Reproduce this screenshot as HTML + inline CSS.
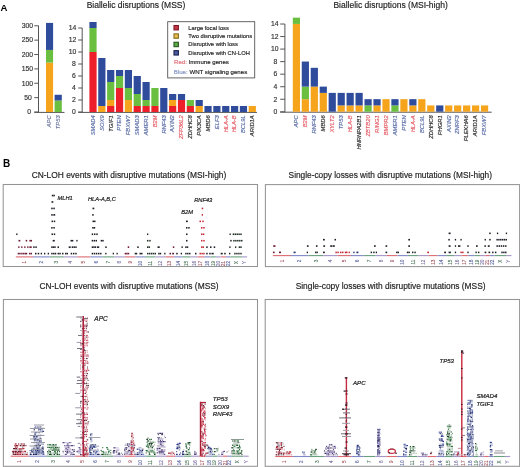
<!DOCTYPE html>
<html><head><meta charset="utf-8"><style>
html,body{margin:0;padding:0;background:#fff;}
svg{display:block;font-family:"Liberation Sans", Arial, Helvetica, sans-serif;filter:blur(0.35px);}
</style></head><body>
<svg width="520" height="467" viewBox="0 0 520 467">
<rect width="520" height="467" fill="#fff"/>
<text x="0.50" y="11.35" font-size="9.6" text-anchor="start" fill="#000" stroke="#000" stroke-width="0" font-weight="bold" font-style="normal" >A</text>
<text x="136.00" y="7.90" font-size="8.5" text-anchor="middle" fill="#222" stroke="#222" stroke-width="0.16" font-weight="normal" font-style="normal" >Biallelic disruptions (MSS)</text>
<text x="390.60" y="8.00" font-size="8.5" text-anchor="middle" fill="#222" stroke="#222" stroke-width="0.16" font-weight="normal" font-style="normal" >Biallelic disruptions (MSI-high)</text>
<line x1="38.50" y1="25.70" x2="38.50" y2="112.50" stroke="#555" stroke-width="1"/>
<line x1="34.30" y1="112.00" x2="38.50" y2="112.00" stroke="#555" stroke-width="1"/>
<text x="31.00" y="114.24" font-size="6.8" text-anchor="end" fill="#333" stroke="#333" stroke-width="0.16" font-weight="normal" font-style="normal" >0</text>
<line x1="34.30" y1="97.63" x2="38.50" y2="97.63" stroke="#555" stroke-width="1"/>
<text x="31.80" y="99.87" font-size="6.8" text-anchor="end" fill="#333" stroke="#333" stroke-width="0.16" font-weight="normal" font-style="normal" >50</text>
<line x1="34.30" y1="83.26" x2="38.50" y2="83.26" stroke="#555" stroke-width="1"/>
<text x="33.10" y="85.50" font-size="6.8" text-anchor="end" fill="#333" stroke="#333" stroke-width="0.16" font-weight="normal" font-style="normal" >100</text>
<line x1="34.30" y1="68.89" x2="38.50" y2="68.89" stroke="#555" stroke-width="1"/>
<text x="33.10" y="71.13" font-size="6.8" text-anchor="end" fill="#333" stroke="#333" stroke-width="0.16" font-weight="normal" font-style="normal" >150</text>
<line x1="34.30" y1="54.52" x2="38.50" y2="54.52" stroke="#555" stroke-width="1"/>
<text x="33.10" y="56.76" font-size="6.8" text-anchor="end" fill="#333" stroke="#333" stroke-width="0.16" font-weight="normal" font-style="normal" >200</text>
<line x1="34.30" y1="40.15" x2="38.50" y2="40.15" stroke="#555" stroke-width="1"/>
<text x="33.10" y="42.39" font-size="6.8" text-anchor="end" fill="#333" stroke="#333" stroke-width="0.16" font-weight="normal" font-style="normal" >250</text>
<line x1="34.30" y1="25.78" x2="38.50" y2="25.78" stroke="#555" stroke-width="1"/>
<text x="33.10" y="28.02" font-size="6.8" text-anchor="end" fill="#333" stroke="#333" stroke-width="0.16" font-weight="normal" font-style="normal" >300</text>
<line x1="34.30" y1="112.40" x2="64.50" y2="112.40" stroke="#555" stroke-width="1"/>
<rect x="46.00" y="62.57" width="7.10" height="49.43" fill="#f5a41c" />
<rect x="46.00" y="49.92" width="7.10" height="12.65" fill="#6abf40" />
<rect x="46.00" y="22.91" width="7.10" height="27.02" fill="#2f4c9c" />
<rect x="54.60" y="100.50" width="7.20" height="11.50" fill="#6abf40" />
<rect x="54.60" y="94.76" width="7.20" height="5.75" fill="#2f4c9c" />
<text transform="translate(51.40,115.4) rotate(-90)" font-size="5.75" font-style="italic" text-anchor="end" fill="#6a72a0" stroke="#6a72a0" stroke-width="0.14">APC</text>
<text transform="translate(60.00,115.4) rotate(-90)" font-size="5.75" font-style="italic" text-anchor="end" fill="#6a72a0" stroke="#6a72a0" stroke-width="0.14">TP53</text>
<line x1="82.20" y1="28.00" x2="82.20" y2="112.50" stroke="#555" stroke-width="1"/>
<line x1="78.20" y1="112.00" x2="82.20" y2="112.00" stroke="#555" stroke-width="1"/>
<text x="75.70" y="114.24" font-size="6.8" text-anchor="end" fill="#333" stroke="#333" stroke-width="0.16" font-weight="normal" font-style="normal" >0</text>
<line x1="78.20" y1="100.00" x2="82.20" y2="100.00" stroke="#555" stroke-width="1"/>
<text x="75.70" y="102.24" font-size="6.8" text-anchor="end" fill="#333" stroke="#333" stroke-width="0.16" font-weight="normal" font-style="normal" >2</text>
<line x1="78.20" y1="88.00" x2="82.20" y2="88.00" stroke="#555" stroke-width="1"/>
<text x="75.70" y="90.24" font-size="6.8" text-anchor="end" fill="#333" stroke="#333" stroke-width="0.16" font-weight="normal" font-style="normal" >4</text>
<line x1="78.20" y1="76.00" x2="82.20" y2="76.00" stroke="#555" stroke-width="1"/>
<text x="75.70" y="78.24" font-size="6.8" text-anchor="end" fill="#333" stroke="#333" stroke-width="0.16" font-weight="normal" font-style="normal" >6</text>
<line x1="78.20" y1="64.00" x2="82.20" y2="64.00" stroke="#555" stroke-width="1"/>
<text x="75.70" y="66.24" font-size="6.8" text-anchor="end" fill="#333" stroke="#333" stroke-width="0.16" font-weight="normal" font-style="normal" >8</text>
<line x1="78.20" y1="52.00" x2="82.20" y2="52.00" stroke="#555" stroke-width="1"/>
<text x="76.40" y="54.24" font-size="6.8" text-anchor="end" fill="#333" stroke="#333" stroke-width="0.16" font-weight="normal" font-style="normal" >10</text>
<line x1="78.20" y1="40.00" x2="82.20" y2="40.00" stroke="#555" stroke-width="1"/>
<text x="76.40" y="42.24" font-size="6.8" text-anchor="end" fill="#333" stroke="#333" stroke-width="0.16" font-weight="normal" font-style="normal" >12</text>
<line x1="78.20" y1="28.00" x2="82.20" y2="28.00" stroke="#555" stroke-width="1"/>
<text x="76.40" y="30.24" font-size="6.8" text-anchor="end" fill="#333" stroke="#333" stroke-width="0.16" font-weight="normal" font-style="normal" >14</text>
<line x1="78.20" y1="112.40" x2="257.00" y2="112.40" stroke="#555" stroke-width="1"/>
<rect x="89.40" y="52.00" width="7.20" height="60.00" fill="#ec1f2a" />
<rect x="89.40" y="28.00" width="7.20" height="24.00" fill="#6abf40" />
<rect x="89.40" y="22.00" width="7.20" height="6.00" fill="#2f4c9c" />
<rect x="98.25" y="106.00" width="7.20" height="6.00" fill="#f5a41c" />
<rect x="98.25" y="58.00" width="7.20" height="48.00" fill="#2f4c9c" />
<rect x="107.10" y="106.00" width="7.20" height="6.00" fill="#ec1f2a" />
<rect x="107.10" y="100.00" width="7.20" height="6.00" fill="#f5a41c" />
<rect x="107.10" y="82.00" width="7.20" height="18.00" fill="#6abf40" />
<rect x="107.10" y="70.00" width="7.20" height="12.00" fill="#2f4c9c" />
<rect x="115.95" y="88.00" width="7.20" height="24.00" fill="#ec1f2a" />
<rect x="115.95" y="76.00" width="7.20" height="12.00" fill="#6abf40" />
<rect x="115.95" y="70.00" width="7.20" height="6.00" fill="#2f4c9c" />
<rect x="124.80" y="100.00" width="7.20" height="12.00" fill="#f5a41c" />
<rect x="124.80" y="88.00" width="7.20" height="12.00" fill="#6abf40" />
<rect x="124.80" y="70.00" width="7.20" height="18.00" fill="#2f4c9c" />
<rect x="133.65" y="106.00" width="7.20" height="6.00" fill="#ec1f2a" />
<rect x="133.65" y="94.00" width="7.20" height="12.00" fill="#6abf40" />
<rect x="133.65" y="76.00" width="7.20" height="18.00" fill="#2f4c9c" />
<rect x="142.50" y="106.00" width="7.20" height="6.00" fill="#ec1f2a" />
<rect x="142.50" y="100.00" width="7.20" height="6.00" fill="#6abf40" />
<rect x="142.50" y="82.00" width="7.20" height="18.00" fill="#2f4c9c" />
<rect x="151.35" y="106.00" width="7.20" height="6.00" fill="#ec1f2a" />
<rect x="151.35" y="88.00" width="7.20" height="18.00" fill="#6abf40" />
<rect x="160.20" y="88.00" width="7.20" height="24.00" fill="#2f4c9c" />
<rect x="169.05" y="106.00" width="7.20" height="6.00" fill="#ec1f2a" />
<rect x="169.05" y="100.00" width="7.20" height="6.00" fill="#f5a41c" />
<rect x="169.05" y="94.00" width="7.20" height="6.00" fill="#2f4c9c" />
<rect x="177.90" y="100.00" width="7.20" height="12.00" fill="#ec1f2a" />
<rect x="177.90" y="94.00" width="7.20" height="6.00" fill="#2f4c9c" />
<rect x="186.75" y="106.00" width="7.20" height="6.00" fill="#ec1f2a" />
<rect x="186.75" y="100.00" width="7.20" height="6.00" fill="#6abf40" />
<rect x="195.60" y="106.00" width="7.20" height="6.00" fill="#f5a41c" />
<rect x="195.60" y="100.00" width="7.20" height="6.00" fill="#2f4c9c" />
<rect x="204.45" y="106.00" width="7.20" height="6.00" fill="#2f4c9c" />
<rect x="213.30" y="106.00" width="7.20" height="6.00" fill="#2f4c9c" />
<rect x="222.15" y="106.00" width="7.20" height="6.00" fill="#2f4c9c" />
<rect x="231.00" y="106.00" width="7.20" height="6.00" fill="#2f4c9c" />
<rect x="239.85" y="106.00" width="7.20" height="6.00" fill="#2f4c9c" />
<rect x="248.70" y="106.00" width="7.20" height="6.00" fill="#f5a41c" />
<text transform="translate(94.80,115.4) rotate(-90)" font-size="5.75" font-style="italic" text-anchor="end" fill="#5b6ea8" stroke="#5b6ea8" stroke-width="0.16">SMAD4</text>
<text transform="translate(103.65,115.4) rotate(-90)" font-size="5.75" font-style="italic" text-anchor="end" fill="#5b6ea8" stroke="#5b6ea8" stroke-width="0.16">SOX9</text>
<text transform="translate(112.50,115.4) rotate(-90)" font-size="5.75" font-style="italic" text-anchor="end" fill="#2e2e2e" stroke="#2e2e2e" stroke-width="0.16">TGIF1</text>
<text transform="translate(121.35,115.4) rotate(-90)" font-size="5.75" font-style="italic" text-anchor="end" fill="#5b6ea8" stroke="#5b6ea8" stroke-width="0.16">PTEN</text>
<text transform="translate(130.20,115.4) rotate(-90)" font-size="5.75" font-style="italic" text-anchor="end" fill="#5b6ea8" stroke="#5b6ea8" stroke-width="0.16">FBXW7</text>
<text transform="translate(139.05,115.4) rotate(-90)" font-size="5.75" font-style="italic" text-anchor="end" fill="#5b6ea8" stroke="#5b6ea8" stroke-width="0.16">SMAD3</text>
<text transform="translate(147.90,115.4) rotate(-90)" font-size="5.75" font-style="italic" text-anchor="end" fill="#5b6ea8" stroke="#5b6ea8" stroke-width="0.16">AMER1</text>
<text transform="translate(156.75,115.4) rotate(-90)" font-size="5.75" font-style="italic" text-anchor="end" fill="#e45b66" stroke="#e45b66" stroke-width="0.16">B2M</text>
<text transform="translate(165.60,115.4) rotate(-90)" font-size="5.75" font-style="italic" text-anchor="end" fill="#5b6ea8" stroke="#5b6ea8" stroke-width="0.16">RNF43</text>
<text transform="translate(174.45,115.4) rotate(-90)" font-size="5.75" font-style="italic" text-anchor="end" fill="#5b6ea8" stroke="#5b6ea8" stroke-width="0.16">AXIN2</text>
<text transform="translate(183.30,115.4) rotate(-90)" font-size="5.75" font-style="italic" text-anchor="end" fill="#e45b66" stroke="#e45b66" stroke-width="0.16">ZFP36L2</text>
<text transform="translate(192.15,115.4) rotate(-90)" font-size="5.75" font-style="italic" text-anchor="end" fill="#2e2e2e" stroke="#2e2e2e" stroke-width="0.16">ZDHHC8</text>
<text transform="translate(201.00,115.4) rotate(-90)" font-size="5.75" font-style="italic" text-anchor="end" fill="#2e2e2e" stroke="#2e2e2e" stroke-width="0.16">PIK3CA</text>
<text transform="translate(209.85,115.4) rotate(-90)" font-size="5.75" font-style="italic" text-anchor="end" fill="#2e2e2e" stroke="#2e2e2e" stroke-width="0.16">MBD6</text>
<text transform="translate(218.70,115.4) rotate(-90)" font-size="5.75" font-style="italic" text-anchor="end" fill="#5b6ea8" stroke="#5b6ea8" stroke-width="0.16">ELF3</text>
<text transform="translate(227.55,115.4) rotate(-90)" font-size="5.75" font-style="italic" text-anchor="end" fill="#e45b66" stroke="#e45b66" stroke-width="0.16">HLA-A</text>
<text transform="translate(236.40,115.4) rotate(-90)" font-size="5.75" font-style="italic" text-anchor="end" fill="#e45b66" stroke="#e45b66" stroke-width="0.16">HLA-B</text>
<text transform="translate(245.25,115.4) rotate(-90)" font-size="5.75" font-style="italic" text-anchor="end" fill="#5b6ea8" stroke="#5b6ea8" stroke-width="0.16">BCL9L</text>
<text transform="translate(254.10,115.4) rotate(-90)" font-size="5.75" font-style="italic" text-anchor="end" fill="#2e2e2e" stroke="#2e2e2e" stroke-width="0.16">ARID1A</text>
<rect x="167.7" y="21.7" width="87" height="56.2" fill="none" stroke="#555" stroke-width="0.9"/>
<rect x="174.0" y="25.50" width="4.4" height="4.4" fill="#c83444" stroke="#7a1828" stroke-width="1.1"/>
<text x="188.30" y="29.70" font-size="5.8" text-anchor="start" fill="#222" stroke="#222" stroke-width="0.16" font-weight="normal" font-style="normal" >Large focal loss</text>
<rect x="174.0" y="33.88" width="4.4" height="4.4" fill="#e6c048" stroke="#8a6a28" stroke-width="1.1"/>
<text x="188.30" y="38.08" font-size="5.8" text-anchor="start" fill="#222" stroke="#222" stroke-width="0.16" font-weight="normal" font-style="normal" >Two disruptive mutations</text>
<rect x="174.0" y="42.26" width="4.4" height="4.4" fill="#5ea848" stroke="#245a1c" stroke-width="1.1"/>
<text x="188.30" y="46.46" font-size="5.8" text-anchor="start" fill="#222" stroke="#222" stroke-width="0.16" font-weight="normal" font-style="normal" >Disruptive with loss</text>
<rect x="174.0" y="50.64" width="4.4" height="4.4" fill="#4a5aa0" stroke="#1a2250" stroke-width="1.1"/>
<text x="188.30" y="54.84" font-size="5.8" text-anchor="start" fill="#222" stroke="#222" stroke-width="0.16" font-weight="normal" font-style="normal" >Disruptive with CN-LOH</text>
<text x="174.0" y="64.4" font-size="6.1" fill="#222" stroke="#222" stroke-width="0.16"><tspan fill="#e07078" stroke="#e07078">Red:</tspan> Immune genes</text>
<text x="173.8" y="74.2" font-size="6.1" fill="#222" stroke="#222" stroke-width="0.16"><tspan fill="#8494c4" stroke="#8494c4">Blue:</tspan> WNT signaling genes</text>
<line x1="284.90" y1="24.00" x2="284.90" y2="112.30" stroke="#555" stroke-width="1"/>
<line x1="280.20" y1="111.80" x2="284.90" y2="111.80" stroke="#555" stroke-width="1"/>
<text x="277.30" y="114.04" font-size="6.8" text-anchor="end" fill="#333" stroke="#333" stroke-width="0.16" font-weight="normal" font-style="normal" >0</text>
<line x1="280.20" y1="99.26" x2="284.90" y2="99.26" stroke="#555" stroke-width="1"/>
<text x="277.30" y="101.50" font-size="6.8" text-anchor="end" fill="#333" stroke="#333" stroke-width="0.16" font-weight="normal" font-style="normal" >2</text>
<line x1="280.20" y1="86.72" x2="284.90" y2="86.72" stroke="#555" stroke-width="1"/>
<text x="277.30" y="88.96" font-size="6.8" text-anchor="end" fill="#333" stroke="#333" stroke-width="0.16" font-weight="normal" font-style="normal" >4</text>
<line x1="280.20" y1="74.18" x2="284.90" y2="74.18" stroke="#555" stroke-width="1"/>
<text x="277.30" y="76.42" font-size="6.8" text-anchor="end" fill="#333" stroke="#333" stroke-width="0.16" font-weight="normal" font-style="normal" >6</text>
<line x1="280.20" y1="61.64" x2="284.90" y2="61.64" stroke="#555" stroke-width="1"/>
<text x="277.30" y="63.88" font-size="6.8" text-anchor="end" fill="#333" stroke="#333" stroke-width="0.16" font-weight="normal" font-style="normal" >8</text>
<line x1="280.20" y1="49.10" x2="284.90" y2="49.10" stroke="#555" stroke-width="1"/>
<text x="278.50" y="51.34" font-size="6.8" text-anchor="end" fill="#333" stroke="#333" stroke-width="0.16" font-weight="normal" font-style="normal" >10</text>
<line x1="280.20" y1="36.56" x2="284.90" y2="36.56" stroke="#555" stroke-width="1"/>
<text x="278.50" y="38.80" font-size="6.8" text-anchor="end" fill="#333" stroke="#333" stroke-width="0.16" font-weight="normal" font-style="normal" >12</text>
<line x1="280.20" y1="24.02" x2="284.90" y2="24.02" stroke="#555" stroke-width="1"/>
<text x="278.50" y="26.26" font-size="6.8" text-anchor="end" fill="#333" stroke="#333" stroke-width="0.16" font-weight="normal" font-style="normal" >14</text>
<line x1="280.20" y1="112.20" x2="491.70" y2="112.20" stroke="#555" stroke-width="1"/>
<rect x="292.80" y="23.92" width="7.20" height="87.78" fill="#f5a41c" />
<rect x="292.80" y="17.65" width="7.20" height="6.27" fill="#6abf40" />
<rect x="301.76" y="99.16" width="7.20" height="12.54" fill="#f5a41c" />
<rect x="301.76" y="86.62" width="7.20" height="12.54" fill="#6abf40" />
<rect x="301.76" y="61.54" width="7.20" height="25.08" fill="#2f4c9c" />
<rect x="310.72" y="86.62" width="7.20" height="25.08" fill="#f5a41c" />
<rect x="310.72" y="67.81" width="7.20" height="18.81" fill="#2f4c9c" />
<rect x="319.68" y="92.89" width="7.20" height="18.81" fill="#f5a41c" />
<rect x="319.68" y="86.62" width="7.20" height="6.27" fill="#2f4c9c" />
<rect x="328.64" y="92.89" width="7.20" height="18.81" fill="#2f4c9c" />
<rect x="337.60" y="105.43" width="7.20" height="6.27" fill="#f5a41c" />
<rect x="337.60" y="92.89" width="7.20" height="12.54" fill="#2f4c9c" />
<rect x="346.56" y="105.43" width="7.20" height="6.27" fill="#f5a41c" />
<rect x="346.56" y="92.89" width="7.20" height="12.54" fill="#2f4c9c" />
<rect x="355.52" y="105.43" width="7.20" height="6.27" fill="#f5a41c" />
<rect x="355.52" y="92.89" width="7.20" height="12.54" fill="#2f4c9c" />
<rect x="364.48" y="105.43" width="7.20" height="6.27" fill="#6abf40" />
<rect x="364.48" y="99.16" width="7.20" height="6.27" fill="#2f4c9c" />
<rect x="373.44" y="105.43" width="7.20" height="6.27" fill="#f5a41c" />
<rect x="373.44" y="99.16" width="7.20" height="6.27" fill="#2f4c9c" />
<rect x="382.40" y="99.16" width="7.20" height="12.54" fill="#f5a41c" />
<rect x="391.36" y="105.43" width="7.20" height="6.27" fill="#6abf40" />
<rect x="391.36" y="99.16" width="7.20" height="6.27" fill="#2f4c9c" />
<rect x="400.32" y="99.16" width="7.20" height="12.54" fill="#f5a41c" />
<rect x="409.28" y="105.43" width="7.20" height="6.27" fill="#f5a41c" />
<rect x="409.28" y="99.16" width="7.20" height="6.27" fill="#2f4c9c" />
<rect x="418.24" y="99.16" width="7.20" height="12.54" fill="#f5a41c" />
<rect x="427.20" y="105.43" width="7.20" height="6.27" fill="#f5a41c" />
<rect x="436.16" y="105.43" width="7.20" height="6.27" fill="#2f4c9c" />
<rect x="445.12" y="105.43" width="7.20" height="6.27" fill="#f5a41c" />
<rect x="454.08" y="105.43" width="7.20" height="6.27" fill="#f5a41c" />
<rect x="463.04" y="105.43" width="7.20" height="6.27" fill="#f5a41c" />
<rect x="472.00" y="105.43" width="7.20" height="6.27" fill="#f5a41c" />
<rect x="480.96" y="105.43" width="7.20" height="6.27" fill="#f5a41c" />
<text transform="translate(298.20,115.4) rotate(-90)" font-size="5.75" font-style="italic" text-anchor="end" fill="#5b6ea8" stroke="#5b6ea8" stroke-width="0.16">APC</text>
<text transform="translate(307.16,115.4) rotate(-90)" font-size="5.75" font-style="italic" text-anchor="end" fill="#e45b66" stroke="#e45b66" stroke-width="0.16">B2M</text>
<text transform="translate(316.12,115.4) rotate(-90)" font-size="5.75" font-style="italic" text-anchor="end" fill="#5b6ea8" stroke="#5b6ea8" stroke-width="0.16">RNF43</text>
<text transform="translate(325.08,115.4) rotate(-90)" font-size="5.75" font-style="italic" text-anchor="end" fill="#2e2e2e" stroke="#2e2e2e" stroke-width="0.16">MBD6</text>
<text transform="translate(334.04,115.4) rotate(-90)" font-size="5.75" font-style="italic" text-anchor="end" fill="#e45b66" stroke="#e45b66" stroke-width="0.16">XYLT2</text>
<text transform="translate(343.00,115.4) rotate(-90)" font-size="5.75" font-style="italic" text-anchor="end" fill="#5b6ea8" stroke="#5b6ea8" stroke-width="0.16">TP53</text>
<text transform="translate(351.96,115.4) rotate(-90)" font-size="5.75" font-style="italic" text-anchor="end" fill="#e45b66" stroke="#e45b66" stroke-width="0.16">HLA-B</text>
<text transform="translate(360.92,115.4) rotate(-90)" font-size="5.75" font-style="italic" text-anchor="end" fill="#2e2e2e" stroke="#2e2e2e" stroke-width="0.16">HNRNPA2B1</text>
<text transform="translate(369.88,115.4) rotate(-90)" font-size="5.75" font-style="italic" text-anchor="end" fill="#e45b66" stroke="#e45b66" stroke-width="0.16">ZBTB20</text>
<text transform="translate(378.84,115.4) rotate(-90)" font-size="5.75" font-style="italic" text-anchor="end" fill="#e45b66" stroke="#e45b66" stroke-width="0.16">RING1</text>
<text transform="translate(387.80,115.4) rotate(-90)" font-size="5.75" font-style="italic" text-anchor="end" fill="#e45b66" stroke="#e45b66" stroke-width="0.16">BMPR2</text>
<text transform="translate(396.76,115.4) rotate(-90)" font-size="5.75" font-style="italic" text-anchor="end" fill="#5b6ea8" stroke="#5b6ea8" stroke-width="0.16">AMER1</text>
<text transform="translate(405.72,115.4) rotate(-90)" font-size="5.75" font-style="italic" text-anchor="end" fill="#5b6ea8" stroke="#5b6ea8" stroke-width="0.16">PTEN</text>
<text transform="translate(414.68,115.4) rotate(-90)" font-size="5.75" font-style="italic" text-anchor="end" fill="#e45b66" stroke="#e45b66" stroke-width="0.16">HLA-A</text>
<text transform="translate(423.64,115.4) rotate(-90)" font-size="5.75" font-style="italic" text-anchor="end" fill="#5b6ea8" stroke="#5b6ea8" stroke-width="0.16">BCL9L</text>
<text transform="translate(432.60,115.4) rotate(-90)" font-size="5.75" font-style="italic" text-anchor="end" fill="#2e2e2e" stroke="#2e2e2e" stroke-width="0.16">ZDHHC8</text>
<text transform="translate(441.56,115.4) rotate(-90)" font-size="5.75" font-style="italic" text-anchor="end" fill="#2e2e2e" stroke="#2e2e2e" stroke-width="0.16">PHGR1</text>
<text transform="translate(450.52,115.4) rotate(-90)" font-size="5.75" font-style="italic" text-anchor="end" fill="#5b6ea8" stroke="#5b6ea8" stroke-width="0.16">AXIN2</text>
<text transform="translate(459.48,115.4) rotate(-90)" font-size="5.75" font-style="italic" text-anchor="end" fill="#5b6ea8" stroke="#5b6ea8" stroke-width="0.16">ZNRF3</text>
<text transform="translate(468.44,115.4) rotate(-90)" font-size="5.75" font-style="italic" text-anchor="end" fill="#2e2e2e" stroke="#2e2e2e" stroke-width="0.16">PLEKHA6</text>
<text transform="translate(477.40,115.4) rotate(-90)" font-size="5.75" font-style="italic" text-anchor="end" fill="#2e2e2e" stroke="#2e2e2e" stroke-width="0.16">ARID1A</text>
<text transform="translate(486.36,115.4) rotate(-90)" font-size="5.75" font-style="italic" text-anchor="end" fill="#5b6ea8" stroke="#5b6ea8" stroke-width="0.16">FBXW7</text>
<text x="2.90" y="167.20" font-size="10" text-anchor="start" fill="#000" stroke="#000" stroke-width="0" font-weight="bold" font-style="normal" >B</text>
<rect x="3.2" y="184.5" width="254.30" height="82.00" fill="none" stroke="#949494" stroke-width="1.05"/>
<rect x="265.4" y="184.6" width="254.20" height="82.00" fill="none" stroke="#949494" stroke-width="1.05"/>
<rect x="3.4" y="299.5" width="254.10" height="166.80" fill="none" stroke="#949494" stroke-width="1.05"/>
<rect x="265.2" y="299.5" width="254.40" height="166.80" fill="none" stroke="#949494" stroke-width="1.05"/>
<text x="129.00" y="178.20" font-size="8.4" text-anchor="middle" fill="#222" stroke="#222" stroke-width="0.16" font-weight="normal" font-style="normal" >CN-LOH events with disruptive mutations (MSI-high)</text>
<text x="390.30" y="178.20" font-size="8.3" text-anchor="middle" fill="#222" stroke="#222" stroke-width="0.16" font-weight="normal" font-style="normal" >Single-copy losses with disruptive mutations (MSI-high)</text>
<text x="129.00" y="289.00" font-size="8.4" text-anchor="middle" fill="#222" stroke="#222" stroke-width="0.16" font-weight="normal" font-style="normal" >CN-LOH events with disruptive mutations (MSS)</text>
<text x="390.60" y="289.00" font-size="8.4" text-anchor="middle" fill="#222" stroke="#222" stroke-width="0.16" font-weight="normal" font-style="normal" >Single-copy losses with disruptive mutations (MSS)</text>
<rect x="15.80" y="256.35" width="17.21" height="1.10" fill="#dc6a72" />
<text transform="translate(26.01,260.90) rotate(-90)" font-size="4.6" text-anchor="end" fill="#a0505a" stroke="#a0505a" stroke-width="0.12">1</text>
<rect x="33.02" y="256.35" width="16.83" height="1.10" fill="#8088c8" />
<text transform="translate(43.04,260.90) rotate(-90)" font-size="4.6" text-anchor="end" fill="#5a64a0" stroke="#5a64a0" stroke-width="0.12">2</text>
<rect x="49.85" y="256.35" width="13.99" height="1.10" fill="#68a07c" />
<text transform="translate(58.45,260.90) rotate(-90)" font-size="4.6" text-anchor="end" fill="#4a7458" stroke="#4a7458" stroke-width="0.12">3</text>
<rect x="63.84" y="256.35" width="13.55" height="1.10" fill="#a494c8" />
<text transform="translate(72.22,260.90) rotate(-90)" font-size="4.6" text-anchor="end" fill="#7a70a0" stroke="#7a70a0" stroke-width="0.12">4</text>
<rect x="77.39" y="256.35" width="12.91" height="1.10" fill="#dc6a72" />
<text transform="translate(85.45,260.90) rotate(-90)" font-size="4.6" text-anchor="end" fill="#a0505a" stroke="#a0505a" stroke-width="0.12">5</text>
<rect x="90.30" y="256.35" width="12.29" height="1.10" fill="#8088c8" />
<text transform="translate(98.05,260.90) rotate(-90)" font-size="4.6" text-anchor="end" fill="#5a64a0" stroke="#5a64a0" stroke-width="0.12">6</text>
<rect x="102.60" y="256.35" width="11.54" height="1.10" fill="#68a07c" />
<text transform="translate(109.97,260.90) rotate(-90)" font-size="4.6" text-anchor="end" fill="#4a7458" stroke="#4a7458" stroke-width="0.12">7</text>
<rect x="114.13" y="256.35" width="10.73" height="1.10" fill="#a494c8" />
<text transform="translate(121.10,260.90) rotate(-90)" font-size="4.6" text-anchor="end" fill="#7a70a0" stroke="#7a70a0" stroke-width="0.12">8</text>
<rect x="124.87" y="256.35" width="10.41" height="1.10" fill="#dc6a72" />
<text transform="translate(131.67,260.90) rotate(-90)" font-size="4.6" text-anchor="end" fill="#a0505a" stroke="#a0505a" stroke-width="0.12">9</text>
<rect x="135.28" y="256.35" width="10.05" height="1.10" fill="#8088c8" />
<text transform="translate(141.90,260.90) rotate(-90)" font-size="4.6" text-anchor="end" fill="#5a64a0" stroke="#5a64a0" stroke-width="0.12">10</text>
<rect x="145.33" y="256.35" width="10.02" height="1.10" fill="#68a07c" />
<text transform="translate(151.93,260.90) rotate(-90)" font-size="4.6" text-anchor="end" fill="#4a7458" stroke="#4a7458" stroke-width="0.12">11</text>
<rect x="155.34" y="256.35" width="9.94" height="1.10" fill="#a494c8" />
<text transform="translate(161.92,260.90) rotate(-90)" font-size="4.6" text-anchor="end" fill="#7a70a0" stroke="#7a70a0" stroke-width="0.12">12</text>
<rect x="165.29" y="256.35" width="8.77" height="1.10" fill="#dc6a72" />
<text transform="translate(171.27,260.90) rotate(-90)" font-size="4.6" text-anchor="end" fill="#a0505a" stroke="#a0505a" stroke-width="0.12">13</text>
<rect x="174.06" y="256.35" width="8.28" height="1.10" fill="#8088c8" />
<text transform="translate(179.79,260.90) rotate(-90)" font-size="4.6" text-anchor="end" fill="#5a64a0" stroke="#5a64a0" stroke-width="0.12">14</text>
<rect x="182.33" y="256.35" width="7.97" height="1.10" fill="#68a07c" />
<text transform="translate(187.92,260.90) rotate(-90)" font-size="4.6" text-anchor="end" fill="#4a7458" stroke="#4a7458" stroke-width="0.12">15</text>
<rect x="190.30" y="256.35" width="7.20" height="1.10" fill="#a494c8" />
<text transform="translate(195.50,260.90) rotate(-90)" font-size="4.6" text-anchor="end" fill="#7a70a0" stroke="#7a70a0" stroke-width="0.12">16</text>
<rect x="197.51" y="256.35" width="6.63" height="1.10" fill="#dc6a72" />
<text transform="translate(202.42,260.90) rotate(-90)" font-size="4.6" text-anchor="end" fill="#a0505a" stroke="#a0505a" stroke-width="0.12">17</text>
<rect x="204.13" y="256.35" width="6.43" height="1.10" fill="#8088c8" />
<text transform="translate(208.95,260.90) rotate(-90)" font-size="4.6" text-anchor="end" fill="#5a64a0" stroke="#5a64a0" stroke-width="0.12">18</text>
<rect x="210.56" y="256.35" width="5.24" height="1.10" fill="#68a07c" />
<text transform="translate(214.78,260.90) rotate(-90)" font-size="4.6" text-anchor="end" fill="#4a7458" stroke="#4a7458" stroke-width="0.12">19</text>
<rect x="215.80" y="256.35" width="5.48" height="1.10" fill="#a494c8" />
<text transform="translate(220.14,260.90) rotate(-90)" font-size="4.6" text-anchor="end" fill="#7a70a0" stroke="#7a70a0" stroke-width="0.12">20</text>
<rect x="221.28" y="256.35" width="4.54" height="1.10" fill="#dc6a72" />
<text transform="translate(225.16,260.90) rotate(-90)" font-size="4.6" text-anchor="end" fill="#a0505a" stroke="#a0505a" stroke-width="0.12">21</text>
<rect x="225.83" y="256.35" width="4.74" height="1.10" fill="#8088c8" />
<text transform="translate(229.80,260.90) rotate(-90)" font-size="4.6" text-anchor="end" fill="#5a64a0" stroke="#5a64a0" stroke-width="0.12">22</text>
<rect x="230.57" y="256.35" width="11.29" height="1.10" fill="#68a07c" />
<text transform="translate(237.82,260.90) rotate(-90)" font-size="4.6" text-anchor="end" fill="#4a7458" stroke="#4a7458" stroke-width="0.12">X</text>
<rect x="241.87" y="256.35" width="5.25" height="1.10" fill="#a494c8" />
<text transform="translate(246.09,260.90) rotate(-90)" font-size="4.6" text-anchor="end" fill="#7a70a0" stroke="#7a70a0" stroke-width="0.12">Y</text>
<rect x="272.86" y="255.05" width="18.10" height="1.10" fill="#dc6a72" />
<text transform="translate(283.51,259.60) rotate(-90)" font-size="4.6" text-anchor="end" fill="#a0505a" stroke="#a0505a" stroke-width="0.12">1</text>
<rect x="290.96" y="255.05" width="17.69" height="1.10" fill="#8088c8" />
<text transform="translate(301.40,259.60) rotate(-90)" font-size="4.6" text-anchor="end" fill="#5a64a0" stroke="#5a64a0" stroke-width="0.12">2</text>
<rect x="308.64" y="255.05" width="14.62" height="1.10" fill="#68a07c" />
<text transform="translate(317.55,259.60) rotate(-90)" font-size="4.6" text-anchor="end" fill="#4a7458" stroke="#4a7458" stroke-width="0.12">3</text>
<rect x="323.27" y="255.05" width="14.16" height="1.10" fill="#a494c8" />
<text transform="translate(331.94,259.60) rotate(-90)" font-size="4.6" text-anchor="end" fill="#7a70a0" stroke="#7a70a0" stroke-width="0.12">4</text>
<rect x="337.42" y="255.05" width="13.46" height="1.10" fill="#dc6a72" />
<text transform="translate(345.76,259.60) rotate(-90)" font-size="4.6" text-anchor="end" fill="#a0505a" stroke="#a0505a" stroke-width="0.12">5</text>
<rect x="350.89" y="255.05" width="12.80" height="1.10" fill="#8088c8" />
<text transform="translate(358.89,259.60) rotate(-90)" font-size="4.6" text-anchor="end" fill="#5a64a0" stroke="#5a64a0" stroke-width="0.12">6</text>
<rect x="363.69" y="255.05" width="11.99" height="1.10" fill="#68a07c" />
<text transform="translate(371.28,259.60) rotate(-90)" font-size="4.6" text-anchor="end" fill="#4a7458" stroke="#4a7458" stroke-width="0.12">7</text>
<rect x="375.67" y="255.05" width="11.12" height="1.10" fill="#a494c8" />
<text transform="translate(382.83,259.60) rotate(-90)" font-size="4.6" text-anchor="end" fill="#7a70a0" stroke="#7a70a0" stroke-width="0.12">8</text>
<rect x="386.79" y="255.05" width="10.77" height="1.10" fill="#dc6a72" />
<text transform="translate(393.78,259.60) rotate(-90)" font-size="4.6" text-anchor="end" fill="#a0505a" stroke="#a0505a" stroke-width="0.12">9</text>
<rect x="397.56" y="255.05" width="10.39" height="1.10" fill="#8088c8" />
<text transform="translate(404.36,259.60) rotate(-90)" font-size="4.6" text-anchor="end" fill="#5a64a0" stroke="#5a64a0" stroke-width="0.12">10</text>
<rect x="407.95" y="255.05" width="10.35" height="1.10" fill="#68a07c" />
<text transform="translate(414.72,259.60) rotate(-90)" font-size="4.6" text-anchor="end" fill="#4a7458" stroke="#4a7458" stroke-width="0.12">11</text>
<rect x="418.30" y="255.05" width="10.27" height="1.10" fill="#a494c8" />
<text transform="translate(425.04,259.60) rotate(-90)" font-size="4.6" text-anchor="end" fill="#7a70a0" stroke="#7a70a0" stroke-width="0.12">12</text>
<rect x="428.57" y="255.05" width="9.01" height="1.10" fill="#dc6a72" />
<text transform="translate(434.67,259.60) rotate(-90)" font-size="4.6" text-anchor="end" fill="#a0505a" stroke="#a0505a" stroke-width="0.12">13</text>
<rect x="437.58" y="255.05" width="8.48" height="1.10" fill="#8088c8" />
<text transform="translate(443.42,259.60) rotate(-90)" font-size="4.6" text-anchor="end" fill="#5a64a0" stroke="#5a64a0" stroke-width="0.12">14</text>
<rect x="446.05" y="255.05" width="8.15" height="1.10" fill="#68a07c" />
<text transform="translate(451.73,259.60) rotate(-90)" font-size="4.6" text-anchor="end" fill="#4a7458" stroke="#4a7458" stroke-width="0.12">15</text>
<rect x="454.20" y="255.05" width="7.32" height="1.10" fill="#a494c8" />
<text transform="translate(459.46,259.60) rotate(-90)" font-size="4.6" text-anchor="end" fill="#7a70a0" stroke="#7a70a0" stroke-width="0.12">16</text>
<rect x="461.52" y="255.05" width="6.70" height="1.10" fill="#dc6a72" />
<text transform="translate(466.48,259.60) rotate(-90)" font-size="4.6" text-anchor="end" fill="#a0505a" stroke="#a0505a" stroke-width="0.12">17</text>
<rect x="468.23" y="255.05" width="6.49" height="1.10" fill="#8088c8" />
<text transform="translate(473.07,259.60) rotate(-90)" font-size="4.6" text-anchor="end" fill="#5a64a0" stroke="#5a64a0" stroke-width="0.12">18</text>
<rect x="474.72" y="255.05" width="5.21" height="1.10" fill="#68a07c" />
<text transform="translate(478.92,259.60) rotate(-90)" font-size="4.6" text-anchor="end" fill="#4a7458" stroke="#4a7458" stroke-width="0.12">19</text>
<rect x="479.92" y="255.05" width="5.47" height="1.10" fill="#a494c8" />
<text transform="translate(484.26,259.60) rotate(-90)" font-size="4.6" text-anchor="end" fill="#7a70a0" stroke="#7a70a0" stroke-width="0.12">20</text>
<rect x="485.39" y="255.05" width="4.46" height="1.10" fill="#dc6a72" />
<text transform="translate(489.22,259.60) rotate(-90)" font-size="4.6" text-anchor="end" fill="#a0505a" stroke="#a0505a" stroke-width="0.12">21</text>
<rect x="489.85" y="255.05" width="4.68" height="1.10" fill="#8088c8" />
<text transform="translate(493.79,259.60) rotate(-90)" font-size="4.6" text-anchor="end" fill="#5a64a0" stroke="#5a64a0" stroke-width="0.12">22</text>
<rect x="494.53" y="255.05" width="11.72" height="1.10" fill="#68a07c" />
<text transform="translate(501.99,259.60) rotate(-90)" font-size="4.6" text-anchor="end" fill="#4a7458" stroke="#4a7458" stroke-width="0.12">X</text>
<rect x="506.25" y="255.05" width="5.22" height="1.10" fill="#a494c8" />
<text transform="translate(510.46,259.60) rotate(-90)" font-size="4.6" text-anchor="end" fill="#7a70a0" stroke="#7a70a0" stroke-width="0.12">Y</text>
<rect x="10.65" y="455.65" width="18.11" height="1.10" fill="#dc6a72" />
<text transform="translate(21.31,460.20) rotate(-90)" font-size="4.6" text-anchor="end" fill="#a0505a" stroke="#a0505a" stroke-width="0.12">1</text>
<rect x="28.76" y="455.65" width="17.70" height="1.10" fill="#8088c8" />
<text transform="translate(39.21,460.20) rotate(-90)" font-size="4.6" text-anchor="end" fill="#5a64a0" stroke="#5a64a0" stroke-width="0.12">2</text>
<rect x="46.46" y="455.65" width="14.62" height="1.10" fill="#68a07c" />
<text transform="translate(55.37,460.20) rotate(-90)" font-size="4.6" text-anchor="end" fill="#4a7458" stroke="#4a7458" stroke-width="0.12">3</text>
<rect x="61.08" y="455.65" width="14.15" height="1.10" fill="#a494c8" />
<text transform="translate(69.75,460.20) rotate(-90)" font-size="4.6" text-anchor="end" fill="#7a70a0" stroke="#7a70a0" stroke-width="0.12">4</text>
<rect x="75.23" y="455.65" width="13.46" height="1.10" fill="#dc6a72" />
<text transform="translate(83.56,460.20) rotate(-90)" font-size="4.6" text-anchor="end" fill="#a0505a" stroke="#a0505a" stroke-width="0.12">5</text>
<rect x="88.69" y="455.65" width="12.79" height="1.10" fill="#8088c8" />
<text transform="translate(96.68,460.20) rotate(-90)" font-size="4.6" text-anchor="end" fill="#5a64a0" stroke="#5a64a0" stroke-width="0.12">6</text>
<rect x="101.47" y="455.65" width="11.97" height="1.10" fill="#68a07c" />
<text transform="translate(109.06,460.20) rotate(-90)" font-size="4.6" text-anchor="end" fill="#4a7458" stroke="#4a7458" stroke-width="0.12">7</text>
<rect x="113.45" y="455.65" width="11.10" height="1.10" fill="#a494c8" />
<text transform="translate(120.60,460.20) rotate(-90)" font-size="4.6" text-anchor="end" fill="#7a70a0" stroke="#7a70a0" stroke-width="0.12">8</text>
<rect x="124.55" y="455.65" width="10.75" height="1.10" fill="#dc6a72" />
<text transform="translate(131.52,460.20) rotate(-90)" font-size="4.6" text-anchor="end" fill="#a0505a" stroke="#a0505a" stroke-width="0.12">9</text>
<rect x="135.30" y="455.65" width="10.36" height="1.10" fill="#8088c8" />
<text transform="translate(142.08,460.20) rotate(-90)" font-size="4.6" text-anchor="end" fill="#5a64a0" stroke="#5a64a0" stroke-width="0.12">10</text>
<rect x="145.67" y="455.65" width="10.33" height="1.10" fill="#68a07c" />
<text transform="translate(152.43,460.20) rotate(-90)" font-size="4.6" text-anchor="end" fill="#4a7458" stroke="#4a7458" stroke-width="0.12">11</text>
<rect x="155.99" y="455.65" width="10.25" height="1.10" fill="#a494c8" />
<text transform="translate(162.72,460.20) rotate(-90)" font-size="4.6" text-anchor="end" fill="#7a70a0" stroke="#7a70a0" stroke-width="0.12">12</text>
<rect x="166.24" y="455.65" width="8.98" height="1.10" fill="#dc6a72" />
<text transform="translate(172.33,460.20) rotate(-90)" font-size="4.6" text-anchor="end" fill="#a0505a" stroke="#a0505a" stroke-width="0.12">13</text>
<rect x="175.22" y="455.65" width="8.45" height="1.10" fill="#8088c8" />
<text transform="translate(181.05,460.20) rotate(-90)" font-size="4.6" text-anchor="end" fill="#5a64a0" stroke="#5a64a0" stroke-width="0.12">14</text>
<rect x="183.67" y="455.65" width="8.12" height="1.10" fill="#68a07c" />
<text transform="translate(189.33,460.20) rotate(-90)" font-size="4.6" text-anchor="end" fill="#4a7458" stroke="#4a7458" stroke-width="0.12">15</text>
<rect x="191.79" y="455.65" width="7.29" height="1.10" fill="#a494c8" />
<text transform="translate(197.03,460.20) rotate(-90)" font-size="4.6" text-anchor="end" fill="#7a70a0" stroke="#7a70a0" stroke-width="0.12">16</text>
<rect x="199.07" y="455.65" width="6.66" height="1.10" fill="#dc6a72" />
<text transform="translate(204.01,460.20) rotate(-90)" font-size="4.6" text-anchor="end" fill="#a0505a" stroke="#a0505a" stroke-width="0.12">17</text>
<rect x="205.74" y="455.65" width="6.45" height="1.10" fill="#8088c8" />
<text transform="translate(210.56,460.20) rotate(-90)" font-size="4.6" text-anchor="end" fill="#5a64a0" stroke="#5a64a0" stroke-width="0.12">18</text>
<rect x="212.19" y="455.65" width="5.16" height="1.10" fill="#68a07c" />
<text transform="translate(216.37,460.20) rotate(-90)" font-size="4.6" text-anchor="end" fill="#4a7458" stroke="#4a7458" stroke-width="0.12">19</text>
<rect x="217.35" y="455.65" width="5.43" height="1.10" fill="#a494c8" />
<text transform="translate(221.67,460.20) rotate(-90)" font-size="4.6" text-anchor="end" fill="#7a70a0" stroke="#7a70a0" stroke-width="0.12">20</text>
<rect x="222.78" y="455.65" width="4.41" height="1.10" fill="#dc6a72" />
<text transform="translate(226.59,460.20) rotate(-90)" font-size="4.6" text-anchor="end" fill="#a0505a" stroke="#a0505a" stroke-width="0.12">21</text>
<rect x="227.19" y="455.65" width="4.63" height="1.10" fill="#8088c8" />
<text transform="translate(231.11,460.20) rotate(-90)" font-size="4.6" text-anchor="end" fill="#5a64a0" stroke="#5a64a0" stroke-width="0.12">22</text>
<rect x="231.82" y="455.65" width="11.71" height="1.10" fill="#68a07c" />
<text transform="translate(239.28,460.20) rotate(-90)" font-size="4.6" text-anchor="end" fill="#4a7458" stroke="#4a7458" stroke-width="0.12">X</text>
<rect x="243.53" y="455.65" width="5.18" height="1.10" fill="#a494c8" />
<text transform="translate(247.72,460.20) rotate(-90)" font-size="4.6" text-anchor="end" fill="#7a70a0" stroke="#7a70a0" stroke-width="0.12">Y</text>
<rect x="275.25" y="455.95" width="17.58" height="1.10" fill="#dc6a72" />
<text transform="translate(285.65,460.50) rotate(-90)" font-size="4.6" text-anchor="end" fill="#a0505a" stroke="#a0505a" stroke-width="0.12">1</text>
<rect x="292.84" y="455.95" width="17.19" height="1.10" fill="#8088c8" />
<text transform="translate(303.03,460.50) rotate(-90)" font-size="4.6" text-anchor="end" fill="#5a64a0" stroke="#5a64a0" stroke-width="0.12">2</text>
<rect x="310.03" y="455.95" width="14.26" height="1.10" fill="#68a07c" />
<text transform="translate(318.76,460.50) rotate(-90)" font-size="4.6" text-anchor="end" fill="#4a7458" stroke="#4a7458" stroke-width="0.12">3</text>
<rect x="324.29" y="455.95" width="13.82" height="1.10" fill="#a494c8" />
<text transform="translate(332.80,460.50) rotate(-90)" font-size="4.6" text-anchor="end" fill="#7a70a0" stroke="#7a70a0" stroke-width="0.12">4</text>
<rect x="338.11" y="455.95" width="13.15" height="1.10" fill="#dc6a72" />
<text transform="translate(346.28,460.50) rotate(-90)" font-size="4.6" text-anchor="end" fill="#a0505a" stroke="#a0505a" stroke-width="0.12">5</text>
<rect x="351.26" y="455.95" width="12.52" height="1.10" fill="#8088c8" />
<text transform="translate(359.12,460.50) rotate(-90)" font-size="4.6" text-anchor="end" fill="#5a64a0" stroke="#5a64a0" stroke-width="0.12">6</text>
<rect x="363.78" y="455.95" width="11.74" height="1.10" fill="#68a07c" />
<text transform="translate(371.25,460.50) rotate(-90)" font-size="4.6" text-anchor="end" fill="#4a7458" stroke="#4a7458" stroke-width="0.12">7</text>
<rect x="375.52" y="455.95" width="10.92" height="1.10" fill="#a494c8" />
<text transform="translate(382.58,460.50) rotate(-90)" font-size="4.6" text-anchor="end" fill="#7a70a0" stroke="#7a70a0" stroke-width="0.12">8</text>
<rect x="386.44" y="455.95" width="10.58" height="1.10" fill="#dc6a72" />
<text transform="translate(393.33,460.50) rotate(-90)" font-size="4.6" text-anchor="end" fill="#a0505a" stroke="#a0505a" stroke-width="0.12">9</text>
<rect x="397.02" y="455.95" width="10.21" height="1.10" fill="#8088c8" />
<text transform="translate(403.73,460.50) rotate(-90)" font-size="4.6" text-anchor="end" fill="#5a64a0" stroke="#5a64a0" stroke-width="0.12">10</text>
<rect x="407.23" y="455.95" width="10.18" height="1.10" fill="#68a07c" />
<text transform="translate(413.92,460.50) rotate(-90)" font-size="4.6" text-anchor="end" fill="#4a7458" stroke="#4a7458" stroke-width="0.12">11</text>
<rect x="417.41" y="455.95" width="10.10" height="1.10" fill="#a494c8" />
<text transform="translate(424.07,460.50) rotate(-90)" font-size="4.6" text-anchor="end" fill="#7a70a0" stroke="#7a70a0" stroke-width="0.12">12</text>
<rect x="427.52" y="455.95" width="8.89" height="1.10" fill="#dc6a72" />
<text transform="translate(433.57,460.50) rotate(-90)" font-size="4.6" text-anchor="end" fill="#a0505a" stroke="#a0505a" stroke-width="0.12">13</text>
<rect x="436.41" y="455.95" width="8.39" height="1.10" fill="#8088c8" />
<text transform="translate(442.21,460.50) rotate(-90)" font-size="4.6" text-anchor="end" fill="#5a64a0" stroke="#5a64a0" stroke-width="0.12">14</text>
<rect x="444.80" y="455.95" width="8.07" height="1.10" fill="#68a07c" />
<text transform="translate(450.44,460.50) rotate(-90)" font-size="4.6" text-anchor="end" fill="#4a7458" stroke="#4a7458" stroke-width="0.12">15</text>
<rect x="452.88" y="455.95" width="7.29" height="1.10" fill="#a494c8" />
<text transform="translate(458.12,460.50) rotate(-90)" font-size="4.6" text-anchor="end" fill="#7a70a0" stroke="#7a70a0" stroke-width="0.12">16</text>
<rect x="460.16" y="455.95" width="6.69" height="1.10" fill="#dc6a72" />
<text transform="translate(465.11,460.50) rotate(-90)" font-size="4.6" text-anchor="end" fill="#a0505a" stroke="#a0505a" stroke-width="0.12">17</text>
<rect x="466.85" y="455.95" width="6.49" height="1.10" fill="#8088c8" />
<text transform="translate(471.70,460.50) rotate(-90)" font-size="4.6" text-anchor="end" fill="#5a64a0" stroke="#5a64a0" stroke-width="0.12">18</text>
<rect x="473.34" y="455.95" width="5.26" height="1.10" fill="#68a07c" />
<text transform="translate(477.58,460.50) rotate(-90)" font-size="4.6" text-anchor="end" fill="#4a7458" stroke="#4a7458" stroke-width="0.12">19</text>
<rect x="478.61" y="455.95" width="5.52" height="1.10" fill="#a494c8" />
<text transform="translate(482.96,460.50) rotate(-90)" font-size="4.6" text-anchor="end" fill="#7a70a0" stroke="#7a70a0" stroke-width="0.12">20</text>
<rect x="484.12" y="455.95" width="4.55" height="1.10" fill="#dc6a72" />
<text transform="translate(488.00,460.50) rotate(-90)" font-size="4.6" text-anchor="end" fill="#a0505a" stroke="#a0505a" stroke-width="0.12">21</text>
<rect x="488.67" y="455.95" width="4.76" height="1.10" fill="#8088c8" />
<text transform="translate(492.65,460.50) rotate(-90)" font-size="4.6" text-anchor="end" fill="#5a64a0" stroke="#5a64a0" stroke-width="0.12">22</text>
<rect x="493.43" y="455.95" width="11.49" height="1.10" fill="#68a07c" />
<text transform="translate(500.77,460.50) rotate(-90)" font-size="4.6" text-anchor="end" fill="#4a7458" stroke="#4a7458" stroke-width="0.12">X</text>
<rect x="504.92" y="455.95" width="5.28" height="1.10" fill="#a494c8" />
<text transform="translate(509.16,460.50) rotate(-90)" font-size="4.6" text-anchor="end" fill="#7a70a0" stroke="#7a70a0" stroke-width="0.12">Y</text>
<rect x="17.70" y="252.80" width="1.45" height="1.60" fill="#6a1830" />
<rect x="19.25" y="252.80" width="1.45" height="1.60" fill="#6a1830" />
<rect x="21.20" y="252.80" width="1.45" height="1.60" fill="#6a1830" />
<rect x="23.05" y="252.80" width="1.45" height="1.60" fill="#6a1830" />
<rect x="24.80" y="252.80" width="2.40" height="1.60" fill="#6a1830" />
<rect x="29.00" y="252.80" width="1.45" height="1.60" fill="#6a1830" />
<rect x="30.55" y="252.80" width="1.45" height="1.60" fill="#6a1830" />
<rect x="35.00" y="252.80" width="1.50" height="1.60" fill="#1c1c24" />
<rect x="37.70" y="252.80" width="1.50" height="1.60" fill="#1c1c24" />
<rect x="40.70" y="252.80" width="1.30" height="1.60" fill="#1c1c24" />
<rect x="44.00" y="252.80" width="1.30" height="1.60" fill="#1c1c24" />
<rect x="47.70" y="252.80" width="1.30" height="1.60" fill="#1c1c24" />
<rect x="51.20" y="252.80" width="1.45" height="1.60" fill="#1c1c24" />
<rect x="53.05" y="252.80" width="1.45" height="1.60" fill="#1c1c24" />
<rect x="54.80" y="252.80" width="1.45" height="1.60" fill="#1c1c24" />
<rect x="57.55" y="252.80" width="1.45" height="1.60" fill="#1c1c24" />
<rect x="59.30" y="252.80" width="1.45" height="1.60" fill="#1c1c24" />
<rect x="62.05" y="252.80" width="1.45" height="1.60" fill="#1c1c24" />
<rect x="65.00" y="252.80" width="1.45" height="1.60" fill="#1c1c24" />
<rect x="66.55" y="252.80" width="1.45" height="1.60" fill="#1c1c24" />
<rect x="70.70" y="252.80" width="1.45" height="1.60" fill="#1c1c24" />
<rect x="72.98" y="252.80" width="1.45" height="1.60" fill="#1c1c24" />
<rect x="75.25" y="252.80" width="1.45" height="1.60" fill="#1c1c24" />
<rect x="91.70" y="252.80" width="1.45" height="1.60" fill="#1c1c24" />
<rect x="93.79" y="252.80" width="1.45" height="1.60" fill="#1c1c24" />
<rect x="95.88" y="252.80" width="1.45" height="1.60" fill="#1c1c24" />
<rect x="97.96" y="252.80" width="1.45" height="1.60" fill="#1c1c24" />
<rect x="100.05" y="252.80" width="1.45" height="1.60" fill="#1c1c24" />
<rect x="105.20" y="252.80" width="1.30" height="1.60" fill="#1c1c24" />
<rect x="112.70" y="252.80" width="1.30" height="1.60" fill="#1c1c24" />
<rect x="116.50" y="252.80" width="1.30" height="1.60" fill="#1c1c24" />
<rect x="124.70" y="252.80" width="1.45" height="1.60" fill="#6a1830" />
<rect x="126.22" y="252.80" width="1.45" height="1.60" fill="#6a1830" />
<rect x="127.75" y="252.80" width="1.45" height="1.60" fill="#6a1830" />
<rect x="134.70" y="252.80" width="2.50" height="1.60" fill="#1c1c24" />
<rect x="139.50" y="252.80" width="1.45" height="1.60" fill="#1c1c24" />
<rect x="141.05" y="252.80" width="1.45" height="1.60" fill="#1c1c24" />
<rect x="147.00" y="252.80" width="1.45" height="1.60" fill="#1e2c22" />
<rect x="148.89" y="252.80" width="1.45" height="1.60" fill="#1e2c22" />
<rect x="150.78" y="252.80" width="1.45" height="1.60" fill="#1e2c22" />
<rect x="152.66" y="252.80" width="1.45" height="1.60" fill="#1e2c22" />
<rect x="154.55" y="252.80" width="1.45" height="1.60" fill="#1e2c22" />
<rect x="158.20" y="252.80" width="1.45" height="1.60" fill="#1c1c24" />
<rect x="159.75" y="252.80" width="1.45" height="1.60" fill="#1c1c24" />
<rect x="164.20" y="252.80" width="1.30" height="1.60" fill="#1c1c24" />
<rect x="169.50" y="252.80" width="1.50" height="1.60" fill="#6a1830" />
<rect x="172.20" y="252.80" width="1.80" height="1.60" fill="#6a1830" />
<rect x="176.20" y="252.80" width="1.50" height="1.60" fill="#1c1c24" />
<rect x="180.70" y="252.80" width="1.30" height="1.60" fill="#1c1c24" />
<rect x="185.20" y="252.80" width="1.45" height="1.60" fill="#1c1c24" />
<rect x="187.12" y="252.80" width="1.45" height="1.60" fill="#1c1c24" />
<rect x="189.05" y="252.80" width="1.45" height="1.60" fill="#1c1c24" />
<rect x="195.00" y="252.80" width="1.50" height="1.60" fill="#1c1c24" />
<rect x="199.50" y="252.80" width="1.45" height="1.60" fill="#c42535" />
<rect x="201.38" y="252.80" width="1.45" height="1.60" fill="#c42535" />
<rect x="203.25" y="252.80" width="1.45" height="1.60" fill="#c42535" />
<rect x="206.20" y="252.80" width="1.50" height="1.60" fill="#1c1c24" />
<rect x="209.20" y="252.80" width="1.50" height="1.60" fill="#1c1c24" />
<rect x="211.50" y="252.80" width="2.20" height="1.60" fill="#1c1c24" />
<rect x="220.70" y="252.80" width="2.00" height="1.60" fill="#1c1c24" />
<rect x="224.20" y="252.80" width="1.50" height="1.60" fill="#1c1c24" />
<rect x="229.00" y="252.80" width="1.30" height="1.60" fill="#1c1c24" />
<rect x="234.20" y="252.80" width="1.45" height="1.60" fill="#1e2c22" />
<rect x="236.22" y="252.80" width="1.45" height="1.60" fill="#1e2c22" />
<rect x="238.23" y="252.80" width="1.45" height="1.60" fill="#1e2c22" />
<rect x="240.25" y="252.80" width="1.45" height="1.60" fill="#1e2c22" />
<rect x="18.20" y="246.35" width="1.30" height="1.60" fill="#6a1830" />
<rect x="21.20" y="246.35" width="1.30" height="1.60" fill="#6a1830" />
<rect x="24.20" y="246.35" width="1.30" height="1.60" fill="#6a1830" />
<rect x="27.20" y="246.35" width="1.30" height="1.60" fill="#6a1830" />
<rect x="29.40" y="246.35" width="2.30" height="1.60" fill="#6a1830" />
<rect x="33.20" y="246.35" width="1.45" height="1.60" fill="#1c1c24" />
<rect x="35.35" y="246.35" width="1.45" height="1.60" fill="#1c1c24" />
<rect x="51.20" y="246.35" width="1.45" height="1.60" fill="#1c1c24" />
<rect x="52.73" y="246.35" width="1.45" height="1.60" fill="#1c1c24" />
<rect x="54.25" y="246.35" width="1.45" height="1.60" fill="#1c1c24" />
<rect x="57.50" y="246.35" width="1.50" height="1.60" fill="#1c1c24" />
<rect x="68.70" y="246.35" width="2.00" height="1.60" fill="#1c1c24" />
<rect x="71.70" y="246.35" width="1.45" height="1.60" fill="#1c1c24" />
<rect x="73.48" y="246.35" width="1.45" height="1.60" fill="#1c1c24" />
<rect x="75.25" y="246.35" width="1.45" height="1.60" fill="#1c1c24" />
<rect x="91.70" y="246.35" width="1.45" height="1.60" fill="#1c1c24" />
<rect x="93.23" y="246.35" width="1.45" height="1.60" fill="#1c1c24" />
<rect x="94.75" y="246.35" width="1.45" height="1.60" fill="#1c1c24" />
<rect x="97.00" y="246.35" width="2.20" height="1.60" fill="#1c1c24" />
<rect x="105.20" y="246.35" width="1.50" height="1.60" fill="#1c1c24" />
<rect x="127.70" y="246.35" width="1.50" height="1.60" fill="#6a1830" />
<rect x="137.20" y="246.35" width="1.50" height="1.60" fill="#1c1c24" />
<rect x="147.00" y="246.35" width="1.45" height="1.60" fill="#1e2c22" />
<rect x="148.55" y="246.35" width="1.45" height="1.60" fill="#1e2c22" />
<rect x="157.50" y="246.35" width="2.20" height="1.60" fill="#1c1c24" />
<rect x="172.80" y="246.35" width="1.50" height="1.60" fill="#6a1830" />
<rect x="181.50" y="246.35" width="1.30" height="1.60" fill="#1c1c24" />
<rect x="185.20" y="246.35" width="1.45" height="1.60" fill="#1c1c24" />
<rect x="186.75" y="246.35" width="1.45" height="1.60" fill="#1c1c24" />
<rect x="201.00" y="246.35" width="1.45" height="1.60" fill="#c42535" />
<rect x="202.55" y="246.35" width="1.45" height="1.60" fill="#c42535" />
<rect x="206.20" y="246.35" width="1.50" height="1.60" fill="#1c1c24" />
<rect x="210.00" y="246.35" width="1.50" height="1.60" fill="#1c1c24" />
<rect x="213.70" y="246.35" width="1.50" height="1.60" fill="#1c1c24" />
<rect x="229.30" y="246.35" width="1.30" height="1.60" fill="#1c1c24" />
<rect x="235.00" y="246.35" width="1.30" height="1.60" fill="#1e2c22" />
<rect x="238.70" y="246.35" width="1.45" height="1.60" fill="#1e2c22" />
<rect x="240.25" y="246.35" width="1.45" height="1.60" fill="#1e2c22" />
<rect x="18.50" y="239.90" width="1.80" height="1.60" fill="#6a1830" />
<rect x="25.70" y="239.90" width="1.50" height="1.60" fill="#6a1830" />
<rect x="29.40" y="239.90" width="1.45" height="1.60" fill="#6a1830" />
<rect x="30.55" y="239.90" width="1.45" height="1.60" fill="#6a1830" />
<rect x="52.70" y="239.90" width="2.10" height="1.60" fill="#1c1c24" />
<rect x="70.50" y="239.90" width="1.45" height="1.60" fill="#1c1c24" />
<rect x="71.85" y="239.90" width="1.45" height="1.60" fill="#1c1c24" />
<rect x="76.30" y="239.90" width="1.30" height="1.60" fill="#1c1c24" />
<rect x="91.70" y="239.90" width="1.45" height="1.60" fill="#1c1c24" />
<rect x="93.62" y="239.90" width="1.45" height="1.60" fill="#1c1c24" />
<rect x="95.55" y="239.90" width="1.45" height="1.60" fill="#1c1c24" />
<rect x="100.70" y="239.90" width="1.45" height="1.60" fill="#1c1c24" />
<rect x="102.25" y="239.90" width="1.45" height="1.60" fill="#1c1c24" />
<rect x="147.00" y="239.90" width="1.45" height="1.60" fill="#1e2c22" />
<rect x="149.25" y="239.90" width="1.45" height="1.60" fill="#1e2c22" />
<rect x="186.00" y="239.90" width="1.50" height="1.60" fill="#1c1c24" />
<rect x="201.00" y="239.90" width="1.45" height="1.60" fill="#c42535" />
<rect x="203.25" y="239.90" width="1.45" height="1.60" fill="#c42535" />
<rect x="230.20" y="239.90" width="1.50" height="1.60" fill="#1e2c22" />
<rect x="233.20" y="239.90" width="1.45" height="1.60" fill="#1e2c22" />
<rect x="235.16" y="239.90" width="1.45" height="1.60" fill="#1e2c22" />
<rect x="237.12" y="239.90" width="1.45" height="1.60" fill="#1e2c22" />
<rect x="239.09" y="239.90" width="1.45" height="1.60" fill="#1e2c22" />
<rect x="241.05" y="239.90" width="1.45" height="1.60" fill="#1e2c22" />
<rect x="16.20" y="233.45" width="1.30" height="1.60" fill="#1c1c24" />
<rect x="51.50" y="233.45" width="1.45" height="1.60" fill="#1c1c24" />
<rect x="53.75" y="233.45" width="1.45" height="1.60" fill="#1c1c24" />
<rect x="91.70" y="233.45" width="1.45" height="1.60" fill="#1c1c24" />
<rect x="93.98" y="233.45" width="1.45" height="1.60" fill="#1c1c24" />
<rect x="96.25" y="233.45" width="1.45" height="1.60" fill="#1c1c24" />
<rect x="147.00" y="233.45" width="1.30" height="1.60" fill="#1e2c22" />
<rect x="186.00" y="233.45" width="1.50" height="1.60" fill="#1c1c24" />
<rect x="201.00" y="233.45" width="1.45" height="1.60" fill="#c42535" />
<rect x="202.85" y="233.45" width="1.45" height="1.60" fill="#c42535" />
<rect x="229.50" y="233.45" width="1.30" height="1.60" fill="#1e2c22" />
<rect x="232.70" y="233.45" width="1.45" height="1.60" fill="#1e2c22" />
<rect x="234.59" y="233.45" width="1.45" height="1.60" fill="#1e2c22" />
<rect x="236.47" y="233.45" width="1.45" height="1.60" fill="#1e2c22" />
<rect x="238.36" y="233.45" width="1.45" height="1.60" fill="#1e2c22" />
<rect x="240.25" y="233.45" width="1.45" height="1.60" fill="#1e2c22" />
<rect x="51.20" y="227.00" width="1.45" height="1.60" fill="#1c1c24" />
<rect x="53.35" y="227.00" width="1.45" height="1.60" fill="#1c1c24" />
<rect x="92.20" y="227.00" width="1.45" height="1.60" fill="#1c1c24" />
<rect x="93.75" y="227.00" width="1.45" height="1.60" fill="#1c1c24" />
<rect x="186.00" y="227.00" width="1.45" height="1.60" fill="#1c1c24" />
<rect x="188.25" y="227.00" width="1.45" height="1.60" fill="#1c1c24" />
<rect x="201.00" y="227.00" width="1.45" height="1.60" fill="#c42535" />
<rect x="203.25" y="227.00" width="1.45" height="1.60" fill="#c42535" />
<rect x="51.50" y="220.55" width="1.45" height="1.60" fill="#1c1c24" />
<rect x="53.75" y="220.55" width="1.45" height="1.60" fill="#1c1c24" />
<rect x="92.50" y="220.55" width="1.45" height="1.60" fill="#1c1c24" />
<rect x="94.05" y="220.55" width="1.45" height="1.60" fill="#1c1c24" />
<rect x="186.00" y="220.55" width="1.80" height="1.60" fill="#1c1c24" />
<rect x="199.50" y="220.55" width="1.45" height="1.60" fill="#c42535" />
<rect x="202.25" y="220.55" width="1.45" height="1.60" fill="#c42535" />
<rect x="51.20" y="214.10" width="1.50" height="1.60" fill="#1c1c24" />
<rect x="53.30" y="214.10" width="1.90" height="1.60" fill="#1c1c24" />
<rect x="92.20" y="214.10" width="1.50" height="1.60" fill="#1c1c24" />
<rect x="201.70" y="214.10" width="1.30" height="1.60" fill="#c42535" />
<rect x="51.20" y="207.65" width="1.50" height="1.60" fill="#1c1c24" />
<rect x="53.30" y="207.65" width="1.50" height="1.60" fill="#1c1c24" />
<rect x="92.50" y="207.65" width="1.80" height="1.60" fill="#1c1c24" />
<rect x="201.70" y="207.65" width="1.50" height="1.60" fill="#c42535" />
<rect x="51.50" y="201.20" width="1.80" height="1.60" fill="#1c1c24" />
<rect x="51.80" y="194.75" width="1.45" height="1.60" fill="#1c1c24" />
<rect x="53.35" y="194.75" width="1.45" height="1.60" fill="#1c1c24" />
<text x="57.50" y="199.80" font-size="5.7" font-style="italic" fill="#262626" stroke="#262626" stroke-width="0.22">MLH1</text>
<text x="88.00" y="201.30" font-size="5.7" font-style="italic" fill="#262626" stroke="#262626" stroke-width="0.22">HLA-A,B,C</text>
<text x="181.20" y="214.10" font-size="5.7" font-style="italic" fill="#262626" stroke="#262626" stroke-width="0.22">B2M</text>
<text x="194.20" y="202.10" font-size="5.7" font-style="italic" fill="#262626" stroke="#262626" stroke-width="0.22">RNF43</text>
<rect x="272.90" y="251.60" width="1.70" height="1.60" fill="#6a1830" />
<rect x="279.00" y="251.60" width="2.00" height="1.60" fill="#6a1830" />
<rect x="293.60" y="251.60" width="2.00" height="1.60" fill="#26306a" />
<rect x="306.70" y="251.60" width="1.30" height="1.60" fill="#1c1c24" />
<rect x="315.00" y="251.60" width="1.45" height="1.60" fill="#1e2c22" />
<rect x="316.45" y="251.60" width="1.45" height="1.60" fill="#1e2c22" />
<rect x="323.00" y="251.60" width="1.80" height="1.60" fill="#1c1c24" />
<rect x="335.40" y="251.60" width="1.45" height="1.60" fill="#c42535" />
<rect x="337.35" y="251.60" width="1.45" height="1.60" fill="#c42535" />
<rect x="340.00" y="251.60" width="1.45" height="1.60" fill="#c42535" />
<rect x="342.05" y="251.60" width="1.45" height="1.60" fill="#c42535" />
<rect x="344.80" y="251.60" width="1.45" height="1.60" fill="#c42535" />
<rect x="346.05" y="251.60" width="1.45" height="1.60" fill="#c42535" />
<rect x="348.60" y="251.60" width="1.30" height="1.60" fill="#c42535" />
<rect x="353.30" y="251.60" width="1.30" height="1.60" fill="#26306a" />
<rect x="356.40" y="251.60" width="2.00" height="1.60" fill="#26306a" />
<rect x="370.60" y="251.60" width="1.45" height="1.60" fill="#1e2c22" />
<rect x="373.15" y="251.60" width="1.45" height="1.60" fill="#1e2c22" />
<rect x="375.70" y="251.60" width="1.30" height="1.60" fill="#1c1c24" />
<rect x="385.50" y="251.60" width="1.70" height="1.60" fill="#1c1c24" />
<rect x="396.10" y="251.60" width="1.45" height="1.60" fill="#1c1c24" />
<rect x="397.55" y="251.60" width="1.45" height="1.60" fill="#1c1c24" />
<rect x="406.80" y="251.60" width="1.45" height="1.60" fill="#1c1c24" />
<rect x="408.35" y="251.60" width="1.45" height="1.60" fill="#1c1c24" />
<rect x="412.00" y="251.60" width="1.45" height="1.60" fill="#1e2c22" />
<rect x="414.35" y="251.60" width="1.45" height="1.60" fill="#1e2c22" />
<rect x="427.30" y="251.60" width="1.70" height="1.60" fill="#c42535" />
<rect x="444.20" y="251.60" width="1.80" height="1.60" fill="#1c1c24" />
<rect x="448.60" y="251.60" width="2.30" height="1.60" fill="#1c1c24" />
<rect x="454.80" y="251.60" width="1.30" height="1.60" fill="#1c1c24" />
<rect x="460.40" y="251.60" width="1.45" height="1.60" fill="#c42535" />
<rect x="462.15" y="251.60" width="1.45" height="1.60" fill="#c42535" />
<rect x="467.30" y="251.60" width="1.40" height="1.60" fill="#1c1c24" />
<rect x="475.40" y="251.60" width="1.45" height="1.60" fill="#1e2c22" />
<rect x="477.95" y="251.60" width="1.45" height="1.60" fill="#1e2c22" />
<rect x="484.60" y="251.60" width="1.70" height="1.60" fill="#1c1c24" />
<rect x="488.50" y="251.60" width="1.70" height="1.60" fill="#1c1c24" />
<rect x="492.10" y="251.60" width="1.45" height="1.60" fill="#1c1c24" />
<rect x="494.95" y="251.60" width="1.45" height="1.60" fill="#1c1c24" />
<rect x="501.30" y="251.60" width="1.45" height="1.60" fill="#1c1c24" />
<rect x="503.18" y="251.60" width="1.45" height="1.60" fill="#1c1c24" />
<rect x="505.05" y="251.60" width="1.45" height="1.60" fill="#1c1c24" />
<rect x="273.20" y="245.25" width="2.30" height="1.60" fill="#6a1830" />
<rect x="306.90" y="245.25" width="1.70" height="1.60" fill="#1c1c24" />
<rect x="315.90" y="245.25" width="1.60" height="1.60" fill="#1c1c24" />
<rect x="323.30" y="245.25" width="1.80" height="1.60" fill="#1c1c24" />
<rect x="330.20" y="245.25" width="2.30" height="1.60" fill="#1c1c24" />
<rect x="333.00" y="245.25" width="1.80" height="1.60" fill="#1c1c24" />
<rect x="374.00" y="245.25" width="1.70" height="1.60" fill="#1c1c24" />
<rect x="385.50" y="245.25" width="1.70" height="1.60" fill="#1c1c24" />
<rect x="408.30" y="245.25" width="1.70" height="1.60" fill="#1c1c24" />
<rect x="448.60" y="245.25" width="2.00" height="1.60" fill="#1c1c24" />
<rect x="454.80" y="245.25" width="1.30" height="1.60" fill="#1c1c24" />
<rect x="458.00" y="245.25" width="2.40" height="1.60" fill="#1c1c24" />
<rect x="467.30" y="245.25" width="1.40" height="1.60" fill="#1c1c24" />
<rect x="476.00" y="245.25" width="1.70" height="1.60" fill="#1c1c24" />
<rect x="484.40" y="245.25" width="1.50" height="1.60" fill="#1c1c24" />
<rect x="487.80" y="245.25" width="1.90" height="1.60" fill="#1c1c24" />
<rect x="496.40" y="245.25" width="1.45" height="1.60" fill="#1c1c24" />
<rect x="498.56" y="245.25" width="1.45" height="1.60" fill="#1c1c24" />
<rect x="500.72" y="245.25" width="1.45" height="1.60" fill="#1c1c24" />
<rect x="502.89" y="245.25" width="1.45" height="1.60" fill="#1c1c24" />
<rect x="505.05" y="245.25" width="1.45" height="1.60" fill="#1c1c24" />
<rect x="323.00" y="238.90" width="1.80" height="1.60" fill="#1c1c24" />
<rect x="334.50" y="238.90" width="1.50" height="1.60" fill="#1c1c24" />
<rect x="408.30" y="238.90" width="1.70" height="1.60" fill="#1c1c24" />
<rect x="448.30" y="238.90" width="1.50" height="1.60" fill="#1c1c24" />
<rect x="454.80" y="238.90" width="1.30" height="1.60" fill="#1c1c24" />
<rect x="460.40" y="238.90" width="1.30" height="1.60" fill="#1c1c24" />
<rect x="484.60" y="238.90" width="1.30" height="1.60" fill="#1c1c24" />
<rect x="489.20" y="238.90" width="1.50" height="1.60" fill="#1c1c24" />
<rect x="496.40" y="238.90" width="1.45" height="1.60" fill="#1c1c24" />
<rect x="498.23" y="238.90" width="1.45" height="1.60" fill="#1c1c24" />
<rect x="500.06" y="238.90" width="1.45" height="1.60" fill="#1c1c24" />
<rect x="501.89" y="238.90" width="1.45" height="1.60" fill="#1c1c24" />
<rect x="503.72" y="238.90" width="1.45" height="1.60" fill="#1c1c24" />
<rect x="505.55" y="238.90" width="1.45" height="1.60" fill="#1c1c24" />
<rect x="448.60" y="232.55" width="2.00" height="1.60" fill="#1c1c24" />
<rect x="489.20" y="232.55" width="1.50" height="1.60" fill="#1c1c24" />
<rect x="496.90" y="232.55" width="1.30" height="1.60" fill="#1c1c24" />
<rect x="505.80" y="232.55" width="1.30" height="1.60" fill="#1c1c24" />
<rect x="12.12" y="453.80" width="13.65" height="1.20" fill="#e0b0b8" />
<rect x="13.25" y="453.80" width="0.90" height="1.20" fill="#5a1020" />
<rect x="14.45" y="453.80" width="2.00" height="1.20" fill="#5a1020" />
<rect x="16.75" y="453.80" width="2.00" height="1.20" fill="#b01c2c" />
<rect x="19.35" y="453.80" width="1.60" height="1.20" fill="#b01c2c" />
<rect x="21.95" y="453.80" width="1.20" height="1.20" fill="#5a1020" />
<rect x="24.15" y="453.80" width="0.90" height="1.20" fill="#9a9aa4" />
<rect x="25.65" y="453.80" width="2.00" height="1.20" fill="#8a1a2a" />
<rect x="13.31" y="452.20" width="10.99" height="1.20" fill="#d89aa4" />
<rect x="12.48" y="452.20" width="1.60" height="1.20" fill="#5a1020" />
<rect x="15.08" y="452.20" width="0.90" height="1.20" fill="#8a1a2a" />
<rect x="16.58" y="452.20" width="2.00" height="1.20" fill="#8a1a2a" />
<rect x="19.58" y="452.20" width="1.60" height="1.20" fill="#b01c2c" />
<rect x="24.48" y="452.20" width="2.00" height="1.20" fill="#b4b4bc" />
<rect x="27.48" y="452.20" width="0.44" height="1.20" fill="#8a1a2a" />
<rect x="13.06" y="450.80" width="12.60" height="1.20" fill="#d89aa4" />
<rect x="12.08" y="450.80" width="2.00" height="1.20" fill="#8a1a2a" />
<rect x="14.68" y="450.80" width="2.00" height="1.20" fill="#5a1020" />
<rect x="18.08" y="450.80" width="1.60" height="1.20" fill="#5a1020" />
<rect x="20.28" y="450.80" width="1.20" height="1.20" fill="#5a1020" />
<rect x="24.38" y="450.80" width="1.60" height="1.20" fill="#b01c2c" />
<rect x="14.57" y="449.20" width="8.22" height="1.20" fill="#d89aa4" />
<rect x="16.04" y="449.20" width="2.00" height="1.20" fill="#b4b4bc" />
<rect x="19.44" y="449.20" width="0.90" height="1.20" fill="#5a1020" />
<rect x="20.94" y="449.20" width="0.90" height="1.20" fill="#9a9aa4" />
<rect x="14.62" y="448.00" width="9.40" height="1.20" fill="#e0b0b8" />
<rect x="12.99" y="448.00" width="2.00" height="1.20" fill="#5a1020" />
<rect x="15.29" y="448.00" width="1.60" height="1.20" fill="#5a1020" />
<rect x="19.39" y="448.00" width="1.20" height="1.20" fill="#b01c2c" />
<rect x="21.59" y="448.00" width="0.90" height="1.20" fill="#8a1a2a" />
<rect x="23.09" y="448.00" width="1.32" height="1.20" fill="#b01c2c" />
<rect x="14.80" y="446.40" width="1.20" height="1.20" fill="#8a1a2a" />
<rect x="16.30" y="446.40" width="1.60" height="1.20" fill="#b01c2c" />
<rect x="21.90" y="446.40" width="1.60" height="1.20" fill="#7a7a84" />
<rect x="24.10" y="446.40" width="0.17" height="1.20" fill="#b01c2c" />
<rect x="17.43" y="445.00" width="8.62" height="1.20" fill="#e0b0b8" />
<rect x="14.40" y="445.00" width="1.20" height="1.20" fill="#8a1a2a" />
<rect x="15.90" y="445.00" width="2.00" height="1.20" fill="#8a1a2a" />
<rect x="20.00" y="445.00" width="1.20" height="1.20" fill="#5a1020" />
<rect x="22.60" y="445.00" width="1.60" height="1.20" fill="#8a1a2a" />
<rect x="24.50" y="445.00" width="0.90" height="1.20" fill="#5a1020" />
<rect x="26.00" y="445.00" width="0.47" height="1.20" fill="#b01c2c" />
<rect x="14.66" y="443.40" width="2.00" height="1.20" fill="#b01c2c" />
<rect x="18.06" y="443.40" width="1.20" height="1.20" fill="#8a1a2a" />
<rect x="20.66" y="443.40" width="1.20" height="1.20" fill="#5a1020" />
<rect x="22.46" y="443.40" width="1.20" height="1.20" fill="#b01c2c" />
<rect x="23.96" y="443.40" width="0.77" height="1.20" fill="#5a1020" />
<rect x="33.34" y="453.80" width="9.55" height="1.20" fill="#b4b8d4" />
<rect x="33.01" y="453.80" width="0.90" height="1.20" fill="#5a6ab0" />
<rect x="34.51" y="453.80" width="1.60" height="1.20" fill="#1e2660" />
<rect x="38.91" y="453.80" width="2.00" height="1.20" fill="#7a7a84" />
<rect x="44.21" y="453.80" width="0.24" height="1.20" fill="#2a3a8a" />
<rect x="33.63" y="452.20" width="9.11" height="1.20" fill="#a8acc8" />
<rect x="33.18" y="452.20" width="0.90" height="1.20" fill="#1e2660" />
<rect x="38.08" y="452.20" width="1.60" height="1.20" fill="#2a3a8a" />
<rect x="40.68" y="452.20" width="0.90" height="1.20" fill="#2a3a8a" />
<rect x="34.89" y="450.60" width="0.90" height="1.20" fill="#9a9aa4" />
<rect x="38.99" y="450.60" width="2.00" height="1.20" fill="#5a6ab0" />
<rect x="42.39" y="450.60" width="1.60" height="1.20" fill="#b4b4bc" />
<rect x="33.76" y="449.20" width="9.62" height="1.20" fill="#a8acc8" />
<rect x="33.47" y="449.20" width="1.20" height="1.20" fill="#1e2660" />
<rect x="41.67" y="449.20" width="1.60" height="1.20" fill="#2a3a8a" />
<rect x="34.07" y="447.60" width="8.94" height="1.20" fill="#b4b8d4" />
<rect x="33.50" y="447.60" width="1.60" height="1.20" fill="#b4b4bc" />
<rect x="35.70" y="447.60" width="2.00" height="1.20" fill="#1e2660" />
<rect x="35.94" y="446.40" width="1.20" height="1.20" fill="#2a3a8a" />
<rect x="38.54" y="446.40" width="1.20" height="1.20" fill="#1e2660" />
<rect x="42.24" y="446.40" width="1.18" height="1.20" fill="#2a3a8a" />
<rect x="34.51" y="445.00" width="5.69" height="1.20" fill="#c8cce0" />
<rect x="33.85" y="445.00" width="1.20" height="1.20" fill="#7a7a84" />
<rect x="35.35" y="445.00" width="2.00" height="1.20" fill="#1e2660" />
<rect x="37.65" y="445.00" width="0.90" height="1.20" fill="#7a7a84" />
<rect x="38.85" y="445.00" width="2.00" height="1.20" fill="#1e2660" />
<rect x="35.54" y="443.60" width="7.54" height="1.20" fill="#a8acc8" />
<rect x="37.82" y="443.60" width="0.90" height="1.20" fill="#2a3a8a" />
<rect x="42.82" y="443.60" width="0.68" height="1.20" fill="#2a3a8a" />
<rect x="35.83" y="442.00" width="4.63" height="1.20" fill="#b4b8d4" />
<rect x="33.60" y="442.00" width="1.20" height="1.20" fill="#1e2660" />
<rect x="36.20" y="442.00" width="2.00" height="1.20" fill="#2a3a8a" />
<rect x="38.50" y="442.00" width="1.20" height="1.20" fill="#2a3a8a" />
<rect x="40.70" y="442.00" width="1.20" height="1.20" fill="#7a7a84" />
<rect x="34.00" y="440.40" width="6.72" height="1.20" fill="#b4b8d4" />
<rect x="36.66" y="440.40" width="0.90" height="1.20" fill="#b4b4bc" />
<rect x="38.96" y="440.40" width="1.60" height="1.20" fill="#1e2660" />
<rect x="40.86" y="440.40" width="0.90" height="1.20" fill="#2a3a8a" />
<rect x="34.09" y="439.20" width="5.60" height="1.20" fill="#a8acc8" />
<rect x="33.69" y="439.20" width="2.00" height="1.20" fill="#1e2660" />
<rect x="36.69" y="439.20" width="2.00" height="1.20" fill="#2a3a8a" />
<rect x="33.56" y="437.80" width="0.90" height="1.20" fill="#2a3a8a" />
<rect x="34.76" y="437.80" width="1.60" height="1.20" fill="#2a3a8a" />
<rect x="39.56" y="437.80" width="1.60" height="1.20" fill="#1e2660" />
<rect x="34.67" y="436.20" width="6.44" height="1.20" fill="#c8cce0" />
<rect x="33.13" y="436.20" width="2.00" height="1.20" fill="#1e2660" />
<rect x="35.73" y="436.20" width="2.00" height="1.20" fill="#2a3a8a" />
<rect x="34.42" y="434.80" width="8.13" height="1.20" fill="#c8cce0" />
<rect x="33.98" y="434.80" width="1.20" height="1.20" fill="#1e2660" />
<rect x="38.38" y="434.80" width="0.90" height="1.20" fill="#2a3a8a" />
<rect x="39.88" y="434.80" width="1.60" height="1.20" fill="#2a3a8a" />
<rect x="42.88" y="434.80" width="0.24" height="1.20" fill="#1e2660" />
<rect x="34.41" y="433.40" width="1.60" height="1.20" fill="#1e2660" />
<rect x="34.75" y="432.00" width="4.92" height="1.20" fill="#c8cce0" />
<rect x="34.69" y="432.00" width="2.00" height="1.20" fill="#5a6ab0" />
<rect x="38.09" y="432.00" width="2.00" height="1.20" fill="#9a9aa4" />
<rect x="40.55" y="430.80" width="0.90" height="1.20" fill="#5a6ab0" />
<rect x="42.05" y="430.80" width="2.00" height="1.20" fill="#2a3a8a" />
<rect x="33.67" y="429.20" width="1.20" height="1.20" fill="#1e2660" />
<rect x="38.17" y="429.20" width="0.90" height="1.20" fill="#1e2660" />
<rect x="39.37" y="429.20" width="1.60" height="1.20" fill="#2a3a8a" />
<rect x="41.57" y="429.20" width="0.87" height="1.20" fill="#1e2660" />
<rect x="36.61" y="427.60" width="7.65" height="1.20" fill="#c8cce0" />
<rect x="33.94" y="427.60" width="1.20" height="1.20" fill="#1e2660" />
<rect x="36.54" y="427.60" width="1.20" height="1.20" fill="#2a3a8a" />
<rect x="34.87" y="426.40" width="6.22" height="1.20" fill="#c8cce0" />
<rect x="34.96" y="426.40" width="1.20" height="1.20" fill="#5a6ab0" />
<rect x="37.56" y="426.40" width="0.90" height="1.20" fill="#2a3a8a" />
<rect x="39.46" y="426.40" width="2.00" height="1.20" fill="#7a7a84" />
<rect x="33.21" y="453.80" width="9.95" height="1.20" fill="#c8cce0" />
<rect x="29.77" y="453.80" width="2.00" height="1.20" fill="#1e2660" />
<rect x="32.77" y="453.80" width="2.00" height="1.20" fill="#1e2660" />
<rect x="35.07" y="453.80" width="2.00" height="1.20" fill="#1e2660" />
<rect x="37.37" y="453.80" width="2.00" height="1.20" fill="#9a9aa4" />
<rect x="42.57" y="453.80" width="1.60" height="1.20" fill="#5a6ab0" />
<rect x="29.85" y="452.40" width="0.90" height="1.20" fill="#1e2660" />
<rect x="35.55" y="452.40" width="2.00" height="1.20" fill="#2a3a8a" />
<rect x="40.75" y="452.40" width="1.60" height="1.20" fill="#5a6ab0" />
<rect x="42.65" y="452.40" width="1.20" height="1.20" fill="#1e2660" />
<rect x="44.15" y="452.40" width="0.14" height="1.20" fill="#1e2660" />
<rect x="31.54" y="451.20" width="11.49" height="1.20" fill="#a8acc8" />
<rect x="31.14" y="451.20" width="2.00" height="1.20" fill="#1e2660" />
<rect x="35.64" y="451.20" width="1.60" height="1.20" fill="#2a3a8a" />
<rect x="38.24" y="451.20" width="1.20" height="1.20" fill="#1e2660" />
<rect x="42.24" y="451.20" width="1.60" height="1.20" fill="#1e2660" />
<rect x="31.22" y="450.00" width="9.59" height="1.20" fill="#c8cce0" />
<rect x="29.51" y="450.00" width="1.20" height="1.20" fill="#5a6ab0" />
<rect x="31.31" y="450.00" width="0.90" height="1.20" fill="#1e2660" />
<rect x="33.21" y="450.00" width="0.90" height="1.20" fill="#5a6ab0" />
<rect x="35.11" y="450.00" width="1.20" height="1.20" fill="#2a3a8a" />
<rect x="36.91" y="450.00" width="1.60" height="1.20" fill="#1e2660" />
<rect x="38.81" y="450.00" width="1.60" height="1.20" fill="#5a6ab0" />
<rect x="41.41" y="450.00" width="0.82" height="1.20" fill="#5a6ab0" />
<rect x="32.06" y="448.80" width="1.20" height="1.20" fill="#2a3a8a" />
<rect x="37.26" y="448.80" width="1.60" height="1.20" fill="#7a7a84" />
<rect x="31.22" y="447.60" width="11.35" height="1.20" fill="#c8cce0" />
<rect x="33.44" y="447.60" width="0.90" height="1.20" fill="#1e2660" />
<rect x="36.84" y="447.60" width="1.20" height="1.20" fill="#1e2660" />
<rect x="38.34" y="447.60" width="0.90" height="1.20" fill="#1e2660" />
<rect x="41.74" y="447.60" width="2.00" height="1.20" fill="#1e2660" />
<rect x="47.16" y="453.80" width="1.20" height="1.20" fill="#b4b4bc" />
<rect x="48.96" y="453.80" width="2.00" height="1.20" fill="#16401f" />
<rect x="51.26" y="453.80" width="0.90" height="1.20" fill="#16401f" />
<rect x="53.56" y="453.80" width="1.60" height="1.20" fill="#16401f" />
<rect x="56.56" y="453.80" width="2.00" height="1.20" fill="#16401f" />
<rect x="59.16" y="453.80" width="0.90" height="1.20" fill="#16401f" />
<rect x="48.24" y="452.40" width="9.83" height="1.20" fill="#b4cab8" />
<rect x="47.58" y="452.40" width="0.90" height="1.20" fill="#1f6a30" />
<rect x="49.88" y="452.40" width="0.90" height="1.20" fill="#1f6a30" />
<rect x="53.38" y="452.40" width="1.20" height="1.20" fill="#b4b4bc" />
<rect x="54.88" y="452.40" width="1.20" height="1.20" fill="#1f6a30" />
<rect x="56.68" y="452.40" width="1.20" height="1.20" fill="#1f6a30" />
<rect x="47.16" y="451.00" width="1.20" height="1.20" fill="#16401f" />
<rect x="49.36" y="451.00" width="1.60" height="1.20" fill="#16401f" />
<rect x="54.16" y="451.00" width="1.60" height="1.20" fill="#1f6a30" />
<rect x="57.16" y="451.00" width="0.90" height="1.20" fill="#16401f" />
<rect x="59.06" y="451.00" width="0.82" height="1.20" fill="#16401f" />
<rect x="50.71" y="449.60" width="8.82" height="1.20" fill="#a4bca8" />
<rect x="48.13" y="449.60" width="1.60" height="1.20" fill="#4a8a5a" />
<rect x="52.23" y="449.60" width="1.20" height="1.20" fill="#16401f" />
<rect x="54.43" y="449.60" width="0.90" height="1.20" fill="#1f6a30" />
<rect x="55.63" y="449.60" width="0.90" height="1.20" fill="#1f6a30" />
<rect x="57.53" y="449.60" width="1.20" height="1.20" fill="#16401f" />
<rect x="59.33" y="449.60" width="0.37" height="1.20" fill="#16401f" />
<rect x="48.74" y="448.40" width="8.43" height="1.20" fill="#c8d8cc" />
<rect x="50.56" y="448.40" width="0.90" height="1.20" fill="#1f6a30" />
<rect x="52.86" y="448.40" width="2.00" height="1.20" fill="#1f6a30" />
<rect x="55.16" y="448.40" width="0.90" height="1.20" fill="#1f6a30" />
<rect x="56.36" y="448.40" width="0.90" height="1.20" fill="#16401f" />
<rect x="57.86" y="448.40" width="1.54" height="1.20" fill="#4a8a5a" />
<rect x="47.56" y="446.80" width="8.82" height="1.20" fill="#c8d8cc" />
<rect x="47.38" y="446.80" width="0.90" height="1.20" fill="#16401f" />
<rect x="48.58" y="446.80" width="2.00" height="1.20" fill="#1f6a30" />
<rect x="51.18" y="446.80" width="0.90" height="1.20" fill="#1f6a30" />
<rect x="52.38" y="446.80" width="1.60" height="1.20" fill="#4a8a5a" />
<rect x="54.98" y="446.80" width="1.60" height="1.20" fill="#16401f" />
<rect x="56.88" y="446.80" width="0.90" height="1.20" fill="#16401f" />
<rect x="58.38" y="446.80" width="1.27" height="1.20" fill="#4a8a5a" />
<rect x="51.00" y="445.40" width="4.30" height="1.20" fill="#c8d8cc" />
<rect x="51.61" y="445.40" width="0.90" height="1.20" fill="#4a8a5a" />
<rect x="53.51" y="445.40" width="1.20" height="1.20" fill="#4a8a5a" />
<rect x="55.31" y="445.40" width="1.20" height="1.20" fill="#b4b4bc" />
<rect x="49.20" y="444.20" width="5.66" height="1.20" fill="#b4cab8" />
<rect x="47.12" y="444.20" width="1.60" height="1.20" fill="#4a8a5a" />
<rect x="49.02" y="444.20" width="2.00" height="1.20" fill="#1f6a30" />
<rect x="52.52" y="444.20" width="1.60" height="1.20" fill="#16401f" />
<rect x="55.12" y="444.20" width="1.60" height="1.20" fill="#1f6a30" />
<rect x="64.82" y="453.80" width="2.00" height="1.20" fill="#5a4a8a" />
<rect x="70.42" y="453.80" width="0.90" height="1.20" fill="#3a3060" />
<rect x="71.62" y="453.80" width="1.20" height="1.20" fill="#5a4a8a" />
<rect x="73.12" y="453.80" width="1.60" height="1.20" fill="#3a3060" />
<rect x="66.17" y="452.20" width="7.67" height="1.20" fill="#c4b8d4" />
<rect x="62.73" y="452.20" width="1.20" height="1.20" fill="#b4b4bc" />
<rect x="66.53" y="452.20" width="1.60" height="1.20" fill="#3a3060" />
<rect x="70.73" y="452.20" width="1.60" height="1.20" fill="#8a7ab0" />
<rect x="62.62" y="450.80" width="0.90" height="1.20" fill="#3a3060" />
<rect x="64.92" y="450.80" width="1.60" height="1.20" fill="#5a4a8a" />
<rect x="67.12" y="450.80" width="1.20" height="1.20" fill="#3a3060" />
<rect x="68.92" y="450.80" width="1.60" height="1.20" fill="#8a7ab0" />
<rect x="73.32" y="450.80" width="1.52" height="1.20" fill="#3a3060" />
<rect x="64.49" y="449.20" width="10.55" height="1.20" fill="#c4b8d4" />
<rect x="66.80" y="449.20" width="1.60" height="1.20" fill="#5a4a8a" />
<rect x="72.00" y="449.20" width="0.90" height="1.20" fill="#3a3060" />
<rect x="73.50" y="449.20" width="1.60" height="1.20" fill="#8a7ab0" />
<rect x="65.29" y="448.00" width="5.73" height="1.20" fill="#d4cce0" />
<rect x="65.46" y="448.00" width="1.20" height="1.20" fill="#5a4a8a" />
<rect x="64.57" y="446.60" width="5.55" height="1.20" fill="#b4a8c8" />
<rect x="67.84" y="446.60" width="0.90" height="1.20" fill="#3a3060" />
<rect x="66.50" y="445.00" width="6.49" height="1.20" fill="#b4a8c8" />
<rect x="64.24" y="445.00" width="1.20" height="1.20" fill="#5a4a8a" />
<rect x="66.44" y="445.00" width="0.90" height="1.20" fill="#5a4a8a" />
<rect x="67.64" y="445.00" width="0.90" height="1.20" fill="#5a4a8a" />
<rect x="69.54" y="445.00" width="0.90" height="1.20" fill="#8a7ab0" />
<rect x="71.04" y="445.00" width="2.00" height="1.20" fill="#5a4a8a" />
<rect x="73.64" y="445.00" width="0.74" height="1.20" fill="#3a3060" />
<rect x="66.72" y="443.40" width="2.00" height="1.20" fill="#5a4a8a" />
<rect x="63.20" y="442.00" width="7.87" height="1.20" fill="#d4cce0" />
<rect x="62.51" y="442.00" width="2.00" height="1.20" fill="#5a4a8a" />
<rect x="68.91" y="442.00" width="1.20" height="1.20" fill="#8a7ab0" />
<rect x="70.41" y="442.00" width="0.90" height="1.20" fill="#7a7a84" />
<rect x="91.41" y="453.80" width="7.34" height="1.20" fill="#b4b8d4" />
<rect x="92.53" y="453.80" width="1.20" height="1.20" fill="#2a3a8a" />
<rect x="97.03" y="453.80" width="2.00" height="1.20" fill="#1e2660" />
<rect x="99.33" y="453.80" width="0.57" height="1.20" fill="#1e2660" />
<rect x="94.90" y="452.40" width="1.60" height="1.20" fill="#2a3a8a" />
<rect x="89.24" y="451.20" width="0.90" height="1.20" fill="#1e2660" />
<rect x="93.04" y="451.20" width="1.60" height="1.20" fill="#1e2660" />
<rect x="95.64" y="451.20" width="2.00" height="1.20" fill="#2a3a8a" />
<rect x="98.64" y="451.20" width="0.54" height="1.20" fill="#2a3a8a" />
<rect x="89.57" y="449.60" width="9.35" height="1.20" fill="#a8acc8" />
<rect x="89.21" y="449.60" width="1.60" height="1.20" fill="#2a3a8a" />
<rect x="94.51" y="449.60" width="0.90" height="1.20" fill="#9a9aa4" />
<rect x="88.86" y="448.40" width="1.20" height="1.20" fill="#2a3a8a" />
<rect x="97.46" y="448.40" width="0.74" height="1.20" fill="#9a9aa4" />
<rect x="91.08" y="446.80" width="5.57" height="1.20" fill="#b4b8d4" />
<rect x="93.32" y="446.80" width="2.00" height="1.20" fill="#5a6ab0" />
<rect x="90.13" y="445.60" width="9.02" height="1.20" fill="#a8acc8" />
<rect x="93.08" y="445.60" width="2.00" height="1.20" fill="#1e2660" />
<rect x="92.06" y="444.20" width="4.21" height="1.20" fill="#b4b8d4" />
<rect x="90.23" y="444.20" width="0.90" height="1.20" fill="#b4b4bc" />
<rect x="91.43" y="444.20" width="2.00" height="1.20" fill="#1e2660" />
<rect x="94.83" y="444.20" width="0.90" height="1.20" fill="#1e2660" />
<rect x="90.48" y="453.80" width="2.25" height="1.20" fill="#c8cce0" />
<rect x="89.51" y="453.80" width="2.00" height="1.20" fill="#2a3a8a" />
<rect x="92.51" y="453.80" width="0.38" height="1.20" fill="#5a6ab0" />
<rect x="90.43" y="452.20" width="1.96" height="1.20" fill="#b4b8d4" />
<rect x="89.58" y="452.20" width="2.00" height="1.20" fill="#1e2660" />
<rect x="89.54" y="450.80" width="0.90" height="1.20" fill="#5a6ab0" />
<rect x="89.97" y="449.40" width="2.05" height="1.20" fill="#a8acc8" />
<rect x="89.61" y="449.40" width="1.20" height="1.20" fill="#7a7a84" />
<rect x="89.62" y="448.00" width="0.90" height="1.20" fill="#2a3a8a" />
<rect x="91.52" y="448.00" width="1.43" height="1.20" fill="#1e2660" />
<rect x="90.07" y="446.80" width="2.14" height="1.20" fill="#a8acc8" />
<rect x="89.55" y="446.80" width="1.20" height="1.20" fill="#1e2660" />
<rect x="91.75" y="446.80" width="0.82" height="1.20" fill="#2a3a8a" />
<rect x="89.73" y="445.40" width="3.00" height="1.20" fill="#a8acc8" />
<rect x="89.71" y="445.40" width="2.00" height="1.20" fill="#2a3a8a" />
<rect x="89.87" y="444.20" width="1.20" height="1.20" fill="#9a9aa4" />
<rect x="91.67" y="444.20" width="0.72" height="1.20" fill="#b4b4bc" />
<rect x="90.52" y="441.20" width="1.78" height="1.20" fill="#b4b8d4" />
<rect x="90.39" y="440.00" width="1.47" height="1.20" fill="#b4b8d4" />
<rect x="92.52" y="440.00" width="0.20" height="1.20" fill="#2a3a8a" />
<rect x="90.41" y="438.40" width="1.56" height="1.20" fill="#c8cce0" />
<rect x="89.95" y="438.40" width="1.60" height="1.20" fill="#1e2660" />
<rect x="92.15" y="438.40" width="0.15" height="1.20" fill="#2a3a8a" />
<rect x="90.56" y="436.80" width="1.35" height="1.20" fill="#a8acc8" />
<rect x="90.18" y="435.40" width="1.48" height="1.20" fill="#c8cce0" />
<rect x="90.02" y="434.20" width="2.17" height="1.20" fill="#a8acc8" />
<rect x="89.97" y="434.20" width="1.20" height="1.20" fill="#1e2660" />
<rect x="92.57" y="434.20" width="0.22" height="1.20" fill="#2a3a8a" />
<rect x="90.16" y="433.00" width="2.53" height="1.20" fill="#a8acc8" />
<rect x="101.64" y="453.80" width="8.77" height="1.20" fill="#b4cab8" />
<rect x="100.83" y="453.80" width="0.90" height="1.20" fill="#16401f" />
<rect x="102.03" y="453.80" width="1.60" height="1.20" fill="#16401f" />
<rect x="104.63" y="453.80" width="1.20" height="1.20" fill="#4a8a5a" />
<rect x="106.83" y="453.80" width="1.20" height="1.20" fill="#7a7a84" />
<rect x="110.83" y="453.80" width="0.31" height="1.20" fill="#16401f" />
<rect x="103.17" y="452.20" width="1.20" height="1.20" fill="#16401f" />
<rect x="105.37" y="452.20" width="1.20" height="1.20" fill="#4a8a5a" />
<rect x="107.97" y="452.20" width="0.90" height="1.20" fill="#1f6a30" />
<rect x="110.27" y="452.20" width="0.90" height="1.20" fill="#16401f" />
<rect x="111.77" y="452.20" width="0.08" height="1.20" fill="#1f6a30" />
<rect x="101.35" y="451.00" width="1.60" height="1.20" fill="#4a8a5a" />
<rect x="103.25" y="451.00" width="0.90" height="1.20" fill="#1f6a30" />
<rect x="105.55" y="451.00" width="0.90" height="1.20" fill="#b4b4bc" />
<rect x="107.85" y="451.00" width="2.00" height="1.20" fill="#4a8a5a" />
<rect x="110.45" y="451.00" width="0.16" height="1.20" fill="#b4b4bc" />
<rect x="100.66" y="449.80" width="0.90" height="1.20" fill="#16401f" />
<rect x="108.56" y="449.80" width="0.90" height="1.20" fill="#4a8a5a" />
<rect x="110.46" y="449.80" width="0.77" height="1.20" fill="#16401f" />
<rect x="106.88" y="448.60" width="1.60" height="1.20" fill="#1f6a30" />
<rect x="102.36" y="447.00" width="0.90" height="1.20" fill="#1f6a30" />
<rect x="106.16" y="447.00" width="1.60" height="1.20" fill="#1f6a30" />
<rect x="115.71" y="453.80" width="4.88" height="1.20" fill="#d4cce0" />
<rect x="117.73" y="453.80" width="0.90" height="1.20" fill="#3a3060" />
<rect x="119.23" y="453.80" width="0.90" height="1.20" fill="#3a3060" />
<rect x="122.33" y="453.80" width="0.65" height="1.20" fill="#3a3060" />
<rect x="112.90" y="452.60" width="1.60" height="1.20" fill="#8a7ab0" />
<rect x="118.10" y="452.60" width="2.00" height="1.20" fill="#3a3060" />
<rect x="121.10" y="452.60" width="0.50" height="1.20" fill="#3a3060" />
<rect x="112.71" y="451.40" width="2.00" height="1.20" fill="#3a3060" />
<rect x="115.71" y="451.40" width="1.60" height="1.20" fill="#3a3060" />
<rect x="115.31" y="450.00" width="3.82" height="1.20" fill="#c4b8d4" />
<rect x="113.04" y="450.00" width="2.00" height="1.20" fill="#3a3060" />
<rect x="115.93" y="448.60" width="3.67" height="1.20" fill="#d4cce0" />
<rect x="114.08" y="447.20" width="4.70" height="1.20" fill="#d4cce0" />
<rect x="113.40" y="447.20" width="2.00" height="1.20" fill="#5a4a8a" />
<rect x="125.40" y="453.80" width="6.93" height="1.20" fill="#c4b8d4" />
<rect x="124.29" y="453.80" width="0.90" height="1.20" fill="#3a3060" />
<rect x="129.19" y="453.80" width="2.00" height="1.20" fill="#8a7ab0" />
<rect x="134.49" y="453.80" width="1.14" height="1.20" fill="#3a3060" />
<rect x="126.56" y="452.60" width="5.64" height="1.20" fill="#d4cce0" />
<rect x="124.51" y="452.60" width="0.90" height="1.20" fill="#5a4a8a" />
<rect x="126.41" y="452.60" width="1.20" height="1.20" fill="#5a4a8a" />
<rect x="130.81" y="452.60" width="1.20" height="1.20" fill="#b4b4bc" />
<rect x="134.21" y="452.60" width="1.28" height="1.20" fill="#b4b4bc" />
<rect x="124.42" y="451.20" width="10.82" height="1.20" fill="#b4a8c8" />
<rect x="126.51" y="451.20" width="1.20" height="1.20" fill="#9a9aa4" />
<rect x="128.01" y="451.20" width="0.90" height="1.20" fill="#8a7ab0" />
<rect x="127.23" y="449.80" width="6.24" height="1.20" fill="#d4cce0" />
<rect x="124.18" y="449.80" width="1.20" height="1.20" fill="#5a4a8a" />
<rect x="128.28" y="449.80" width="2.00" height="1.20" fill="#3a3060" />
<rect x="132.38" y="449.80" width="1.60" height="1.20" fill="#3a3060" />
<rect x="124.31" y="448.60" width="1.20" height="1.20" fill="#3a3060" />
<rect x="125.81" y="448.60" width="1.20" height="1.20" fill="#3a3060" />
<rect x="134.81" y="448.60" width="0.20" height="1.20" fill="#9a9aa4" />
<rect x="125.88" y="447.20" width="7.63" height="1.20" fill="#d4cce0" />
<rect x="124.85" y="447.20" width="0.90" height="1.20" fill="#3a3060" />
<rect x="126.05" y="447.20" width="1.20" height="1.20" fill="#3a3060" />
<rect x="131.25" y="447.20" width="1.20" height="1.20" fill="#3a3060" />
<rect x="133.85" y="447.20" width="0.96" height="1.20" fill="#3a3060" />
<rect x="128.22" y="445.80" width="1.20" height="1.20" fill="#3a3060" />
<rect x="131.62" y="445.80" width="0.99" height="1.20" fill="#3a3060" />
<rect x="127.56" y="444.60" width="7.04" height="1.20" fill="#b4a8c8" />
<rect x="124.79" y="444.60" width="0.90" height="1.20" fill="#8a7ab0" />
<rect x="126.69" y="444.60" width="1.20" height="1.20" fill="#3a3060" />
<rect x="131.49" y="444.60" width="1.60" height="1.20" fill="#3a3060" />
<rect x="133.69" y="444.60" width="1.60" height="1.20" fill="#5a4a8a" />
<rect x="127.36" y="443.40" width="4.72" height="1.20" fill="#b4a8c8" />
<rect x="125.48" y="443.40" width="0.90" height="1.20" fill="#b4b4bc" />
<rect x="126.98" y="443.40" width="0.90" height="1.20" fill="#3a3060" />
<rect x="128.48" y="443.40" width="1.60" height="1.20" fill="#8a7ab0" />
<rect x="130.57" y="441.80" width="1.60" height="1.20" fill="#5a4a8a" />
<rect x="130.80" y="453.80" width="2.97" height="1.20" fill="#e4c8cc" />
<rect x="130.55" y="453.80" width="2.00" height="1.20" fill="#d04050" />
<rect x="133.95" y="453.80" width="0.43" height="1.20" fill="#d04050" />
<rect x="130.59" y="452.40" width="1.60" height="1.20" fill="#8a1a2a" />
<rect x="130.72" y="451.00" width="2.94" height="1.20" fill="#e4c8cc" />
<rect x="130.56" y="451.00" width="2.00" height="1.20" fill="#d04050" />
<rect x="131.16" y="449.40" width="2.56" height="1.20" fill="#dcb4ba" />
<rect x="133.17" y="449.40" width="0.91" height="1.20" fill="#8a1a2a" />
<rect x="130.75" y="448.20" width="2.73" height="1.20" fill="#e4c8cc" />
<rect x="130.70" y="448.20" width="1.20" height="1.20" fill="#c0202e" />
<rect x="132.50" y="448.20" width="1.60" height="1.20" fill="#c0202e" />
<rect x="130.53" y="446.60" width="2.00" height="1.20" fill="#d04050" />
<rect x="133.53" y="446.60" width="0.90" height="1.20" fill="#8a1a2a" />
<rect x="130.94" y="445.00" width="2.61" height="1.20" fill="#c8a8b0" />
<rect x="130.63" y="445.00" width="1.60" height="1.20" fill="#b4b4bc" />
<rect x="134.03" y="445.00" width="0.17" height="1.20" fill="#d04050" />
<rect x="130.86" y="443.80" width="1.60" height="1.20" fill="#c0202e" />
<rect x="133.46" y="443.80" width="0.28" height="1.20" fill="#c0202e" />
<rect x="133.13" y="442.60" width="1.26" height="1.20" fill="#c0202e" />
<rect x="131.88" y="441.40" width="2.34" height="1.20" fill="#dcb4ba" />
<rect x="130.88" y="441.40" width="2.00" height="1.20" fill="#c0202e" />
<rect x="131.05" y="440.20" width="2.34" height="1.20" fill="#e4c8cc" />
<rect x="130.67" y="440.20" width="0.90" height="1.20" fill="#8a1a2a" />
<rect x="132.97" y="440.20" width="0.73" height="1.20" fill="#c0202e" />
<rect x="131.58" y="438.80" width="1.53" height="1.20" fill="#dcb4ba" />
<rect x="131.27" y="437.20" width="1.88" height="1.20" fill="#dcb4ba" />
<rect x="132.88" y="437.20" width="0.81" height="1.20" fill="#c0202e" />
<rect x="130.95" y="435.60" width="1.60" height="1.20" fill="#8a1a2a" />
<rect x="133.55" y="435.60" width="0.07" height="1.20" fill="#8a1a2a" />
<rect x="131.67" y="434.40" width="2.19" height="1.20" fill="#e4c8cc" />
<rect x="131.22" y="434.40" width="1.20" height="1.20" fill="#d04050" />
<rect x="133.92" y="434.40" width="0.16" height="1.20" fill="#d04050" />
<rect x="131.84" y="432.80" width="1.15" height="1.20" fill="#dcb4ba" />
<rect x="131.39" y="432.80" width="1.20" height="1.20" fill="#8a1a2a" />
<rect x="136.56" y="453.80" width="6.80" height="1.20" fill="#b4b8d4" />
<rect x="136.52" y="453.80" width="2.00" height="1.20" fill="#1e2660" />
<rect x="141.02" y="453.80" width="1.20" height="1.20" fill="#2a3a8a" />
<rect x="143.22" y="453.80" width="0.90" height="1.20" fill="#5a6ab0" />
<rect x="137.58" y="452.20" width="5.66" height="1.20" fill="#a8acc8" />
<rect x="136.82" y="452.20" width="0.90" height="1.20" fill="#1e2660" />
<rect x="138.72" y="452.20" width="1.60" height="1.20" fill="#5a6ab0" />
<rect x="138.79" y="451.00" width="3.66" height="1.20" fill="#a8acc8" />
<rect x="141.47" y="451.00" width="0.90" height="1.20" fill="#5a6ab0" />
<rect x="139.31" y="449.80" width="2.00" height="1.20" fill="#5a6ab0" />
<rect x="141.61" y="449.80" width="1.53" height="1.20" fill="#1e2660" />
<rect x="137.99" y="448.60" width="5.16" height="1.20" fill="#c8cce0" />
<rect x="136.73" y="448.60" width="1.60" height="1.20" fill="#2a3a8a" />
<rect x="138.93" y="448.60" width="0.90" height="1.20" fill="#5a6ab0" />
<rect x="141.93" y="448.60" width="1.60" height="1.20" fill="#7a7a84" />
<rect x="138.64" y="447.00" width="2.85" height="1.20" fill="#b4b8d4" />
<rect x="148.75" y="453.80" width="1.60" height="1.20" fill="#1f6a30" />
<rect x="153.95" y="453.80" width="1.60" height="1.20" fill="#16401f" />
<rect x="145.75" y="452.40" width="0.90" height="1.20" fill="#1f6a30" />
<rect x="148.85" y="452.40" width="1.20" height="1.20" fill="#16401f" />
<rect x="153.35" y="452.40" width="2.00" height="1.20" fill="#1f6a30" />
<rect x="146.08" y="451.20" width="8.35" height="1.20" fill="#a4bca8" />
<rect x="147.84" y="451.20" width="1.20" height="1.20" fill="#9a9aa4" />
<rect x="149.34" y="451.20" width="0.90" height="1.20" fill="#4a8a5a" />
<rect x="151.24" y="451.20" width="1.20" height="1.20" fill="#1f6a30" />
<rect x="153.44" y="451.20" width="0.90" height="1.20" fill="#1f6a30" />
<rect x="147.48" y="450.00" width="6.96" height="1.20" fill="#c8d8cc" />
<rect x="145.64" y="450.00" width="2.00" height="1.20" fill="#1f6a30" />
<rect x="150.54" y="450.00" width="0.90" height="1.20" fill="#1f6a30" />
<rect x="152.04" y="450.00" width="0.90" height="1.20" fill="#4a8a5a" />
<rect x="147.83" y="448.60" width="5.53" height="1.20" fill="#c8d8cc" />
<rect x="154.27" y="448.60" width="0.69" height="1.20" fill="#7a7a84" />
<rect x="147.87" y="447.00" width="5.11" height="1.20" fill="#b4cab8" />
<rect x="147.68" y="447.00" width="0.90" height="1.20" fill="#16401f" />
<rect x="151.78" y="447.00" width="1.20" height="1.20" fill="#16401f" />
<rect x="145.87" y="445.60" width="2.00" height="1.20" fill="#1f6a30" />
<rect x="148.17" y="445.60" width="0.90" height="1.20" fill="#16401f" />
<rect x="150.07" y="445.60" width="0.90" height="1.20" fill="#16401f" />
<rect x="151.57" y="445.60" width="0.90" height="1.20" fill="#16401f" />
<rect x="153.07" y="445.60" width="0.62" height="1.20" fill="#16401f" />
<rect x="146.87" y="444.20" width="1.20" height="1.20" fill="#1f6a30" />
<rect x="148.67" y="444.20" width="1.60" height="1.20" fill="#16401f" />
<rect x="150.87" y="444.20" width="1.20" height="1.20" fill="#16401f" />
<rect x="154.17" y="444.20" width="0.38" height="1.20" fill="#16401f" />
<rect x="147.05" y="442.80" width="5.52" height="1.20" fill="#b4cab8" />
<rect x="148.81" y="442.80" width="1.60" height="1.20" fill="#16401f" />
<rect x="150.71" y="442.80" width="2.00" height="1.20" fill="#16401f" />
<rect x="146.64" y="441.60" width="0.90" height="1.20" fill="#16401f" />
<rect x="150.14" y="441.60" width="1.60" height="1.20" fill="#7a7a84" />
<rect x="152.34" y="441.60" width="2.00" height="1.20" fill="#4a8a5a" />
<rect x="154.94" y="441.60" width="0.34" height="1.20" fill="#1f6a30" />
<rect x="147.36" y="440.40" width="3.82" height="1.20" fill="#b4cab8" />
<rect x="147.25" y="440.40" width="1.60" height="1.20" fill="#16401f" />
<rect x="152.15" y="440.40" width="0.08" height="1.20" fill="#16401f" />
<rect x="146.31" y="438.80" width="1.60" height="1.20" fill="#16401f" />
<rect x="149.31" y="438.80" width="1.20" height="1.20" fill="#16401f" />
<rect x="151.11" y="438.80" width="0.90" height="1.20" fill="#1f6a30" />
<rect x="147.54" y="437.60" width="0.90" height="1.20" fill="#16401f" />
<rect x="158.78" y="453.80" width="4.63" height="1.20" fill="#d4cce0" />
<rect x="163.65" y="453.80" width="1.60" height="1.20" fill="#5a4a8a" />
<rect x="156.56" y="452.20" width="1.60" height="1.20" fill="#5a4a8a" />
<rect x="158.76" y="452.20" width="1.20" height="1.20" fill="#3a3060" />
<rect x="160.26" y="452.20" width="1.60" height="1.20" fill="#3a3060" />
<rect x="162.16" y="452.20" width="2.00" height="1.20" fill="#5a4a8a" />
<rect x="157.94" y="450.80" width="7.24" height="1.20" fill="#b4a8c8" />
<rect x="159.38" y="450.80" width="1.20" height="1.20" fill="#3a3060" />
<rect x="161.18" y="450.80" width="1.60" height="1.20" fill="#5a4a8a" />
<rect x="163.08" y="450.80" width="1.20" height="1.20" fill="#8a7ab0" />
<rect x="158.02" y="449.40" width="6.09" height="1.20" fill="#c4b8d4" />
<rect x="156.64" y="449.40" width="1.20" height="1.20" fill="#5a4a8a" />
<rect x="161.14" y="449.40" width="1.60" height="1.20" fill="#3a3060" />
<rect x="164.14" y="449.40" width="1.27" height="1.20" fill="#8a7ab0" />
<rect x="156.63" y="447.80" width="1.60" height="1.20" fill="#5a4a8a" />
<rect x="158.53" y="447.80" width="2.00" height="1.20" fill="#3a3060" />
<rect x="158.28" y="446.40" width="6.80" height="1.20" fill="#c4b8d4" />
<rect x="164.82" y="446.40" width="0.59" height="1.20" fill="#8a7ab0" />
<rect x="157.94" y="445.20" width="4.41" height="1.20" fill="#c4b8d4" />
<rect x="156.96" y="445.20" width="1.60" height="1.20" fill="#b4b4bc" />
<rect x="161.46" y="445.20" width="1.20" height="1.20" fill="#5a4a8a" />
<rect x="163.26" y="445.20" width="0.86" height="1.20" fill="#7a7a84" />
<rect x="158.32" y="443.60" width="6.08" height="1.20" fill="#d4cce0" />
<rect x="160.02" y="443.60" width="1.60" height="1.20" fill="#3a3060" />
<rect x="159.16" y="442.20" width="4.27" height="1.20" fill="#b4a8c8" />
<rect x="157.62" y="442.20" width="1.60" height="1.20" fill="#b4b4bc" />
<rect x="160.22" y="442.20" width="0.90" height="1.20" fill="#5a4a8a" />
<rect x="159.17" y="441.00" width="6.27" height="1.20" fill="#c4b8d4" />
<rect x="157.65" y="441.00" width="2.00" height="1.20" fill="#8a7ab0" />
<rect x="160.25" y="441.00" width="2.00" height="1.20" fill="#5a4a8a" />
<rect x="162.85" y="441.00" width="1.20" height="1.20" fill="#3a3060" />
<rect x="164.35" y="441.00" width="1.20" height="1.20" fill="#5a4a8a" />
<rect x="157.44" y="439.80" width="2.00" height="1.20" fill="#b4b4bc" />
<rect x="160.04" y="439.80" width="0.90" height="1.20" fill="#3a3060" />
<rect x="161.94" y="439.80" width="1.20" height="1.20" fill="#8a7ab0" />
<rect x="158.59" y="438.40" width="4.78" height="1.20" fill="#b4a8c8" />
<rect x="158.01" y="438.40" width="0.90" height="1.20" fill="#3a3060" />
<rect x="157.32" y="437.00" width="0.90" height="1.20" fill="#5a4a8a" />
<rect x="158.52" y="437.00" width="1.20" height="1.20" fill="#3a3060" />
<rect x="160.72" y="437.00" width="0.90" height="1.20" fill="#9a9aa4" />
<rect x="164.82" y="437.00" width="0.82" height="1.20" fill="#3a3060" />
<rect x="164.64" y="435.60" width="0.41" height="1.20" fill="#5a4a8a" />
<rect x="157.86" y="434.00" width="0.90" height="1.20" fill="#3a3060" />
<rect x="161.26" y="434.00" width="1.60" height="1.20" fill="#3a3060" />
<rect x="163.86" y="434.00" width="0.22" height="1.20" fill="#9a9aa4" />
<rect x="158.36" y="432.80" width="4.84" height="1.20" fill="#b4a8c8" />
<rect x="157.52" y="432.80" width="0.90" height="1.20" fill="#3a3060" />
<rect x="159.42" y="432.80" width="2.00" height="1.20" fill="#3a3060" />
<rect x="162.02" y="432.80" width="0.90" height="1.20" fill="#3a3060" />
<rect x="170.06" y="453.80" width="2.90" height="1.20" fill="#e4c8cc" />
<rect x="174.13" y="453.80" width="0.77" height="1.20" fill="#d04050" />
<rect x="168.48" y="452.60" width="4.40" height="1.20" fill="#dcb4ba" />
<rect x="168.07" y="452.60" width="1.60" height="1.20" fill="#8a1a2a" />
<rect x="170.27" y="452.60" width="0.90" height="1.20" fill="#8a1a2a" />
<rect x="172.97" y="452.60" width="1.20" height="1.20" fill="#8a1a2a" />
<rect x="171.62" y="451.40" width="0.90" height="1.20" fill="#c0202e" />
<rect x="176.12" y="453.80" width="1.60" height="1.20" fill="#1e2660" />
<rect x="179.12" y="453.80" width="1.20" height="1.20" fill="#2a3a8a" />
<rect x="179.91" y="452.40" width="1.20" height="1.20" fill="#5a6ab0" />
<rect x="176.23" y="451.00" width="0.90" height="1.20" fill="#2a3a8a" />
<rect x="178.67" y="449.40" width="1.60" height="1.20" fill="#9a9aa4" />
<rect x="177.07" y="448.00" width="3.90" height="1.20" fill="#c8cce0" />
<rect x="176.28" y="448.00" width="2.00" height="1.20" fill="#2a3a8a" />
<rect x="177.29" y="446.60" width="2.86" height="1.20" fill="#b4b8d4" />
<rect x="176.54" y="446.60" width="2.00" height="1.20" fill="#2a3a8a" />
<rect x="179.14" y="446.60" width="1.05" height="1.20" fill="#1e2660" />
<rect x="178.10" y="445.20" width="1.75" height="1.20" fill="#9a9aa4" />
<rect x="176.83" y="444.00" width="2.87" height="1.20" fill="#a8acc8" />
<rect x="176.48" y="444.00" width="2.00" height="1.20" fill="#2a3a8a" />
<rect x="176.97" y="442.80" width="3.39" height="1.20" fill="#a8acc8" />
<rect x="178.90" y="442.80" width="1.83" height="1.20" fill="#2a3a8a" />
<rect x="182.46" y="453.80" width="2.30" height="1.20" fill="#a8acc8" />
<rect x="182.02" y="453.80" width="2.00" height="1.20" fill="#1e2660" />
<rect x="184.32" y="453.80" width="0.57" height="1.20" fill="#5a6ab0" />
<rect x="182.05" y="452.40" width="1.20" height="1.20" fill="#1e2660" />
<rect x="182.39" y="451.00" width="1.60" height="1.20" fill="#1e2660" />
<rect x="182.83" y="449.40" width="1.59" height="1.20" fill="#b4b8d4" />
<rect x="185.43" y="453.80" width="1.20" height="1.20" fill="#16401f" />
<rect x="186.93" y="453.80" width="1.60" height="1.20" fill="#16401f" />
<rect x="189.53" y="453.80" width="0.90" height="1.20" fill="#16401f" />
<rect x="185.91" y="452.20" width="4.16" height="1.20" fill="#a4bca8" />
<rect x="188.45" y="452.20" width="2.00" height="1.20" fill="#4a8a5a" />
<rect x="186.35" y="450.60" width="3.55" height="1.20" fill="#c8d8cc" />
<rect x="185.46" y="450.60" width="1.60" height="1.20" fill="#16401f" />
<rect x="187.81" y="449.00" width="1.60" height="1.20" fill="#1f6a30" />
<rect x="185.96" y="447.40" width="1.60" height="1.20" fill="#1f6a30" />
<rect x="188.96" y="447.40" width="0.90" height="1.20" fill="#16401f" />
<rect x="185.59" y="446.00" width="1.20" height="1.20" fill="#16401f" />
<rect x="190.09" y="446.00" width="0.10" height="1.20" fill="#16401f" />
<rect x="185.47" y="444.40" width="1.60" height="1.20" fill="#1f6a30" />
<rect x="189.27" y="444.40" width="0.96" height="1.20" fill="#1f6a30" />
<rect x="185.79" y="443.20" width="4.17" height="1.20" fill="#c8d8cc" />
<rect x="185.40" y="443.20" width="0.90" height="1.20" fill="#1f6a30" />
<rect x="187.70" y="443.20" width="1.20" height="1.20" fill="#1f6a30" />
<rect x="189.50" y="443.20" width="0.53" height="1.20" fill="#1f6a30" />
<rect x="187.03" y="442.00" width="4.30" height="1.20" fill="#a4bca8" />
<rect x="188.29" y="442.00" width="2.00" height="1.20" fill="#16401f" />
<rect x="194.16" y="453.80" width="2.83" height="1.20" fill="#b4a8c8" />
<rect x="194.03" y="453.80" width="2.00" height="1.20" fill="#5a4a8a" />
<rect x="197.43" y="453.80" width="0.04" height="1.20" fill="#8a7ab0" />
<rect x="194.13" y="452.40" width="1.60" height="1.20" fill="#5a4a8a" />
<rect x="196.03" y="452.40" width="0.78" height="1.20" fill="#5a4a8a" />
<rect x="194.03" y="450.80" width="1.60" height="1.20" fill="#9a9aa4" />
<rect x="208.76" y="453.80" width="3.74" height="1.20" fill="#b4b8d4" />
<rect x="212.27" y="453.80" width="1.16" height="1.20" fill="#2a3a8a" />
<rect x="208.51" y="452.20" width="3.29" height="1.20" fill="#b4b8d4" />
<rect x="207.12" y="452.20" width="2.00" height="1.20" fill="#9a9aa4" />
<rect x="210.52" y="452.20" width="0.90" height="1.20" fill="#2a3a8a" />
<rect x="212.82" y="452.20" width="0.28" height="1.20" fill="#2a3a8a" />
<rect x="208.41" y="450.80" width="3.97" height="1.20" fill="#b4b8d4" />
<rect x="209.99" y="450.80" width="0.90" height="1.20" fill="#1e2660" />
<rect x="212.29" y="450.80" width="0.42" height="1.20" fill="#1e2660" />
<rect x="208.34" y="449.20" width="4.14" height="1.20" fill="#a8acc8" />
<rect x="210.20" y="449.20" width="2.00" height="1.20" fill="#7a7a84" />
<rect x="207.39" y="448.00" width="0.90" height="1.20" fill="#1e2660" />
<rect x="208.59" y="448.00" width="0.90" height="1.20" fill="#1e2660" />
<rect x="209.79" y="448.00" width="2.00" height="1.20" fill="#2a3a8a" />
<rect x="208.04" y="446.80" width="3.10" height="1.20" fill="#a8acc8" />
<rect x="207.88" y="446.80" width="1.60" height="1.20" fill="#1e2660" />
<rect x="207.53" y="445.40" width="0.90" height="1.20" fill="#1e2660" />
<rect x="213.86" y="453.80" width="0.90" height="1.20" fill="#1f6a30" />
<rect x="218.36" y="453.80" width="1.20" height="1.20" fill="#9a9aa4" />
<rect x="214.95" y="451.00" width="3.48" height="1.20" fill="#c8d8cc" />
<rect x="213.91" y="451.00" width="1.60" height="1.20" fill="#16401f" />
<rect x="216.43" y="449.40" width="1.84" height="1.20" fill="#4a8a5a" />
<rect x="214.27" y="448.00" width="3.97" height="1.20" fill="#b4cab8" />
<rect x="213.80" y="448.00" width="0.90" height="1.20" fill="#16401f" />
<rect x="215.70" y="448.00" width="1.60" height="1.20" fill="#7a7a84" />
<rect x="217.90" y="448.00" width="0.44" height="1.20" fill="#4a8a5a" />
<rect x="218.39" y="446.60" width="0.28" height="1.20" fill="#9a9aa4" />
<rect x="221.18" y="453.80" width="2.00" height="1.20" fill="#5a4a8a" />
<rect x="221.13" y="452.20" width="2.95" height="1.20" fill="#b4a8c8" />
<rect x="221.04" y="452.20" width="0.90" height="1.20" fill="#b4b4bc" />
<rect x="221.59" y="450.80" width="2.49" height="1.20" fill="#d4cce0" />
<rect x="223.44" y="450.80" width="1.41" height="1.20" fill="#3a3060" />
<rect x="226.06" y="451.40" width="2.00" height="1.20" fill="#b4b4bc" />
<rect x="228.24" y="450.20" width="0.25" height="1.20" fill="#c0202e" />
<rect x="231.78" y="453.80" width="8.11" height="1.20" fill="#c8d8cc" />
<rect x="237.60" y="453.80" width="2.00" height="1.20" fill="#9a9aa4" />
<rect x="241.00" y="453.80" width="1.60" height="1.20" fill="#7a7a84" />
<rect x="232.26" y="452.60" width="8.51" height="1.20" fill="#b4cab8" />
<rect x="230.85" y="452.60" width="1.20" height="1.20" fill="#9a9aa4" />
<rect x="232.35" y="452.60" width="1.60" height="1.20" fill="#1f6a30" />
<rect x="234.25" y="452.60" width="0.90" height="1.20" fill="#16401f" />
<rect x="236.55" y="452.60" width="0.90" height="1.20" fill="#1f6a30" />
<rect x="238.05" y="452.60" width="1.20" height="1.20" fill="#1f6a30" />
<rect x="239.55" y="452.60" width="2.00" height="1.20" fill="#16401f" />
<rect x="231.34" y="451.40" width="7.45" height="1.20" fill="#c8d8cc" />
<rect x="230.94" y="451.40" width="1.60" height="1.20" fill="#b4b4bc" />
<rect x="236.94" y="451.40" width="1.60" height="1.20" fill="#1f6a30" />
<rect x="241.04" y="451.40" width="1.04" height="1.20" fill="#1f6a30" />
<rect x="231.56" y="450.20" width="1.20" height="1.20" fill="#16401f" />
<rect x="233.06" y="450.20" width="2.00" height="1.20" fill="#1f6a30" />
<rect x="236.46" y="450.20" width="1.20" height="1.20" fill="#16401f" />
<rect x="238.26" y="450.20" width="1.20" height="1.20" fill="#1f6a30" />
<rect x="240.86" y="450.20" width="1.60" height="1.20" fill="#1f6a30" />
<rect x="233.20" y="448.80" width="0.90" height="1.20" fill="#4a8a5a" />
<rect x="238.90" y="448.80" width="1.20" height="1.20" fill="#1f6a30" />
<rect x="232.47" y="447.20" width="8.16" height="1.20" fill="#c8d8cc" />
<rect x="231.25" y="447.20" width="2.00" height="1.20" fill="#16401f" />
<rect x="236.85" y="447.20" width="0.90" height="1.20" fill="#1f6a30" />
<rect x="238.05" y="447.20" width="1.60" height="1.20" fill="#16401f" />
<rect x="240.25" y="447.20" width="0.61" height="1.20" fill="#1f6a30" />
<rect x="233.40" y="445.80" width="2.00" height="1.20" fill="#4a8a5a" />
<rect x="239.00" y="445.80" width="1.20" height="1.20" fill="#1f6a30" />
<rect x="233.19" y="444.60" width="5.21" height="1.20" fill="#a4bca8" />
<rect x="232.05" y="444.60" width="1.20" height="1.20" fill="#16401f" />
<rect x="236.15" y="444.60" width="2.00" height="1.20" fill="#16401f" />
<rect x="239.15" y="444.60" width="0.87" height="1.20" fill="#1f6a30" />
<rect x="233.23" y="443.40" width="4.21" height="1.20" fill="#a4bca8" />
<rect x="233.15" y="442.00" width="7.16" height="1.20" fill="#c8d8cc" />
<rect x="237.51" y="442.00" width="1.60" height="1.20" fill="#7a7a84" />
<rect x="232.25" y="440.40" width="1.20" height="1.20" fill="#16401f" />
<rect x="234.05" y="440.40" width="1.20" height="1.20" fill="#16401f" />
<rect x="235.55" y="440.40" width="0.90" height="1.20" fill="#16401f" />
<rect x="237.05" y="440.40" width="2.00" height="1.20" fill="#1f6a30" />
<rect x="34.00" y="424.50" width="10.00" height="1.00" fill="#9a9aa6" />
<rect x="30.00" y="428.00" width="15.00" height="1.00" fill="#9a9aa6" />
<rect x="31.00" y="431.50" width="12.00" height="1.00" fill="#9a9aa6" />
<rect x="29.50" y="435.00" width="15.00" height="1.00" fill="#9a9aa6" />
<rect x="30.00" y="438.50" width="12.00" height="1.00" fill="#9a9aa6" />
<rect x="31.00" y="442.00" width="14.00" height="1.00" fill="#9a9aa6" />
<rect x="29.50" y="445.50" width="10.50" height="1.00" fill="#9a9aa6" />
<rect x="31.00" y="449.00" width="13.00" height="1.00" fill="#9a9aa6" />
<rect x="88.50" y="437.00" width="12.00" height="0.90" fill="#9a9aa6" />
<rect x="231.00" y="439.00" width="13.00" height="1.00" fill="#8a9a90" />
<rect x="82.40" y="316.00" width="1.60" height="140.40" fill="#b0203e" />
<rect x="85.40" y="317.50" width="0.80" height="1.10" fill="#c04858" />
<rect x="87.10" y="317.50" width="0.80" height="1.10" fill="#b03a50" />
<rect x="80.20" y="317.50" width="1.50" height="1.10" fill="#a89aa4" />
<rect x="82.20" y="317.50" width="0.80" height="1.10" fill="#a89aa4" />
<rect x="84.10" y="319.40" width="1.10" height="1.10" fill="#c04858" />
<rect x="85.40" y="319.40" width="1.10" height="1.10" fill="#c89098" />
<rect x="86.70" y="319.40" width="0.80" height="1.10" fill="#d07080" />
<rect x="81.50" y="319.40" width="1.50" height="1.10" fill="#4a2030" />
<rect x="85.10" y="320.80" width="0.80" height="1.10" fill="#c89098" />
<rect x="86.10" y="320.80" width="1.10" height="1.10" fill="#b03a50" />
<rect x="80.20" y="320.80" width="0.80" height="1.10" fill="#3a1a24" />
<rect x="81.20" y="320.80" width="1.50" height="1.10" fill="#a89aa4" />
<rect x="86.70" y="322.70" width="0.80" height="1.10" fill="#3a1a24" />
<rect x="84.10" y="324.60" width="1.50" height="1.10" fill="#b03a50" />
<rect x="85.80" y="324.60" width="1.10" height="1.10" fill="#4a2030" />
<rect x="87.10" y="324.60" width="0.80" height="1.10" fill="#4a2030" />
<rect x="80.20" y="324.60" width="1.10" height="1.10" fill="#4a2030" />
<rect x="84.10" y="326.20" width="1.50" height="1.10" fill="#c04858" />
<rect x="85.80" y="326.20" width="1.50" height="1.10" fill="#5a1a30" />
<rect x="80.20" y="326.20" width="1.10" height="1.10" fill="#3a1a24" />
<rect x="84.10" y="328.10" width="1.10" height="1.10" fill="#b03a50" />
<rect x="86.10" y="328.10" width="0.80" height="1.10" fill="#5a1a30" />
<rect x="81.90" y="328.10" width="0.80" height="1.10" fill="#3a1a24" />
<rect x="84.10" y="330.00" width="1.10" height="1.10" fill="#c04858" />
<rect x="85.40" y="330.00" width="1.10" height="1.10" fill="#c04858" />
<rect x="80.20" y="330.00" width="0.80" height="1.10" fill="#a89aa4" />
<rect x="81.20" y="330.00" width="1.10" height="1.10" fill="#a89aa4" />
<rect x="84.10" y="331.40" width="0.80" height="1.10" fill="#5a1a30" />
<rect x="85.80" y="331.40" width="1.10" height="1.10" fill="#d07080" />
<rect x="87.40" y="331.40" width="1.50" height="1.10" fill="#5a1a30" />
<rect x="84.10" y="333.00" width="1.10" height="1.10" fill="#d07080" />
<rect x="81.50" y="333.00" width="1.10" height="1.10" fill="#a89aa4" />
<rect x="84.10" y="334.90" width="1.10" height="1.10" fill="#b03a50" />
<rect x="86.10" y="334.90" width="0.80" height="1.10" fill="#c04858" />
<rect x="87.10" y="334.90" width="0.80" height="1.10" fill="#c04858" />
<rect x="80.20" y="334.90" width="1.50" height="1.10" fill="#3a1a24" />
<rect x="84.10" y="336.50" width="1.10" height="1.10" fill="#c89098" />
<rect x="85.70" y="336.50" width="1.10" height="1.10" fill="#3a1a24" />
<rect x="87.00" y="336.50" width="1.50" height="1.10" fill="#d07080" />
<rect x="84.10" y="338.40" width="1.10" height="1.10" fill="#b03a50" />
<rect x="85.40" y="338.40" width="0.80" height="1.10" fill="#b03a50" />
<rect x="87.10" y="338.40" width="0.80" height="1.10" fill="#d07080" />
<rect x="81.90" y="338.40" width="1.50" height="1.10" fill="#c05868" />
<rect x="84.10" y="340.00" width="1.10" height="1.10" fill="#d07080" />
<rect x="86.10" y="340.00" width="1.10" height="1.10" fill="#c04858" />
<rect x="87.40" y="340.00" width="0.80" height="1.10" fill="#c04858" />
<rect x="80.20" y="340.00" width="0.80" height="1.10" fill="#a89aa4" />
<rect x="84.10" y="341.90" width="1.10" height="1.10" fill="#c89098" />
<rect x="85.70" y="341.90" width="1.10" height="1.10" fill="#c89098" />
<rect x="87.30" y="341.90" width="1.10" height="1.10" fill="#b03a50" />
<rect x="80.20" y="341.90" width="1.10" height="1.10" fill="#c05868" />
<rect x="76.70" y="341.90" width="3.50" height="1.00" fill="#9a98a8" />
<rect x="84.10" y="343.30" width="1.50" height="1.10" fill="#d07080" />
<rect x="86.10" y="343.30" width="1.50" height="1.10" fill="#c04858" />
<rect x="80.20" y="343.30" width="1.50" height="1.10" fill="#4a2030" />
<rect x="81.90" y="343.30" width="1.50" height="1.10" fill="#3a1a24" />
<rect x="84.10" y="345.20" width="1.50" height="1.10" fill="#d07080" />
<rect x="86.50" y="345.20" width="1.50" height="1.10" fill="#d07080" />
<rect x="80.20" y="345.20" width="1.50" height="1.10" fill="#d08090" />
<rect x="84.10" y="346.80" width="0.80" height="1.10" fill="#b03a50" />
<rect x="84.10" y="348.70" width="0.80" height="1.10" fill="#4a2030" />
<rect x="80.20" y="348.70" width="1.50" height="1.10" fill="#3a1a24" />
<rect x="84.10" y="350.10" width="1.50" height="1.10" fill="#3a1a24" />
<rect x="86.50" y="350.10" width="1.10" height="1.10" fill="#c89098" />
<rect x="84.10" y="351.70" width="0.80" height="1.10" fill="#c89098" />
<rect x="85.10" y="351.70" width="0.80" height="1.10" fill="#b03a50" />
<rect x="86.80" y="351.70" width="0.80" height="1.10" fill="#d07080" />
<rect x="80.20" y="351.70" width="1.10" height="1.10" fill="#c05868" />
<rect x="81.50" y="351.70" width="1.50" height="1.10" fill="#c05868" />
<rect x="84.10" y="353.10" width="1.50" height="1.10" fill="#d07080" />
<rect x="81.90" y="353.10" width="1.50" height="1.10" fill="#d08090" />
<rect x="84.10" y="354.50" width="1.50" height="1.10" fill="#d07080" />
<rect x="85.80" y="354.50" width="0.80" height="1.10" fill="#5a1a30" />
<rect x="87.10" y="354.50" width="1.50" height="1.10" fill="#b03a50" />
<rect x="80.20" y="354.50" width="1.50" height="1.10" fill="#c05868" />
<rect x="81.90" y="354.50" width="0.80" height="1.10" fill="#c05868" />
<rect x="84.10" y="356.10" width="1.10" height="1.10" fill="#c89098" />
<rect x="85.70" y="356.10" width="1.10" height="1.10" fill="#d07080" />
<rect x="87.30" y="356.10" width="1.50" height="1.10" fill="#d07080" />
<rect x="80.20" y="356.10" width="0.80" height="1.10" fill="#d08090" />
<rect x="81.20" y="356.10" width="1.10" height="1.10" fill="#4a2030" />
<rect x="84.10" y="358.00" width="1.10" height="1.10" fill="#c89098" />
<rect x="86.10" y="358.00" width="1.50" height="1.10" fill="#4a2030" />
<rect x="80.20" y="358.00" width="1.10" height="1.10" fill="#a89aa4" />
<rect x="84.10" y="359.90" width="1.50" height="1.10" fill="#c04858" />
<rect x="86.50" y="359.90" width="0.80" height="1.10" fill="#c89098" />
<rect x="80.20" y="359.90" width="1.50" height="1.10" fill="#c05868" />
<rect x="82.20" y="359.90" width="0.80" height="1.10" fill="#d08090" />
<rect x="85.10" y="361.30" width="1.50" height="1.10" fill="#c89098" />
<rect x="87.10" y="361.30" width="1.10" height="1.10" fill="#c04858" />
<rect x="80.20" y="361.30" width="1.50" height="1.10" fill="#d08090" />
<rect x="84.10" y="362.70" width="1.10" height="1.10" fill="#b03a50" />
<rect x="85.40" y="362.70" width="1.10" height="1.10" fill="#c04858" />
<rect x="87.00" y="362.70" width="1.50" height="1.10" fill="#b03a50" />
<rect x="81.50" y="362.70" width="1.50" height="1.10" fill="#c05868" />
<rect x="84.10" y="364.60" width="0.80" height="1.10" fill="#3a1a24" />
<rect x="85.10" y="364.60" width="0.80" height="1.10" fill="#c04858" />
<rect x="80.20" y="364.60" width="0.80" height="1.10" fill="#c05868" />
<rect x="84.10" y="366.50" width="1.10" height="1.10" fill="#d07080" />
<rect x="87.10" y="366.50" width="0.80" height="1.10" fill="#3a1a24" />
<rect x="80.20" y="366.50" width="0.80" height="1.10" fill="#a89aa4" />
<rect x="81.90" y="366.50" width="0.80" height="1.10" fill="#3a1a24" />
<rect x="84.10" y="368.40" width="1.10" height="1.10" fill="#d07080" />
<rect x="87.00" y="368.40" width="1.10" height="1.10" fill="#b03a50" />
<rect x="80.20" y="368.40" width="0.80" height="1.10" fill="#c05868" />
<rect x="84.10" y="369.80" width="1.10" height="1.10" fill="#c04858" />
<rect x="85.70" y="369.80" width="1.50" height="1.10" fill="#c04858" />
<rect x="87.70" y="369.80" width="1.50" height="1.10" fill="#c04858" />
<rect x="82.20" y="369.80" width="1.50" height="1.10" fill="#d08090" />
<rect x="84.10" y="371.20" width="1.50" height="1.10" fill="#c89098" />
<rect x="85.80" y="371.20" width="1.50" height="1.10" fill="#c04858" />
<rect x="80.20" y="371.20" width="1.50" height="1.10" fill="#c05868" />
<rect x="84.10" y="373.10" width="1.50" height="1.10" fill="#c89098" />
<rect x="86.50" y="373.10" width="1.50" height="1.10" fill="#5a1a30" />
<rect x="84.10" y="375.00" width="1.10" height="1.10" fill="#b03a50" />
<rect x="86.10" y="375.00" width="1.10" height="1.10" fill="#4a2030" />
<rect x="81.50" y="375.00" width="0.80" height="1.10" fill="#c05868" />
<rect x="84.10" y="376.60" width="1.50" height="1.10" fill="#c04858" />
<rect x="85.80" y="376.60" width="1.50" height="1.10" fill="#c04858" />
<rect x="82.20" y="376.60" width="1.10" height="1.10" fill="#a89aa4" />
<rect x="76.70" y="376.60" width="3.50" height="1.00" fill="#6a6878" />
<rect x="84.10" y="378.20" width="0.80" height="1.10" fill="#4a2030" />
<rect x="85.40" y="378.20" width="0.80" height="1.10" fill="#5a1a30" />
<rect x="86.70" y="378.20" width="1.10" height="1.10" fill="#4a2030" />
<rect x="80.20" y="378.20" width="1.50" height="1.10" fill="#a89aa4" />
<rect x="84.10" y="379.80" width="1.10" height="1.10" fill="#b03a50" />
<rect x="87.70" y="379.80" width="0.80" height="1.10" fill="#3a1a24" />
<rect x="80.20" y="379.80" width="1.10" height="1.10" fill="#3a1a24" />
<rect x="84.10" y="381.70" width="0.80" height="1.10" fill="#c04858" />
<rect x="86.10" y="381.70" width="0.80" height="1.10" fill="#c89098" />
<rect x="81.50" y="381.70" width="1.50" height="1.10" fill="#c05868" />
<rect x="84.10" y="383.10" width="1.50" height="1.10" fill="#4a2030" />
<rect x="86.10" y="383.10" width="1.10" height="1.10" fill="#3a1a24" />
<rect x="87.70" y="383.10" width="0.80" height="1.10" fill="#c04858" />
<rect x="86.10" y="385.00" width="0.80" height="1.10" fill="#5a1a30" />
<rect x="87.40" y="385.00" width="1.50" height="1.10" fill="#5a1a30" />
<rect x="80.20" y="385.00" width="1.50" height="1.10" fill="#a89aa4" />
<rect x="81.90" y="385.00" width="1.10" height="1.10" fill="#a89aa4" />
<rect x="85.40" y="386.60" width="1.10" height="1.10" fill="#b03a50" />
<rect x="87.40" y="386.60" width="1.10" height="1.10" fill="#5a1a30" />
<rect x="80.20" y="386.60" width="1.10" height="1.10" fill="#c05868" />
<rect x="84.10" y="388.20" width="1.10" height="1.10" fill="#d07080" />
<rect x="85.70" y="388.20" width="0.80" height="1.10" fill="#c89098" />
<rect x="86.70" y="388.20" width="1.10" height="1.10" fill="#b03a50" />
<rect x="82.20" y="388.20" width="1.50" height="1.10" fill="#a89aa4" />
<rect x="84.10" y="389.60" width="1.50" height="1.10" fill="#5a1a30" />
<rect x="86.50" y="389.60" width="0.80" height="1.10" fill="#c04858" />
<rect x="80.20" y="389.60" width="0.80" height="1.10" fill="#c05868" />
<rect x="81.20" y="389.60" width="1.50" height="1.10" fill="#c05868" />
<rect x="85.40" y="391.50" width="1.50" height="1.10" fill="#c04858" />
<rect x="80.20" y="391.50" width="1.10" height="1.10" fill="#a89aa4" />
<rect x="82.20" y="391.50" width="0.80" height="1.10" fill="#d08090" />
<rect x="84.10" y="392.90" width="0.80" height="1.10" fill="#d07080" />
<rect x="85.10" y="392.90" width="0.80" height="1.10" fill="#3a1a24" />
<rect x="75.20" y="392.90" width="5.00" height="1.00" fill="#9a98a8" />
<rect x="86.50" y="394.30" width="0.80" height="1.10" fill="#c04858" />
<rect x="84.10" y="395.90" width="1.10" height="1.10" fill="#d07080" />
<rect x="85.40" y="395.90" width="0.80" height="1.10" fill="#4a2030" />
<rect x="86.40" y="395.90" width="0.80" height="1.10" fill="#c04858" />
<rect x="80.20" y="395.90" width="1.10" height="1.10" fill="#a89aa4" />
<rect x="81.50" y="395.90" width="1.50" height="1.10" fill="#4a2030" />
<rect x="85.40" y="397.30" width="0.80" height="1.10" fill="#c89098" />
<rect x="87.10" y="397.30" width="1.10" height="1.10" fill="#c89098" />
<rect x="84.10" y="399.20" width="0.80" height="1.10" fill="#5a1a30" />
<rect x="85.10" y="399.20" width="1.10" height="1.10" fill="#b03a50" />
<rect x="87.10" y="399.20" width="0.80" height="1.10" fill="#b03a50" />
<rect x="84.10" y="400.80" width="0.80" height="1.10" fill="#c89098" />
<rect x="85.10" y="400.80" width="1.50" height="1.10" fill="#3a1a24" />
<rect x="87.50" y="400.80" width="1.50" height="1.10" fill="#c04858" />
<rect x="80.20" y="400.80" width="1.50" height="1.10" fill="#3a1a24" />
<rect x="84.10" y="402.40" width="0.80" height="1.10" fill="#d07080" />
<rect x="85.40" y="402.40" width="1.10" height="1.10" fill="#c04858" />
<rect x="86.70" y="402.40" width="1.10" height="1.10" fill="#3a1a24" />
<rect x="80.20" y="402.40" width="1.10" height="1.10" fill="#4a2030" />
<rect x="84.10" y="404.00" width="1.50" height="1.10" fill="#d07080" />
<rect x="85.80" y="404.00" width="1.10" height="1.10" fill="#c89098" />
<rect x="87.10" y="404.00" width="0.80" height="1.10" fill="#3a1a24" />
<rect x="81.90" y="404.00" width="0.80" height="1.10" fill="#a89aa4" />
<rect x="86.50" y="405.40" width="1.10" height="1.10" fill="#c89098" />
<rect x="80.20" y="405.40" width="0.80" height="1.10" fill="#4a2030" />
<rect x="84.10" y="407.30" width="0.80" height="1.10" fill="#c04858" />
<rect x="85.10" y="407.30" width="1.10" height="1.10" fill="#d07080" />
<rect x="87.10" y="407.30" width="1.50" height="1.10" fill="#d07080" />
<rect x="80.20" y="407.30" width="1.10" height="1.10" fill="#d08090" />
<rect x="81.50" y="407.30" width="1.10" height="1.10" fill="#c05868" />
<rect x="75.20" y="407.30" width="5.00" height="1.00" fill="#9a98a8" />
<rect x="86.50" y="408.70" width="1.10" height="1.10" fill="#c04858" />
<rect x="81.20" y="408.70" width="0.80" height="1.10" fill="#4a2030" />
<rect x="80.20" y="410.60" width="1.50" height="1.10" fill="#d08090" />
<rect x="84.10" y="412.50" width="1.10" height="1.10" fill="#5a1a30" />
<rect x="86.10" y="412.50" width="1.50" height="1.10" fill="#d07080" />
<rect x="81.50" y="412.50" width="1.50" height="1.10" fill="#4a2030" />
<rect x="84.10" y="413.90" width="1.50" height="1.10" fill="#c04858" />
<rect x="86.50" y="413.90" width="1.50" height="1.10" fill="#b03a50" />
<rect x="80.20" y="413.90" width="1.10" height="1.10" fill="#a89aa4" />
<rect x="82.20" y="413.90" width="1.10" height="1.10" fill="#d08090" />
<rect x="84.10" y="415.30" width="1.10" height="1.10" fill="#d07080" />
<rect x="80.20" y="415.30" width="1.10" height="1.10" fill="#c05868" />
<rect x="84.10" y="416.90" width="1.50" height="1.10" fill="#b03a50" />
<rect x="86.50" y="416.90" width="1.10" height="1.10" fill="#b03a50" />
<rect x="80.20" y="416.90" width="0.80" height="1.10" fill="#d08090" />
<rect x="84.10" y="418.50" width="0.80" height="1.10" fill="#c89098" />
<rect x="85.10" y="418.50" width="1.50" height="1.10" fill="#d07080" />
<rect x="87.10" y="418.50" width="0.80" height="1.10" fill="#b03a50" />
<rect x="84.10" y="419.90" width="1.10" height="1.10" fill="#4a2030" />
<rect x="85.40" y="419.90" width="1.50" height="1.10" fill="#5a1a30" />
<rect x="81.20" y="419.90" width="1.10" height="1.10" fill="#c05868" />
<rect x="84.10" y="421.30" width="1.10" height="1.10" fill="#c89098" />
<rect x="87.70" y="421.30" width="1.10" height="1.10" fill="#3a1a24" />
<rect x="80.20" y="421.30" width="1.10" height="1.10" fill="#4a2030" />
<rect x="84.10" y="422.70" width="0.80" height="1.10" fill="#d07080" />
<rect x="85.40" y="422.70" width="0.80" height="1.10" fill="#3a1a24" />
<rect x="86.40" y="422.70" width="1.10" height="1.10" fill="#b03a50" />
<rect x="87.70" y="422.70" width="0.80" height="1.10" fill="#c04858" />
<rect x="80.20" y="422.70" width="1.10" height="1.10" fill="#3a1a24" />
<rect x="77.70" y="422.70" width="2.50" height="1.00" fill="#8a8898" />
<rect x="84.10" y="424.30" width="1.10" height="1.10" fill="#c89098" />
<rect x="85.40" y="424.30" width="1.10" height="1.10" fill="#c89098" />
<rect x="87.40" y="424.30" width="0.80" height="1.10" fill="#b03a50" />
<rect x="84.10" y="425.90" width="0.80" height="1.10" fill="#d07080" />
<rect x="85.80" y="425.90" width="1.10" height="1.10" fill="#c89098" />
<rect x="81.50" y="425.90" width="1.10" height="1.10" fill="#c05868" />
<rect x="77.70" y="425.90" width="2.50" height="1.00" fill="#8a8898" />
<rect x="84.10" y="427.30" width="1.10" height="1.10" fill="#5a1a30" />
<rect x="86.10" y="427.30" width="1.10" height="1.10" fill="#b03a50" />
<rect x="81.50" y="427.30" width="0.80" height="1.10" fill="#d08090" />
<rect x="84.10" y="429.20" width="0.80" height="1.10" fill="#c89098" />
<rect x="85.40" y="429.20" width="1.10" height="1.10" fill="#b03a50" />
<rect x="87.00" y="429.20" width="0.80" height="1.10" fill="#b03a50" />
<rect x="82.20" y="429.20" width="1.50" height="1.10" fill="#d08090" />
<rect x="84.10" y="430.80" width="0.80" height="1.10" fill="#b03a50" />
<rect x="85.10" y="430.80" width="1.10" height="1.10" fill="#4a2030" />
<rect x="86.40" y="430.80" width="1.50" height="1.10" fill="#b03a50" />
<rect x="80.20" y="430.80" width="1.10" height="1.10" fill="#a89aa4" />
<rect x="84.10" y="432.20" width="0.80" height="1.10" fill="#b03a50" />
<rect x="85.80" y="432.20" width="1.10" height="1.10" fill="#c89098" />
<rect x="82.20" y="432.20" width="0.80" height="1.10" fill="#3a1a24" />
<rect x="84.10" y="434.10" width="1.50" height="1.10" fill="#4a2030" />
<rect x="85.80" y="434.10" width="1.50" height="1.10" fill="#b03a50" />
<rect x="80.20" y="434.10" width="1.50" height="1.10" fill="#a89aa4" />
<rect x="82.20" y="434.10" width="1.50" height="1.10" fill="#c05868" />
<rect x="84.10" y="436.00" width="0.80" height="1.10" fill="#d07080" />
<rect x="85.80" y="436.00" width="1.10" height="1.10" fill="#b03a50" />
<rect x="81.50" y="436.00" width="1.10" height="1.10" fill="#c05868" />
<rect x="84.10" y="437.40" width="0.80" height="1.10" fill="#c04858" />
<rect x="80.20" y="437.40" width="0.80" height="1.10" fill="#c05868" />
<rect x="81.20" y="437.40" width="1.50" height="1.10" fill="#3a1a24" />
<rect x="75.20" y="437.40" width="5.00" height="1.00" fill="#9a98a8" />
<rect x="86.70" y="439.30" width="1.50" height="1.10" fill="#5a1a30" />
<rect x="84.10" y="440.90" width="1.50" height="1.10" fill="#c04858" />
<rect x="85.80" y="440.90" width="1.10" height="1.10" fill="#b03a50" />
<rect x="81.90" y="440.90" width="1.10" height="1.10" fill="#c05868" />
<rect x="85.80" y="442.80" width="1.10" height="1.10" fill="#c89098" />
<rect x="87.40" y="442.80" width="1.10" height="1.10" fill="#d07080" />
<rect x="82.20" y="442.80" width="0.80" height="1.10" fill="#4a2030" />
<rect x="77.70" y="442.80" width="2.50" height="1.00" fill="#8a8898" />
<rect x="84.10" y="444.40" width="1.10" height="1.10" fill="#b03a50" />
<rect x="86.10" y="444.40" width="1.10" height="1.10" fill="#4a2030" />
<rect x="80.20" y="444.40" width="1.10" height="1.10" fill="#c05868" />
<rect x="84.10" y="445.80" width="1.50" height="1.10" fill="#c89098" />
<rect x="87.10" y="445.80" width="0.80" height="1.10" fill="#d07080" />
<rect x="81.90" y="445.80" width="1.10" height="1.10" fill="#a89aa4" />
<rect x="84.10" y="447.40" width="1.50" height="1.10" fill="#d07080" />
<rect x="86.10" y="447.40" width="1.10" height="1.10" fill="#b03a50" />
<rect x="87.70" y="447.40" width="0.80" height="1.10" fill="#d07080" />
<rect x="80.20" y="447.40" width="0.80" height="1.10" fill="#c05868" />
<rect x="84.10" y="449.30" width="1.10" height="1.10" fill="#3a1a24" />
<rect x="85.40" y="449.30" width="1.10" height="1.10" fill="#3a1a24" />
<rect x="87.00" y="449.30" width="0.80" height="1.10" fill="#c89098" />
<rect x="80.20" y="449.30" width="1.10" height="1.10" fill="#3a1a24" />
<rect x="84.10" y="451.20" width="0.80" height="1.10" fill="#c89098" />
<rect x="86.10" y="451.20" width="1.10" height="1.10" fill="#4a2030" />
<rect x="80.20" y="451.20" width="0.80" height="1.10" fill="#c05868" />
<rect x="84.10" y="452.60" width="1.50" height="1.10" fill="#c04858" />
<rect x="87.10" y="452.60" width="1.50" height="1.10" fill="#b03a50" />
<rect x="84.10" y="454.00" width="0.80" height="1.10" fill="#c04858" />
<rect x="85.40" y="454.00" width="1.10" height="1.10" fill="#3a1a24" />
<rect x="87.00" y="454.00" width="1.10" height="1.10" fill="#d07080" />
<rect x="80.20" y="454.00" width="1.10" height="1.10" fill="#3a1a24" />
<rect x="81.50" y="454.00" width="0.80" height="1.10" fill="#c05868" />
<rect x="84.10" y="455.40" width="0.80" height="1.10" fill="#3a1a24" />
<rect x="85.40" y="455.40" width="1.10" height="1.10" fill="#c89098" />
<rect x="86.70" y="455.40" width="1.10" height="1.10" fill="#c89098" />
<rect x="80.20" y="455.40" width="1.10" height="1.10" fill="#a89aa4" />
<rect x="81.80" y="455.40" width="1.10" height="1.10" fill="#d08090" />
<rect x="76.30" y="316.50" width="5.80" height="1.00" fill="#7a7282" />
<rect x="84.00" y="318.00" width="4.00" height="1.00" fill="#7a7282" />
<rect x="78.00" y="335.00" width="4.10" height="1.00" fill="#7a7282" />
<rect x="77.00" y="348.00" width="5.10" height="1.00" fill="#7a7282" />
<rect x="77.00" y="380.00" width="5.10" height="1.00" fill="#7a7282" />
<rect x="76.50" y="383.00" width="5.60" height="1.00" fill="#7a7282" />
<rect x="76.00" y="413.60" width="6.00" height="1.00" fill="#7a7282" />
<rect x="76.50" y="419.20" width="5.50" height="1.00" fill="#7a7282" />
<rect x="76.00" y="423.20" width="6.00" height="1.00" fill="#7a7282" />
<rect x="80.00" y="437.00" width="2.00" height="1.00" fill="#7a7282" />
<rect x="80.43" y="453.80" width="0.90" height="1.20" fill="#3a3060" />
<rect x="77.69" y="452.40" width="2.31" height="1.20" fill="#c4b8d4" />
<rect x="79.86" y="452.40" width="0.90" height="1.20" fill="#8a7ab0" />
<rect x="76.61" y="451.00" width="4.85" height="1.20" fill="#b4a8c8" />
<rect x="76.54" y="451.00" width="1.20" height="1.20" fill="#5a4a8a" />
<rect x="77.21" y="449.80" width="3.87" height="1.20" fill="#c4b8d4" />
<rect x="78.94" y="448.40" width="1.20" height="1.20" fill="#8a7ab0" />
<rect x="77.82" y="447.00" width="1.81" height="1.20" fill="#c4b8d4" />
<rect x="78.99" y="447.00" width="0.90" height="1.20" fill="#5a4a8a" />
<rect x="84.13" y="453.80" width="2.00" height="1.20" fill="#c0202e" />
<rect x="87.53" y="453.80" width="0.93" height="1.20" fill="#c0202e" />
<rect x="85.65" y="452.60" width="1.20" height="1.20" fill="#8a1a2a" />
<rect x="87.85" y="452.60" width="0.26" height="1.20" fill="#d04050" />
<rect x="84.45" y="451.00" width="0.90" height="1.20" fill="#b4b4bc" />
<rect x="84.75" y="449.80" width="3.04" height="1.20" fill="#c8a8b0" />
<rect x="84.35" y="449.80" width="0.90" height="1.20" fill="#c0202e" />
<rect x="85.85" y="449.80" width="1.60" height="1.20" fill="#d04050" />
<rect x="88.45" y="449.80" width="0.03" height="1.20" fill="#d04050" />
<rect x="84.76" y="448.20" width="2.00" height="1.20" fill="#d04050" />
<rect x="84.90" y="447.00" width="0.90" height="1.20" fill="#8a1a2a" />
<rect x="199.80" y="401.80" width="1.50" height="54.10" fill="#a81c34" />
<rect x="200.00" y="401.90" width="6.00" height="1.30" fill="#b02038" />
<rect x="201.30" y="403.60" width="1.40" height="1.25" fill="#6a1428" />
<rect x="204.70" y="403.60" width="0.88" height="1.25" fill="#6a1428" />
<rect x="201.30" y="405.00" width="1.10" height="1.25" fill="#b01c30" />
<rect x="202.80" y="405.00" width="1.40" height="1.25" fill="#6a1428" />
<rect x="202.30" y="406.40" width="1.40" height="1.25" fill="#c02038" />
<rect x="203.70" y="406.40" width="1.40" height="1.25" fill="#8a1a30" />
<rect x="201.30" y="407.80" width="0.80" height="1.25" fill="#e8a0ac" />
<rect x="202.10" y="407.80" width="0.80" height="1.25" fill="#b01c30" />
<rect x="203.30" y="407.80" width="0.80" height="1.25" fill="#c02038" />
<rect x="205.30" y="407.80" width="0.36" height="1.25" fill="#8a1a30" />
<rect x="201.30" y="409.20" width="1.10" height="1.25" fill="#c02038" />
<rect x="202.60" y="409.20" width="0.80" height="1.25" fill="#c02038" />
<rect x="205.00" y="409.20" width="0.48" height="1.25" fill="#e8a0ac" />
<rect x="201.30" y="410.45" width="0.80" height="1.25" fill="#d03448" />
<rect x="203.90" y="410.45" width="1.40" height="1.25" fill="#d03448" />
<rect x="202.90" y="411.70" width="1.40" height="1.25" fill="#b01c30" />
<rect x="204.70" y="411.70" width="0.82" height="1.25" fill="#c02038" />
<rect x="202.40" y="413.10" width="0.80" height="1.25" fill="#b01c30" />
<rect x="203.60" y="413.10" width="1.40" height="1.25" fill="#6a1428" />
<rect x="205.00" y="413.10" width="0.46" height="1.25" fill="#6a1428" />
<rect x="202.10" y="414.50" width="1.10" height="1.25" fill="#b01c30" />
<rect x="203.60" y="414.50" width="1.10" height="1.25" fill="#6a1428" />
<rect x="205.10" y="414.50" width="0.50" height="1.25" fill="#d03448" />
<rect x="202.90" y="415.75" width="0.80" height="1.25" fill="#8a1a30" />
<rect x="203.70" y="415.75" width="0.80" height="1.25" fill="#b01c30" />
<rect x="201.30" y="417.00" width="0.80" height="1.25" fill="#e8a0ac" />
<rect x="204.00" y="417.00" width="0.80" height="1.25" fill="#c02038" />
<rect x="205.00" y="417.00" width="0.68" height="1.25" fill="#c02038" />
<rect x="201.30" y="418.25" width="1.40" height="1.25" fill="#d03448" />
<rect x="204.30" y="418.25" width="1.10" height="1.25" fill="#c02038" />
<rect x="201.30" y="419.50" width="1.40" height="1.25" fill="#dc8090" />
<rect x="202.70" y="419.50" width="0.80" height="1.25" fill="#c02038" />
<rect x="205.10" y="419.50" width="0.39" height="1.25" fill="#dc8090" />
<rect x="201.30" y="420.90" width="1.40" height="1.25" fill="#d03448" />
<rect x="202.70" y="420.90" width="1.10" height="1.25" fill="#6a1428" />
<rect x="201.30" y="422.30" width="0.80" height="1.25" fill="#c02038" />
<rect x="202.30" y="422.30" width="1.40" height="1.25" fill="#b01c30" />
<rect x="201.30" y="423.70" width="1.10" height="1.25" fill="#d03448" />
<rect x="202.80" y="423.70" width="1.40" height="1.25" fill="#c02038" />
<rect x="205.20" y="423.70" width="0.62" height="1.25" fill="#6a1428" />
<rect x="201.30" y="424.95" width="1.40" height="1.25" fill="#b01c30" />
<rect x="204.30" y="424.95" width="1.20" height="1.25" fill="#d03448" />
<rect x="201.30" y="426.20" width="1.10" height="1.25" fill="#b01c30" />
<rect x="204.90" y="426.20" width="0.77" height="1.25" fill="#b01c30" />
<rect x="202.70" y="427.45" width="0.80" height="1.25" fill="#e8a0ac" />
<rect x="203.90" y="427.45" width="1.10" height="1.25" fill="#dc8090" />
<rect x="203.80" y="428.70" width="1.10" height="1.25" fill="#b01c30" />
<rect x="205.10" y="428.70" width="0.35" height="1.25" fill="#d03448" />
<rect x="205.45" y="428.70" width="0.80" height="1.00" fill="#5a1a28" />
<rect x="204.10" y="429.95" width="1.10" height="1.25" fill="#c02038" />
<rect x="201.30" y="431.20" width="1.10" height="1.25" fill="#8a1a30" />
<rect x="204.20" y="431.20" width="1.10" height="1.25" fill="#c02038" />
<rect x="205.30" y="431.20" width="0.51" height="1.25" fill="#c02038" />
<rect x="202.30" y="432.60" width="1.40" height="1.25" fill="#8a1a30" />
<rect x="204.10" y="432.60" width="1.40" height="1.25" fill="#d03448" />
<rect x="202.40" y="433.85" width="1.40" height="1.25" fill="#8a1a30" />
<rect x="204.90" y="433.85" width="0.77" height="1.25" fill="#c02038" />
<rect x="201.30" y="435.25" width="1.40" height="1.25" fill="#c02038" />
<rect x="202.70" y="435.25" width="1.10" height="1.25" fill="#c02038" />
<rect x="205.40" y="435.25" width="0.38" height="1.25" fill="#b01c30" />
<rect x="205.78" y="435.25" width="0.80" height="1.00" fill="#a01c30" />
<rect x="201.30" y="436.50" width="1.10" height="1.25" fill="#8a1a30" />
<rect x="202.40" y="436.50" width="1.10" height="1.25" fill="#c02038" />
<rect x="201.30" y="437.90" width="1.40" height="1.25" fill="#dc8090" />
<rect x="202.70" y="437.90" width="1.10" height="1.25" fill="#d03448" />
<rect x="205.00" y="437.90" width="0.62" height="1.25" fill="#d03448" />
<rect x="204.60" y="439.30" width="0.88" height="1.25" fill="#d03448" />
<rect x="201.30" y="440.70" width="1.40" height="1.25" fill="#8a1a30" />
<rect x="205.20" y="440.70" width="0.16" height="1.25" fill="#dc8090" />
<rect x="202.70" y="441.95" width="0.80" height="1.25" fill="#b01c30" />
<rect x="203.50" y="441.95" width="1.10" height="1.25" fill="#d03448" />
<rect x="204.80" y="441.95" width="1.05" height="1.25" fill="#b01c30" />
<rect x="202.10" y="443.35" width="1.10" height="1.25" fill="#8a1a30" />
<rect x="203.40" y="443.35" width="1.40" height="1.25" fill="#dc8090" />
<rect x="204.80" y="443.35" width="0.88" height="1.25" fill="#dc8090" />
<rect x="202.10" y="444.60" width="1.10" height="1.25" fill="#d03448" />
<rect x="203.40" y="444.60" width="1.40" height="1.25" fill="#6a1428" />
<rect x="205.20" y="444.60" width="0.15" height="1.25" fill="#c02038" />
<rect x="205.35" y="444.60" width="2.50" height="1.00" fill="#5a1a28" />
<rect x="203.80" y="446.00" width="1.10" height="1.25" fill="#8a1a30" />
<rect x="204.90" y="446.00" width="0.86" height="1.25" fill="#6a1428" />
<rect x="201.30" y="447.40" width="1.40" height="1.25" fill="#d03448" />
<rect x="204.50" y="447.40" width="0.80" height="1.25" fill="#8a1a30" />
<rect x="205.30" y="447.40" width="0.60" height="1.25" fill="#c02038" />
<rect x="201.30" y="448.80" width="1.40" height="1.25" fill="#c02038" />
<rect x="202.70" y="448.80" width="1.40" height="1.25" fill="#b01c30" />
<rect x="205.50" y="448.80" width="0.06" height="1.25" fill="#b01c30" />
<rect x="201.30" y="450.05" width="1.10" height="1.25" fill="#8a1a30" />
<rect x="202.40" y="450.05" width="0.80" height="1.25" fill="#d03448" />
<rect x="203.20" y="450.05" width="1.40" height="1.25" fill="#b01c30" />
<rect x="201.30" y="451.30" width="1.10" height="1.25" fill="#d03448" />
<rect x="202.80" y="451.30" width="1.10" height="1.25" fill="#e8a0ac" />
<rect x="201.30" y="452.70" width="0.80" height="1.25" fill="#d03448" />
<rect x="202.50" y="452.70" width="1.10" height="1.25" fill="#8a1a30" />
<rect x="205.10" y="452.70" width="0.66" height="1.25" fill="#d03448" />
<rect x="205.76" y="452.70" width="2.50" height="1.00" fill="#a01c30" />
<rect x="201.30" y="454.10" width="0.80" height="1.25" fill="#8a1a30" />
<rect x="202.30" y="454.10" width="0.80" height="1.25" fill="#6a1428" />
<rect x="204.60" y="454.10" width="0.88" height="1.25" fill="#b01c30" />
<rect x="205.48" y="454.10" width="0.80" height="1.00" fill="#8a8a98" />
<rect x="201.30" y="455.35" width="1.40" height="1.25" fill="#b01c30" />
<rect x="204.00" y="455.35" width="0.80" height="1.25" fill="#b01c30" />
<rect x="205.20" y="455.35" width="0.45" height="1.25" fill="#dc8090" />
<text x="94.30" y="321.30" font-size="6.5" font-style="italic" fill="#262626" stroke="#262626" stroke-width="0.22">APC</text>
<text x="212.80" y="401.20" font-size="6.2" font-style="italic" fill="#262626" stroke="#262626" stroke-width="0.22">TP53</text>
<text x="212.80" y="408.50" font-size="6.2" font-style="italic" fill="#262626" stroke="#262626" stroke-width="0.22">SOX9</text>
<text x="212.80" y="416.10" font-size="6.2" font-style="italic" fill="#262626" stroke="#262626" stroke-width="0.22">RNF43</text>
<rect x="275.68" y="454.20" width="1.60" height="1.20" fill="#5a1020" />
<rect x="277.88" y="454.20" width="1.60" height="1.20" fill="#5a1020" />
<rect x="280.48" y="454.20" width="2.00" height="1.20" fill="#7a7a84" />
<rect x="283.08" y="454.20" width="1.20" height="1.20" fill="#8a1a2a" />
<rect x="277.10" y="452.60" width="7.06" height="1.20" fill="#e0b0b8" />
<rect x="278.27" y="452.60" width="1.60" height="1.20" fill="#8a1a2a" />
<rect x="280.47" y="452.60" width="1.60" height="1.20" fill="#5a1020" />
<rect x="283.07" y="452.60" width="1.60" height="1.20" fill="#8a1a2a" />
<rect x="276.79" y="451.40" width="5.47" height="1.20" fill="#e0b0b8" />
<rect x="275.93" y="451.40" width="0.90" height="1.20" fill="#8a1a2a" />
<rect x="278.23" y="451.40" width="2.00" height="1.20" fill="#8a1a2a" />
<rect x="279.06" y="449.80" width="0.90" height="1.20" fill="#5a1020" />
<rect x="283.96" y="449.80" width="0.15" height="1.20" fill="#5a1020" />
<rect x="276.55" y="448.60" width="6.46" height="1.20" fill="#d89aa4" />
<rect x="275.65" y="448.60" width="0.90" height="1.20" fill="#5a1020" />
<rect x="277.15" y="448.60" width="1.60" height="1.20" fill="#5a1020" />
<rect x="279.05" y="448.60" width="2.00" height="1.20" fill="#8a1a2a" />
<rect x="283.95" y="448.60" width="0.32" height="1.20" fill="#8a1a2a" />
<rect x="276.21" y="447.00" width="6.39" height="1.20" fill="#e0b0b8" />
<rect x="275.89" y="447.00" width="1.60" height="1.20" fill="#b01c2c" />
<rect x="280.79" y="447.00" width="2.00" height="1.20" fill="#8a1a2a" />
<rect x="276.32" y="445.80" width="2.00" height="1.20" fill="#8a1a2a" />
<rect x="278.62" y="445.80" width="0.90" height="1.20" fill="#7a7a84" />
<rect x="280.92" y="445.80" width="1.60" height="1.20" fill="#b4b4bc" />
<rect x="283.52" y="445.80" width="0.90" height="1.20" fill="#5a1020" />
<rect x="276.92" y="444.60" width="4.86" height="1.20" fill="#e0b0b8" />
<rect x="277.74" y="444.60" width="2.00" height="1.20" fill="#9a9aa4" />
<rect x="281.14" y="444.60" width="0.88" height="1.20" fill="#5a1020" />
<rect x="277.03" y="443.40" width="2.00" height="1.20" fill="#9a9aa4" />
<rect x="280.43" y="443.40" width="1.60" height="1.20" fill="#b01c2c" />
<rect x="282.63" y="443.40" width="0.89" height="1.20" fill="#9a9aa4" />
<rect x="277.91" y="442.20" width="4.32" height="1.20" fill="#d89aa4" />
<rect x="275.85" y="442.20" width="2.00" height="1.20" fill="#5a1020" />
<rect x="281.05" y="442.20" width="0.90" height="1.20" fill="#8a1a2a" />
<rect x="282.25" y="442.20" width="1.07" height="1.20" fill="#b4b4bc" />
<rect x="285.57" y="454.20" width="4.61" height="1.20" fill="#dcb4ba" />
<rect x="290.89" y="454.20" width="0.55" height="1.20" fill="#8a1a2a" />
<rect x="286.04" y="452.60" width="4.79" height="1.20" fill="#c8a8b0" />
<rect x="285.58" y="452.60" width="0.90" height="1.20" fill="#c0202e" />
<rect x="287.88" y="452.60" width="2.00" height="1.20" fill="#c0202e" />
<rect x="286.95" y="451.40" width="4.57" height="1.20" fill="#dcb4ba" />
<rect x="286.45" y="451.40" width="1.20" height="1.20" fill="#8a1a2a" />
<rect x="289.05" y="451.40" width="2.00" height="1.20" fill="#c0202e" />
<rect x="303.19" y="454.20" width="2.48" height="1.20" fill="#a8acc8" />
<rect x="306.16" y="454.20" width="0.02" height="1.20" fill="#2a3a8a" />
<rect x="302.70" y="452.80" width="2.15" height="1.20" fill="#b4b8d4" />
<rect x="302.61" y="451.60" width="1.43" height="1.20" fill="#c8cce0" />
<rect x="302.25" y="451.60" width="0.90" height="1.20" fill="#2a3a8a" />
<rect x="303.75" y="451.60" width="0.90" height="1.20" fill="#2a3a8a" />
<rect x="312.17" y="454.20" width="5.25" height="1.20" fill="#b4cab8" />
<rect x="310.06" y="454.20" width="2.00" height="1.20" fill="#1f6a30" />
<rect x="312.25" y="453.00" width="4.06" height="1.20" fill="#a4bca8" />
<rect x="311.26" y="451.40" width="4.87" height="1.20" fill="#a4bca8" />
<rect x="310.56" y="451.40" width="1.60" height="1.20" fill="#16401f" />
<rect x="313.96" y="451.40" width="1.20" height="1.20" fill="#16401f" />
<rect x="312.09" y="450.00" width="3.10" height="1.20" fill="#a4bca8" />
<rect x="310.94" y="450.00" width="0.90" height="1.20" fill="#b4b4bc" />
<rect x="315.14" y="450.00" width="0.92" height="1.20" fill="#1f6a30" />
<rect x="311.43" y="448.80" width="0.90" height="1.20" fill="#4a8a5a" />
<rect x="315.23" y="448.80" width="1.60" height="1.20" fill="#16401f" />
<rect x="326.01" y="454.20" width="7.94" height="1.20" fill="#c4b8d4" />
<rect x="326.45" y="454.20" width="1.20" height="1.20" fill="#8a7ab0" />
<rect x="328.25" y="454.20" width="0.90" height="1.20" fill="#3a3060" />
<rect x="333.15" y="454.20" width="1.20" height="1.20" fill="#5a4a8a" />
<rect x="335.35" y="454.20" width="1.20" height="1.20" fill="#9a9aa4" />
<rect x="337.15" y="454.20" width="0.56" height="1.20" fill="#5a4a8a" />
<rect x="325.17" y="452.80" width="10.28" height="1.20" fill="#d4cce0" />
<rect x="324.50" y="452.80" width="2.00" height="1.20" fill="#3a3060" />
<rect x="327.50" y="452.80" width="1.20" height="1.20" fill="#5a4a8a" />
<rect x="332.00" y="452.80" width="0.90" height="1.20" fill="#3a3060" />
<rect x="335.80" y="452.80" width="0.90" height="1.20" fill="#3a3060" />
<rect x="324.52" y="451.40" width="10.50" height="1.20" fill="#b4a8c8" />
<rect x="328.96" y="451.40" width="1.60" height="1.20" fill="#5a4a8a" />
<rect x="331.56" y="451.40" width="0.90" height="1.20" fill="#3a3060" />
<rect x="333.46" y="451.40" width="1.60" height="1.20" fill="#5a4a8a" />
<rect x="327.16" y="450.20" width="7.55" height="1.20" fill="#b4a8c8" />
<rect x="324.06" y="450.20" width="0.90" height="1.20" fill="#3a3060" />
<rect x="327.56" y="450.20" width="1.20" height="1.20" fill="#3a3060" />
<rect x="330.16" y="450.20" width="1.20" height="1.20" fill="#8a7ab0" />
<rect x="325.36" y="448.60" width="1.60" height="1.20" fill="#8a7ab0" />
<rect x="328.36" y="448.60" width="1.20" height="1.20" fill="#8a7ab0" />
<rect x="332.86" y="448.60" width="1.20" height="1.20" fill="#3a3060" />
<rect x="325.90" y="447.40" width="9.24" height="1.20" fill="#b4a8c8" />
<rect x="325.02" y="447.40" width="0.90" height="1.20" fill="#8a7ab0" />
<rect x="327.32" y="447.40" width="1.60" height="1.20" fill="#3a3060" />
<rect x="329.52" y="447.40" width="2.00" height="1.20" fill="#7a7a84" />
<rect x="334.72" y="447.40" width="1.20" height="1.20" fill="#5a4a8a" />
<rect x="337.32" y="447.40" width="0.30" height="1.20" fill="#7a7a84" />
<rect x="326.03" y="445.80" width="1.20" height="1.20" fill="#5a4a8a" />
<rect x="328.63" y="445.80" width="0.90" height="1.20" fill="#5a4a8a" />
<rect x="332.43" y="445.80" width="1.20" height="1.20" fill="#8a7ab0" />
<rect x="333.93" y="445.80" width="1.60" height="1.20" fill="#5a4a8a" />
<rect x="328.85" y="444.20" width="1.60" height="1.20" fill="#5a4a8a" />
<rect x="330.75" y="444.20" width="1.58" height="1.20" fill="#3a3060" />
<rect x="357.39" y="454.20" width="2.95" height="1.20" fill="#b4b8d4" />
<rect x="357.96" y="454.20" width="1.60" height="1.20" fill="#1e2660" />
<rect x="360.56" y="454.20" width="0.13" height="1.20" fill="#7a7a84" />
<rect x="357.07" y="453.00" width="2.71" height="1.20" fill="#b4b8d4" />
<rect x="356.10" y="453.00" width="1.60" height="1.20" fill="#2a3a8a" />
<rect x="357.56" y="451.40" width="2.21" height="1.20" fill="#a8acc8" />
<rect x="356.23" y="451.40" width="1.60" height="1.20" fill="#1e2660" />
<rect x="358.13" y="451.40" width="0.90" height="1.20" fill="#2a3a8a" />
<rect x="359.63" y="451.40" width="1.14" height="1.20" fill="#5a6ab0" />
<rect x="356.11" y="450.00" width="1.20" height="1.20" fill="#5a6ab0" />
<rect x="359.11" y="450.00" width="1.12" height="1.20" fill="#7a7a84" />
<rect x="356.47" y="448.80" width="2.51" height="1.20" fill="#b4b8d4" />
<rect x="356.40" y="448.80" width="1.20" height="1.20" fill="#2a3a8a" />
<rect x="358.60" y="448.80" width="1.07" height="1.20" fill="#1e2660" />
<rect x="356.57" y="447.40" width="1.20" height="1.20" fill="#2a3a8a" />
<rect x="359.17" y="447.40" width="1.30" height="1.20" fill="#2a3a8a" />
<rect x="357.00" y="446.20" width="1.97" height="1.20" fill="#a8acc8" />
<rect x="356.57" y="446.20" width="2.00" height="1.20" fill="#2a3a8a" />
<rect x="358.87" y="446.20" width="0.72" height="1.20" fill="#1e2660" />
<rect x="357.34" y="444.80" width="1.25" height="1.20" fill="#a8acc8" />
<rect x="356.74" y="444.80" width="1.20" height="1.20" fill="#2a3a8a" />
<rect x="358.24" y="444.80" width="0.63" height="1.20" fill="#1e2660" />
<rect x="403.33" y="454.20" width="3.10" height="1.20" fill="#a8acc8" />
<rect x="403.06" y="454.20" width="1.20" height="1.20" fill="#1e2660" />
<rect x="405.26" y="454.20" width="1.20" height="1.20" fill="#5a6ab0" />
<rect x="403.24" y="453.00" width="0.90" height="1.20" fill="#5a6ab0" />
<rect x="405.12" y="451.80" width="2.00" height="1.20" fill="#5a6ab0" />
<rect x="404.07" y="450.60" width="3.03" height="1.20" fill="#c8cce0" />
<rect x="403.13" y="450.60" width="0.90" height="1.20" fill="#1e2660" />
<rect x="404.33" y="450.60" width="0.90" height="1.20" fill="#5a6ab0" />
<rect x="405.79" y="449.00" width="0.90" height="1.20" fill="#1e2660" />
<rect x="404.19" y="447.80" width="2.65" height="1.20" fill="#c8cce0" />
<rect x="405.14" y="447.80" width="1.92" height="1.20" fill="#1e2660" />
<rect x="404.07" y="446.60" width="2.21" height="1.20" fill="#b4b8d4" />
<rect x="403.69" y="446.60" width="0.90" height="1.20" fill="#2a3a8a" />
<rect x="403.82" y="445.00" width="2.98" height="1.20" fill="#a8acc8" />
<rect x="406.26" y="445.00" width="1.68" height="1.20" fill="#2a3a8a" />
<rect x="404.11" y="443.80" width="1.69" height="1.20" fill="#b4b8d4" />
<rect x="403.47" y="443.80" width="2.00" height="1.20" fill="#5a6ab0" />
<rect x="409.00" y="454.20" width="1.20" height="1.20" fill="#16401f" />
<rect x="410.50" y="454.20" width="1.20" height="1.20" fill="#7a7a84" />
<rect x="409.41" y="452.80" width="6.33" height="1.20" fill="#c8d8cc" />
<rect x="416.57" y="452.80" width="0.37" height="1.20" fill="#4a8a5a" />
<rect x="409.22" y="451.60" width="2.00" height="1.20" fill="#16401f" />
<rect x="413.42" y="451.60" width="1.20" height="1.20" fill="#b4b4bc" />
<rect x="410.27" y="450.20" width="5.48" height="1.20" fill="#a4bca8" />
<rect x="409.53" y="450.20" width="1.20" height="1.20" fill="#16401f" />
<rect x="411.33" y="450.20" width="1.20" height="1.20" fill="#16401f" />
<rect x="413.13" y="450.20" width="1.20" height="1.20" fill="#7a7a84" />
<rect x="410.11" y="448.60" width="0.90" height="1.20" fill="#4a8a5a" />
<rect x="412.41" y="448.60" width="1.60" height="1.20" fill="#4a8a5a" />
<rect x="411.24" y="447.40" width="4.32" height="1.20" fill="#a4bca8" />
<rect x="409.79" y="447.40" width="0.90" height="1.20" fill="#1f6a30" />
<rect x="409.81" y="446.00" width="1.20" height="1.20" fill="#1f6a30" />
<rect x="412.41" y="446.00" width="2.00" height="1.20" fill="#16401f" />
<rect x="421.68" y="454.20" width="4.95" height="1.20" fill="#b4a8c8" />
<rect x="422.22" y="454.20" width="1.20" height="1.20" fill="#3a3060" />
<rect x="424.82" y="454.20" width="0.90" height="1.20" fill="#5a4a8a" />
<rect x="426.32" y="454.20" width="1.31" height="1.20" fill="#8a7ab0" />
<rect x="420.77" y="452.60" width="1.20" height="1.20" fill="#9a9aa4" />
<rect x="422.27" y="452.60" width="1.60" height="1.20" fill="#5a4a8a" />
<rect x="425.27" y="452.60" width="0.15" height="1.20" fill="#3a3060" />
<rect x="430.58" y="453.00" width="1.33" height="1.20" fill="#e4c8cc" />
<rect x="430.05" y="453.00" width="1.60" height="1.20" fill="#8a1a2a" />
<rect x="430.76" y="451.80" width="1.07" height="1.20" fill="#dcb4ba" />
<rect x="430.52" y="451.80" width="1.60" height="1.20" fill="#7a7a84" />
<rect x="439.58" y="454.20" width="3.08" height="1.20" fill="#c8cce0" />
<rect x="438.58" y="454.20" width="0.90" height="1.20" fill="#1e2660" />
<rect x="440.08" y="454.20" width="2.00" height="1.20" fill="#9a9aa4" />
<rect x="443.08" y="454.20" width="1.00" height="1.20" fill="#2a3a8a" />
<rect x="438.94" y="452.80" width="3.90" height="1.20" fill="#b4b8d4" />
<rect x="438.51" y="452.80" width="1.20" height="1.20" fill="#1e2660" />
<rect x="441.11" y="452.80" width="1.20" height="1.20" fill="#5a6ab0" />
<rect x="443.71" y="452.80" width="0.37" height="1.20" fill="#1e2660" />
<rect x="440.27" y="451.20" width="3.63" height="1.20" fill="#a8acc8" />
<rect x="438.61" y="451.20" width="0.90" height="1.20" fill="#9a9aa4" />
<rect x="444.01" y="451.20" width="0.15" height="1.20" fill="#b4b4bc" />
<rect x="439.19" y="449.80" width="4.26" height="1.20" fill="#b4b8d4" />
<rect x="439.89" y="448.20" width="0.90" height="1.20" fill="#5a6ab0" />
<rect x="439.23" y="446.60" width="3.63" height="1.20" fill="#a8acc8" />
<rect x="438.97" y="446.60" width="0.90" height="1.20" fill="#2a3a8a" />
<rect x="440.17" y="446.60" width="0.90" height="1.20" fill="#1e2660" />
<rect x="442.47" y="446.60" width="0.95" height="1.20" fill="#9a9aa4" />
<rect x="438.75" y="445.00" width="2.00" height="1.20" fill="#1e2660" />
<rect x="441.35" y="445.00" width="0.90" height="1.20" fill="#1e2660" />
<rect x="442.55" y="445.00" width="1.20" height="1.20" fill="#2a3a8a" />
<rect x="439.27" y="443.60" width="4.77" height="1.20" fill="#b4b8d4" />
<rect x="442.47" y="443.60" width="1.20" height="1.20" fill="#2a3a8a" />
<rect x="443.21" y="442.40" width="0.18" height="1.20" fill="#2a3a8a" />
<rect x="440.37" y="440.80" width="3.20" height="1.20" fill="#a8acc8" />
<rect x="442.51" y="440.80" width="1.51" height="1.20" fill="#2a3a8a" />
<rect x="439.72" y="439.60" width="3.43" height="1.20" fill="#a8acc8" />
<rect x="439.28" y="439.60" width="0.90" height="1.20" fill="#1e2660" />
<rect x="440.78" y="439.60" width="0.90" height="1.20" fill="#1e2660" />
<rect x="441.98" y="439.60" width="0.90" height="1.20" fill="#2a3a8a" />
<rect x="439.78" y="438.40" width="2.96" height="1.20" fill="#a8acc8" />
<rect x="438.81" y="438.40" width="0.90" height="1.20" fill="#1e2660" />
<rect x="440.71" y="438.40" width="1.20" height="1.20" fill="#2a3a8a" />
<rect x="442.21" y="438.40" width="0.77" height="1.20" fill="#5a6ab0" />
<rect x="440.81" y="435.80" width="2.00" height="1.20" fill="#2a3a8a" />
<rect x="443.41" y="435.80" width="0.63" height="1.20" fill="#2a3a8a" />
<rect x="440.97" y="434.60" width="0.90" height="1.20" fill="#2a3a8a" />
<rect x="442.17" y="434.60" width="0.90" height="1.20" fill="#2a3a8a" />
<rect x="439.62" y="433.00" width="1.20" height="1.20" fill="#1e2660" />
<rect x="441.42" y="433.00" width="1.60" height="1.20" fill="#b4b4bc" />
<rect x="438.66" y="431.60" width="1.60" height="1.20" fill="#5a6ab0" />
<rect x="440.56" y="431.60" width="1.28" height="1.20" fill="#2a3a8a" />
<rect x="446.05" y="454.20" width="1.60" height="1.20" fill="#16401f" />
<rect x="448.65" y="454.20" width="0.90" height="1.20" fill="#1f6a30" />
<rect x="450.55" y="454.20" width="2.00" height="1.20" fill="#16401f" />
<rect x="452.85" y="454.20" width="0.25" height="1.20" fill="#4a8a5a" />
<rect x="446.10" y="452.80" width="0.90" height="1.20" fill="#1f6a30" />
<rect x="448.00" y="452.80" width="1.20" height="1.20" fill="#1f6a30" />
<rect x="448.08" y="451.20" width="3.44" height="1.20" fill="#c8d8cc" />
<rect x="446.19" y="451.20" width="2.00" height="1.20" fill="#1f6a30" />
<rect x="449.19" y="451.20" width="1.20" height="1.20" fill="#4a8a5a" />
<rect x="450.69" y="451.20" width="2.00" height="1.20" fill="#1f6a30" />
<rect x="447.20" y="450.00" width="4.13" height="1.20" fill="#b4cab8" />
<rect x="452.66" y="450.00" width="0.17" height="1.20" fill="#16401f" />
<rect x="447.03" y="448.60" width="5.97" height="1.20" fill="#b4cab8" />
<rect x="448.96" y="448.60" width="0.90" height="1.20" fill="#16401f" />
<rect x="446.90" y="447.40" width="5.77" height="1.20" fill="#c8d8cc" />
<rect x="452.49" y="447.40" width="0.27" height="1.20" fill="#1f6a30" />
<rect x="446.83" y="445.80" width="4.73" height="1.20" fill="#b4cab8" />
<rect x="450.90" y="445.80" width="2.00" height="1.20" fill="#1f6a30" />
<rect x="446.70" y="444.20" width="4.68" height="1.20" fill="#c8d8cc" />
<rect x="446.29" y="444.20" width="2.00" height="1.20" fill="#16401f" />
<rect x="448.89" y="444.20" width="1.60" height="1.20" fill="#1f6a30" />
<rect x="446.56" y="442.80" width="4.24" height="1.20" fill="#a4bca8" />
<rect x="446.09" y="442.80" width="2.00" height="1.20" fill="#4a8a5a" />
<rect x="451.79" y="442.80" width="0.52" height="1.20" fill="#7a7a84" />
<rect x="446.22" y="441.40" width="0.90" height="1.20" fill="#4a8a5a" />
<rect x="446.67" y="440.20" width="5.33" height="1.20" fill="#b4cab8" />
<rect x="449.55" y="440.20" width="1.60" height="1.20" fill="#16401f" />
<rect x="452.15" y="440.20" width="0.46" height="1.20" fill="#b4b4bc" />
<rect x="448.47" y="438.60" width="3.17" height="1.20" fill="#a4bca8" />
<rect x="446.66" y="438.60" width="1.20" height="1.20" fill="#16401f" />
<rect x="448.16" y="438.60" width="1.20" height="1.20" fill="#4a8a5a" />
<rect x="449.66" y="438.60" width="2.00" height="1.20" fill="#1f6a30" />
<rect x="453.06" y="438.60" width="0.04" height="1.20" fill="#1f6a30" />
<rect x="446.88" y="437.00" width="3.98" height="1.20" fill="#c8d8cc" />
<rect x="448.05" y="437.00" width="0.90" height="1.20" fill="#4a8a5a" />
<rect x="449.25" y="437.00" width="2.00" height="1.20" fill="#4a8a5a" />
<rect x="451.55" y="437.00" width="1.00" height="1.20" fill="#7a7a84" />
<rect x="447.50" y="435.80" width="4.63" height="1.20" fill="#a4bca8" />
<rect x="446.84" y="435.80" width="2.00" height="1.20" fill="#16401f" />
<rect x="447.77" y="434.20" width="2.61" height="1.20" fill="#a4bca8" />
<rect x="446.32" y="434.20" width="1.20" height="1.20" fill="#1f6a30" />
<rect x="448.12" y="434.20" width="1.60" height="1.20" fill="#7a7a84" />
<rect x="451.12" y="434.20" width="0.60" height="1.20" fill="#4a8a5a" />
<rect x="447.12" y="433.00" width="1.20" height="1.20" fill="#16401f" />
<rect x="448.62" y="433.00" width="1.20" height="1.20" fill="#16401f" />
<rect x="452.02" y="433.00" width="0.63" height="1.20" fill="#1f6a30" />
<rect x="447.08" y="431.40" width="4.66" height="1.20" fill="#a4bca8" />
<rect x="446.93" y="431.40" width="1.20" height="1.20" fill="#16401f" />
<rect x="451.33" y="431.40" width="0.54" height="1.20" fill="#16401f" />
<rect x="446.97" y="430.00" width="3.68" height="1.20" fill="#c8d8cc" />
<rect x="447.89" y="428.60" width="1.20" height="1.20" fill="#1f6a30" />
<rect x="447.60" y="427.20" width="3.20" height="1.20" fill="#a4bca8" />
<rect x="447.95" y="425.60" width="3.77" height="1.20" fill="#a4bca8" />
<rect x="446.80" y="425.60" width="2.00" height="1.20" fill="#4a8a5a" />
<rect x="449.10" y="425.60" width="1.60" height="1.20" fill="#1f6a30" />
<rect x="447.91" y="424.40" width="2.99" height="1.20" fill="#c8d8cc" />
<rect x="448.74" y="424.40" width="1.20" height="1.20" fill="#9a9aa4" />
<rect x="453.99" y="454.20" width="5.01" height="1.20" fill="#b4a8c8" />
<rect x="453.05" y="454.20" width="0.90" height="1.20" fill="#5a4a8a" />
<rect x="457.15" y="454.20" width="1.20" height="1.20" fill="#3a3060" />
<rect x="453.58" y="453.00" width="0.90" height="1.20" fill="#5a4a8a" />
<rect x="458.08" y="453.00" width="1.04" height="1.20" fill="#5a4a8a" />
<rect x="453.98" y="451.40" width="4.55" height="1.20" fill="#b4a8c8" />
<rect x="458.07" y="451.40" width="1.29" height="1.20" fill="#8a7ab0" />
<rect x="475.53" y="454.20" width="2.35" height="1.20" fill="#a4bca8" />
<rect x="475.79" y="452.60" width="1.31" height="1.20" fill="#c8d8cc" />
<rect x="475.65" y="451.40" width="1.47" height="1.20" fill="#c8d8cc" />
<rect x="475.05" y="449.80" width="2.00" height="1.20" fill="#1f6a30" />
<rect x="476.78" y="448.60" width="0.76" height="1.20" fill="#1f6a30" />
<rect x="475.03" y="447.40" width="0.90" height="1.20" fill="#16401f" />
<rect x="476.53" y="447.40" width="1.27" height="1.20" fill="#4a8a5a" />
<rect x="475.43" y="445.80" width="0.90" height="1.20" fill="#16401f" />
<rect x="475.89" y="444.20" width="1.23" height="1.20" fill="#a4bca8" />
<rect x="475.07" y="443.00" width="1.20" height="1.20" fill="#16401f" />
<rect x="480.14" y="454.20" width="1.60" height="1.20" fill="#3a3060" />
<rect x="482.74" y="454.20" width="0.90" height="1.20" fill="#8a7ab0" />
<rect x="480.38" y="452.60" width="2.00" height="1.20" fill="#8a7ab0" />
<rect x="483.78" y="452.60" width="0.11" height="1.20" fill="#5a4a8a" />
<rect x="482.69" y="451.40" width="0.82" height="1.20" fill="#8a7ab0" />
<ellipse cx="391.8" cy="451.2" rx="3.6" ry="2.1" fill="none" stroke="#c42a3a" stroke-width="1.2"/>
<rect x="388.60" y="452.20" width="1.40" height="1.20" fill="#3a1a28" />
<rect x="395.20" y="452.60" width="1.60" height="1.20" fill="#3a1a28" />
<rect x="390.00" y="448.40" width="3.50" height="0.90" fill="#a06070" />
<rect x="377.65" y="454.20" width="2.09" height="1.20" fill="#b4b8d4" />
<rect x="377.20" y="454.20" width="0.90" height="1.20" fill="#1e2660" />
<rect x="377.20" y="453.00" width="0.90" height="1.20" fill="#2a3a8a" />
<rect x="380.20" y="453.00" width="0.20" height="1.20" fill="#2a3a8a" />
<rect x="378.13" y="451.80" width="1.90" height="1.20" fill="#a8acc8" />
<rect x="377.20" y="451.80" width="1.20" height="1.20" fill="#5a6ab0" />
<rect x="379.00" y="451.80" width="1.40" height="1.20" fill="#2a3a8a" />
<rect x="377.41" y="450.60" width="2.99" height="1.20" fill="#a8acc8" />
<rect x="377.20" y="450.60" width="1.20" height="1.20" fill="#5a6ab0" />
<rect x="377.95" y="449.40" width="1.79" height="1.20" fill="#b4b8d4" />
<rect x="377.20" y="449.40" width="1.60" height="1.20" fill="#1e2660" />
<rect x="380.20" y="449.40" width="0.20" height="1.20" fill="#2a3a8a" />
<rect x="378.09" y="447.80" width="2.16" height="1.20" fill="#a8acc8" />
<rect x="377.97" y="446.20" width="2.03" height="1.20" fill="#c8cce0" />
<rect x="377.20" y="446.20" width="1.60" height="1.20" fill="#1e2660" />
<rect x="377.50" y="445.00" width="2.02" height="1.20" fill="#a8acc8" />
<rect x="377.20" y="445.00" width="2.00" height="1.20" fill="#1e2660" />
<rect x="379.80" y="445.00" width="0.60" height="1.20" fill="#7a7a84" />
<rect x="379.40" y="443.80" width="1.00" height="1.20" fill="#2a3a8a" />
<rect x="378.03" y="442.60" width="1.76" height="1.20" fill="#a8acc8" />
<rect x="377.20" y="442.60" width="1.20" height="1.20" fill="#1e2660" />
<rect x="379.00" y="442.60" width="1.20" height="1.20" fill="#5a6ab0" />
<rect x="377.37" y="441.40" width="2.15" height="1.20" fill="#b4b8d4" />
<rect x="377.20" y="441.40" width="1.60" height="1.20" fill="#1e2660" />
<rect x="379.10" y="441.40" width="1.30" height="1.20" fill="#2a3a8a" />
<rect x="377.24" y="440.00" width="2.64" height="1.20" fill="#b4b8d4" />
<rect x="377.20" y="440.00" width="1.20" height="1.20" fill="#2a3a8a" />
<rect x="379.00" y="440.00" width="1.20" height="1.20" fill="#7a7a84" />
<rect x="377.20" y="438.80" width="0.90" height="1.20" fill="#b4b4bc" />
<rect x="379.10" y="438.80" width="1.30" height="1.20" fill="#5a6ab0" />
<rect x="377.60" y="437.20" width="1.86" height="1.20" fill="#a8acc8" />
<rect x="377.20" y="437.20" width="2.00" height="1.20" fill="#2a3a8a" />
<rect x="379.80" y="437.20" width="0.60" height="1.20" fill="#1e2660" />
<rect x="377.91" y="434.80" width="1.74" height="1.20" fill="#c8cce0" />
<rect x="377.20" y="434.80" width="2.00" height="1.20" fill="#5a6ab0" />
<rect x="378.01" y="433.20" width="2.36" height="1.20" fill="#b4b8d4" />
<rect x="380.20" y="433.20" width="0.20" height="1.20" fill="#5a6ab0" />
<rect x="377.77" y="432.00" width="2.44" height="1.20" fill="#b4b8d4" />
<rect x="377.20" y="432.00" width="1.60" height="1.20" fill="#5a6ab0" />
<rect x="378.13" y="430.40" width="1.99" height="1.20" fill="#b4b8d4" />
<rect x="379.10" y="430.40" width="0.90" height="1.20" fill="#2a3a8a" />
<rect x="380.30" y="430.40" width="0.10" height="1.20" fill="#5a6ab0" />
<rect x="377.34" y="428.80" width="2.85" height="1.20" fill="#c8cce0" />
<rect x="377.20" y="428.80" width="1.20" height="1.20" fill="#5a6ab0" />
<rect x="379.00" y="428.80" width="1.40" height="1.20" fill="#2a3a8a" />
<rect x="377.68" y="454.20" width="1.51" height="1.20" fill="#c4b8d4" />
<rect x="379.50" y="454.20" width="0.30" height="1.20" fill="#3a3060" />
<rect x="377.92" y="453.00" width="1.64" height="1.20" fill="#c4b8d4" />
<rect x="377.60" y="453.00" width="1.20" height="1.20" fill="#8a7ab0" />
<rect x="379.10" y="453.00" width="0.70" height="1.20" fill="#5a4a8a" />
<rect x="377.91" y="451.40" width="1.42" height="1.20" fill="#d4cce0" />
<rect x="377.60" y="451.40" width="2.00" height="1.20" fill="#3a3060" />
<rect x="377.93" y="450.20" width="1.37" height="1.20" fill="#d4cce0" />
<rect x="377.60" y="450.20" width="0.90" height="1.20" fill="#3a3060" />
<rect x="379.10" y="450.20" width="0.70" height="1.20" fill="#3a3060" />
<rect x="377.60" y="448.80" width="0.90" height="1.20" fill="#5a4a8a" />
<rect x="378.16" y="447.20" width="1.61" height="1.20" fill="#b4a8c8" />
<rect x="377.95" y="446.00" width="1.45" height="1.20" fill="#b4a8c8" />
<rect x="377.60" y="446.00" width="2.00" height="1.20" fill="#3a3060" />
<rect x="377.65" y="443.20" width="1.97" height="1.20" fill="#c4b8d4" />
<rect x="377.60" y="443.20" width="2.00" height="1.20" fill="#8a7ab0" />
<rect x="377.97" y="441.80" width="1.62" height="1.20" fill="#c4b8d4" />
<rect x="377.96" y="440.40" width="1.19" height="1.20" fill="#b4a8c8" />
<rect x="377.60" y="440.40" width="1.60" height="1.20" fill="#3a3060" />
<rect x="377.60" y="439.20" width="2.00" height="1.20" fill="#3a3060" />
<rect x="377.74" y="437.60" width="1.67" height="1.20" fill="#b4a8c8" />
<rect x="377.60" y="437.60" width="0.90" height="1.20" fill="#3a3060" />
<rect x="379.10" y="437.60" width="0.70" height="1.20" fill="#5a4a8a" />
<rect x="378.02" y="436.00" width="1.17" height="1.20" fill="#c4b8d4" />
<rect x="377.60" y="436.00" width="0.90" height="1.20" fill="#5a4a8a" />
<rect x="379.50" y="436.00" width="0.30" height="1.20" fill="#5a4a8a" />
<rect x="377.60" y="434.80" width="2.00" height="1.20" fill="#5a4a8a" />
<rect x="377.60" y="433.60" width="2.00" height="1.20" fill="#8a7ab0" />
<rect x="377.67" y="432.00" width="1.63" height="1.20" fill="#b4a8c8" />
<rect x="377.60" y="432.00" width="1.20" height="1.20" fill="#3a3060" />
<rect x="379.40" y="432.00" width="0.40" height="1.20" fill="#3a3060" />
<rect x="378.21" y="430.60" width="1.57" height="1.20" fill="#c4b8d4" />
<rect x="377.60" y="430.60" width="0.90" height="1.20" fill="#5a4a8a" />
<rect x="377.72" y="429.20" width="1.79" height="1.20" fill="#d4cce0" />
<rect x="377.60" y="429.20" width="1.20" height="1.20" fill="#3a3060" />
<rect x="489.96" y="454.20" width="2.11" height="1.20" fill="#a8acc8" />
<rect x="489.80" y="454.20" width="1.20" height="1.20" fill="#2a3a8a" />
<rect x="491.30" y="454.20" width="1.30" height="1.20" fill="#1e2660" />
<rect x="490.03" y="451.60" width="2.28" height="1.20" fill="#a8acc8" />
<rect x="490.42" y="450.40" width="1.80" height="1.20" fill="#b4b8d4" />
<rect x="491.70" y="450.40" width="0.90" height="1.20" fill="#5a6ab0" />
<rect x="490.16" y="449.00" width="2.14" height="1.20" fill="#b4b8d4" />
<rect x="489.80" y="449.00" width="2.00" height="1.20" fill="#1e2660" />
<rect x="492.40" y="449.00" width="0.20" height="1.20" fill="#1e2660" />
<rect x="489.80" y="446.20" width="1.20" height="1.20" fill="#2a3a8a" />
<rect x="490.59" y="445.00" width="1.80" height="1.20" fill="#c8cce0" />
<rect x="489.80" y="445.00" width="1.20" height="1.20" fill="#2a3a8a" />
<rect x="492.40" y="445.00" width="0.20" height="1.20" fill="#2a3a8a" />
<rect x="490.08" y="443.40" width="2.33" height="1.20" fill="#a8acc8" />
<rect x="492.40" y="443.40" width="0.20" height="1.20" fill="#2a3a8a" />
<rect x="489.80" y="441.80" width="2.00" height="1.20" fill="#2a3a8a" />
<rect x="494.00" y="452.50" width="11.00" height="1.00" fill="#8a8a90" />
<rect x="495.00" y="450.50" width="8.00" height="0.80" fill="#8a8a90" />
<rect x="345.70" y="377.30" width="1.40" height="79.30" fill="#c42c42" />
<rect x="345.50" y="390.50" width="2.20" height="1.00" fill="#3a1a28" />
<rect x="345.50" y="393.50" width="2.20" height="1.00" fill="#5a1a30" />
<rect x="345.50" y="402.50" width="2.20" height="1.00" fill="#5a1a30" />
<rect x="345.50" y="405.00" width="1.40" height="1.00" fill="#3a1a28" />
<rect x="345.50" y="408.50" width="1.40" height="1.00" fill="#5a1a30" />
<rect x="345.50" y="414.00" width="1.40" height="1.00" fill="#5a1a30" />
<rect x="345.50" y="417.00" width="1.40" height="1.00" fill="#5a1a30" />
<rect x="345.50" y="420.50" width="1.40" height="1.00" fill="#5a1a30" />
<rect x="345.50" y="423.00" width="2.20" height="1.00" fill="#5a1a30" />
<rect x="345.50" y="426.50" width="1.40" height="1.00" fill="#5a1a30" />
<rect x="345.50" y="436.00" width="1.80" height="1.00" fill="#5a1a30" />
<rect x="345.50" y="441.50" width="2.20" height="1.00" fill="#3a1a28" />
<rect x="345.50" y="451.00" width="1.80" height="1.00" fill="#3a1a28" />
<rect x="345.50" y="453.50" width="1.40" height="1.00" fill="#5a1a30" />
<rect x="344.80" y="377.20" width="2.60" height="1.40" fill="#3a1a28" />
<rect x="343.60" y="390.50" width="2.00" height="1.20" fill="#3a1a28" />
<rect x="342.30" y="408.70" width="7.50" height="1.00" fill="#6a6a74" />
<rect x="343.00" y="412.40" width="7.00" height="1.00" fill="#6a6a74" />
<rect x="339.20" y="417.40" width="11.80" height="1.00" fill="#6a6a74" />
<rect x="342.00" y="422.80" width="8.00" height="1.00" fill="#a0a0a8" />
<rect x="343.00" y="429.90" width="6.00" height="1.00" fill="#a0a0a8" />
<rect x="341.00" y="433.30" width="10.00" height="1.00" fill="#6a6a74" />
<rect x="342.00" y="436.00" width="9.00" height="1.00" fill="#9a9aa4" />
<rect x="342.00" y="453.20" width="9.00" height="1.00" fill="#4a3a44" />
<rect x="343.00" y="450.50" width="6.00" height="1.00" fill="#9a9aa4" />
<rect x="345.00" y="404.40" width="2.50" height="1.10" fill="#2a1a24" />
<rect x="342.00" y="408.70" width="2.00" height="1.10" fill="#2a1a24" />
<rect x="345.00" y="426.50" width="2.50" height="1.10" fill="#2a1a24" />
<rect x="345.00" y="433.30" width="3.00" height="1.10" fill="#2a1a24" />
<rect x="344.50" y="447.50" width="2.50" height="1.10" fill="#2a1a24" />
<rect x="343.50" y="454.20" width="5.50" height="1.10" fill="#2a1a24" />
<rect x="461.10" y="350.60" width="1.40" height="106.00" fill="#c82a3e" />
<rect x="461.00" y="352.00" width="1.60" height="1.00" fill="#3a1a28" />
<rect x="461.00" y="368.00" width="1.60" height="1.00" fill="#3a1a28" />
<rect x="461.00" y="377.50" width="1.60" height="1.00" fill="#3a1a28" />
<rect x="461.00" y="404.00" width="1.60" height="1.00" fill="#3a1a28" />
<rect x="461.00" y="408.50" width="1.60" height="1.00" fill="#3a1a28" />
<rect x="461.00" y="411.50" width="1.60" height="1.00" fill="#3a1a28" />
<rect x="461.00" y="414.00" width="1.60" height="1.00" fill="#3a1a28" />
<rect x="461.00" y="428.50" width="1.60" height="1.00" fill="#3a1a28" />
<rect x="461.00" y="437.00" width="1.60" height="1.00" fill="#3a1a28" />
<rect x="461.00" y="439.50" width="1.60" height="1.00" fill="#3a1a28" />
<rect x="461.00" y="350.40" width="2.20" height="1.40" fill="#2a1a28" />
<rect x="462.50" y="352.60" width="1.60" height="1.00" fill="#2a1a28" />
<rect x="462.00" y="427.40" width="3.00" height="0.90" fill="#8a6a78" />
<rect x="462.00" y="435.00" width="3.00" height="0.90" fill="#8a6a78" />
<rect x="458.71" y="454.20" width="6.60" height="1.20" fill="#dcb4ba" />
<rect x="456.57" y="454.20" width="1.60" height="1.20" fill="#c0202e" />
<rect x="458.47" y="454.20" width="1.60" height="1.20" fill="#b4b4bc" />
<rect x="464.07" y="454.20" width="1.60" height="1.20" fill="#8a1a2a" />
<rect x="457.10" y="452.60" width="2.00" height="1.20" fill="#c0202e" />
<rect x="457.76" y="447.80" width="3.19" height="1.20" fill="#c8a8b0" />
<rect x="467.44" y="399.80" width="1.60" height="1.25" fill="#8088b0" />
<rect x="469.34" y="399.80" width="1.60" height="1.25" fill="#5a6498" />
<rect x="471.54" y="399.80" width="0.80" height="1.25" fill="#2a3470" />
<rect x="469.55" y="401.20" width="1.60" height="1.25" fill="#3a4a90" />
<rect x="471.75" y="401.20" width="0.59" height="1.25" fill="#26306a" />
<rect x="467.43" y="402.45" width="1.60" height="1.25" fill="#3a4a90" />
<rect x="469.03" y="402.45" width="1.60" height="1.25" fill="#3a4a90" />
<rect x="467.07" y="403.85" width="0.80" height="1.25" fill="#3a4a90" />
<rect x="468.17" y="403.85" width="2.00" height="1.25" fill="#a0a8c8" />
<rect x="470.77" y="403.85" width="1.98" height="1.25" fill="#5a6498" />
<rect x="471.25" y="405.10" width="1.20" height="1.25" fill="#2a3470" />
<rect x="472.45" y="405.10" width="0.36" height="1.25" fill="#3a4a90" />
<rect x="467.20" y="406.35" width="0.80" height="1.25" fill="#8088b0" />
<rect x="468.60" y="406.35" width="1.20" height="1.25" fill="#a0a8c8" />
<rect x="470.40" y="406.35" width="1.99" height="1.25" fill="#5a6498" />
<rect x="467.32" y="407.75" width="1.20" height="1.25" fill="#5a6498" />
<rect x="468.82" y="407.75" width="2.00" height="1.25" fill="#2a3470" />
<rect x="469.55" y="409.15" width="2.00" height="1.25" fill="#3a4a90" />
<rect x="471.85" y="409.15" width="0.96" height="1.25" fill="#a0a8c8" />
<rect x="467.10" y="410.40" width="1.20" height="1.25" fill="#5a6498" />
<rect x="468.60" y="410.40" width="0.80" height="1.25" fill="#5a6498" />
<rect x="469.40" y="410.40" width="2.00" height="1.25" fill="#5a6498" />
<rect x="472.00" y="410.40" width="1.06" height="1.25" fill="#3a4a90" />
<rect x="467.45" y="411.80" width="1.60" height="1.25" fill="#a0a8c8" />
<rect x="469.65" y="411.80" width="1.20" height="1.25" fill="#26306a" />
<rect x="471.15" y="411.80" width="0.80" height="1.25" fill="#3a4a90" />
<rect x="471.95" y="411.80" width="1.19" height="1.25" fill="#3a4a90" />
<rect x="467.27" y="413.05" width="2.00" height="1.25" fill="#8088b0" />
<rect x="469.57" y="413.05" width="1.60" height="1.25" fill="#26306a" />
<rect x="471.17" y="413.05" width="1.20" height="1.25" fill="#8088b0" />
<rect x="472.37" y="413.05" width="0.52" height="1.25" fill="#2a3470" />
<rect x="468.39" y="414.45" width="1.20" height="1.25" fill="#3a4a90" />
<rect x="472.19" y="414.45" width="0.68" height="1.25" fill="#8088b0" />
<rect x="467.16" y="415.70" width="0.80" height="1.25" fill="#5a6498" />
<rect x="468.26" y="415.70" width="1.20" height="1.25" fill="#2a3470" />
<rect x="470.06" y="415.70" width="0.80" height="1.25" fill="#3a4a90" />
<rect x="471.46" y="415.70" width="0.80" height="1.25" fill="#5a6498" />
<rect x="472.86" y="415.70" width="0.15" height="1.25" fill="#2a3470" />
<rect x="467.33" y="416.95" width="1.60" height="1.25" fill="#a0a8c8" />
<rect x="470.63" y="416.95" width="1.60" height="1.25" fill="#2a3470" />
<rect x="467.29" y="418.35" width="1.60" height="1.25" fill="#2a3470" />
<rect x="471.99" y="418.35" width="0.70" height="1.25" fill="#5a6498" />
<rect x="466.94" y="419.60" width="1.20" height="1.25" fill="#5a6498" />
<rect x="468.44" y="419.60" width="1.20" height="1.25" fill="#5a6498" />
<rect x="470.24" y="419.60" width="0.80" height="1.25" fill="#2a3470" />
<rect x="471.64" y="419.60" width="1.01" height="1.25" fill="#5a6498" />
<rect x="467.13" y="421.00" width="1.60" height="1.25" fill="#5a6498" />
<rect x="469.33" y="421.00" width="0.80" height="1.25" fill="#a0a8c8" />
<rect x="470.13" y="421.00" width="1.60" height="1.25" fill="#2a3470" />
<rect x="472.03" y="421.00" width="0.80" height="1.25" fill="#26306a" />
<rect x="472.83" y="421.00" width="0.33" height="1.25" fill="#5a6498" />
<rect x="466.80" y="422.40" width="0.80" height="1.25" fill="#a0a8c8" />
<rect x="469.70" y="422.40" width="2.00" height="1.25" fill="#a0a8c8" />
<rect x="466.76" y="423.65" width="0.80" height="1.25" fill="#5a6498" />
<rect x="468.16" y="423.65" width="1.60" height="1.25" fill="#26306a" />
<rect x="470.36" y="423.65" width="0.80" height="1.25" fill="#26306a" />
<rect x="469.27" y="425.05" width="2.00" height="1.25" fill="#8088b0" />
<rect x="472.07" y="425.05" width="1.14" height="1.25" fill="#26306a" />
<rect x="466.95" y="426.30" width="0.80" height="1.25" fill="#3a4a90" />
<rect x="467.75" y="426.30" width="0.80" height="1.25" fill="#2a3470" />
<rect x="469.15" y="426.30" width="0.80" height="1.25" fill="#8088b0" />
<rect x="469.95" y="426.30" width="2.00" height="1.25" fill="#5a6498" />
<rect x="471.95" y="426.30" width="1.48" height="1.25" fill="#3a4a90" />
<rect x="467.01" y="427.55" width="1.20" height="1.25" fill="#5a6498" />
<rect x="471.41" y="427.55" width="1.72" height="1.25" fill="#8088b0" />
<rect x="466.82" y="428.80" width="0.80" height="1.25" fill="#3a4a90" />
<rect x="468.22" y="428.80" width="1.20" height="1.25" fill="#26306a" />
<rect x="470.02" y="428.80" width="2.00" height="1.25" fill="#5a6498" />
<rect x="472.62" y="428.80" width="0.95" height="1.25" fill="#3a4a90" />
<rect x="467.16" y="430.05" width="0.80" height="1.25" fill="#3a4a90" />
<rect x="470.56" y="430.05" width="2.00" height="1.25" fill="#a0a8c8" />
<rect x="472.86" y="430.05" width="0.30" height="1.25" fill="#2a3470" />
<rect x="466.78" y="431.45" width="0.80" height="1.25" fill="#8088b0" />
<rect x="469.98" y="431.45" width="0.80" height="1.25" fill="#26306a" />
<rect x="471.38" y="431.45" width="1.75" height="1.25" fill="#2a3470" />
<rect x="467.10" y="432.70" width="1.20" height="1.25" fill="#3a4a90" />
<rect x="468.60" y="432.70" width="0.80" height="1.25" fill="#2a3470" />
<rect x="469.70" y="432.70" width="2.00" height="1.25" fill="#8088b0" />
<rect x="472.30" y="432.70" width="0.80" height="1.25" fill="#a0a8c8" />
<rect x="466.72" y="433.95" width="0.80" height="1.25" fill="#3a4a90" />
<rect x="467.82" y="433.95" width="0.80" height="1.25" fill="#2a3470" />
<rect x="469.22" y="433.95" width="2.00" height="1.25" fill="#3a4a90" />
<rect x="471.82" y="433.95" width="1.89" height="1.25" fill="#5a6498" />
<rect x="467.07" y="435.20" width="1.20" height="1.25" fill="#5a6498" />
<rect x="468.57" y="435.20" width="1.60" height="1.25" fill="#3a4a90" />
<rect x="470.17" y="435.20" width="1.60" height="1.25" fill="#8088b0" />
<rect x="472.37" y="435.20" width="1.35" height="1.25" fill="#a0a8c8" />
<rect x="467.94" y="436.45" width="1.60" height="1.25" fill="#3a4a90" />
<rect x="470.14" y="436.45" width="2.00" height="1.25" fill="#26306a" />
<rect x="472.74" y="436.45" width="0.66" height="1.25" fill="#2a3470" />
<rect x="466.67" y="437.85" width="2.00" height="1.25" fill="#a0a8c8" />
<rect x="468.67" y="437.85" width="1.20" height="1.25" fill="#a0a8c8" />
<rect x="470.17" y="437.85" width="1.60" height="1.25" fill="#3a4a90" />
<rect x="472.37" y="437.85" width="1.12" height="1.25" fill="#3a4a90" />
<rect x="466.93" y="439.10" width="2.00" height="1.25" fill="#26306a" />
<rect x="469.23" y="439.10" width="2.00" height="1.25" fill="#3a4a90" />
<rect x="471.23" y="439.10" width="0.80" height="1.25" fill="#8088b0" />
<rect x="472.03" y="439.10" width="1.20" height="1.25" fill="#a0a8c8" />
<rect x="473.23" y="439.10" width="0.13" height="1.25" fill="#5a6498" />
<rect x="466.93" y="440.35" width="0.80" height="1.25" fill="#5a6498" />
<rect x="468.03" y="440.35" width="2.00" height="1.25" fill="#a0a8c8" />
<rect x="470.63" y="440.35" width="1.20" height="1.25" fill="#8088b0" />
<rect x="472.13" y="440.35" width="0.99" height="1.25" fill="#8088b0" />
<rect x="466.59" y="441.60" width="0.80" height="1.25" fill="#a0a8c8" />
<rect x="467.69" y="441.60" width="0.80" height="1.25" fill="#5a6498" />
<rect x="469.09" y="441.60" width="1.20" height="1.25" fill="#5a6498" />
<rect x="470.29" y="441.60" width="1.20" height="1.25" fill="#26306a" />
<rect x="471.49" y="441.60" width="1.60" height="1.25" fill="#8088b0" />
<rect x="467.97" y="443.00" width="2.00" height="1.25" fill="#26306a" />
<rect x="470.57" y="443.00" width="2.00" height="1.25" fill="#a0a8c8" />
<rect x="472.57" y="443.00" width="0.81" height="1.25" fill="#2a3470" />
<rect x="466.63" y="444.40" width="2.00" height="1.25" fill="#a0a8c8" />
<rect x="468.93" y="444.40" width="0.80" height="1.25" fill="#5a6498" />
<rect x="470.03" y="444.40" width="2.00" height="1.25" fill="#a0a8c8" />
<rect x="472.03" y="444.40" width="1.20" height="1.25" fill="#a0a8c8" />
<rect x="467.04" y="445.80" width="0.80" height="1.25" fill="#3a4a90" />
<rect x="468.44" y="445.80" width="2.00" height="1.25" fill="#5a6498" />
<rect x="470.44" y="445.80" width="0.80" height="1.25" fill="#8088b0" />
<rect x="471.84" y="445.80" width="2.00" height="1.25" fill="#8088b0" />
<rect x="466.76" y="447.05" width="0.80" height="1.25" fill="#a0a8c8" />
<rect x="467.56" y="447.05" width="1.20" height="1.25" fill="#2a3470" />
<rect x="471.36" y="447.05" width="0.80" height="1.25" fill="#2a3470" />
<rect x="472.76" y="447.05" width="1.12" height="1.25" fill="#2a3470" />
<rect x="467.01" y="448.45" width="2.00" height="1.25" fill="#5a6498" />
<rect x="469.31" y="448.45" width="1.20" height="1.25" fill="#a0a8c8" />
<rect x="470.81" y="448.45" width="0.80" height="1.25" fill="#26306a" />
<rect x="471.61" y="448.45" width="0.80" height="1.25" fill="#26306a" />
<rect x="472.71" y="448.45" width="1.15" height="1.25" fill="#8088b0" />
<rect x="466.70" y="449.85" width="2.00" height="1.25" fill="#a0a8c8" />
<rect x="469.30" y="449.85" width="1.60" height="1.25" fill="#26306a" />
<rect x="471.20" y="449.85" width="1.20" height="1.25" fill="#a0a8c8" />
<rect x="472.70" y="449.85" width="0.85" height="1.25" fill="#5a6498" />
<rect x="468.45" y="451.25" width="2.00" height="1.25" fill="#5a6498" />
<rect x="470.45" y="451.25" width="0.80" height="1.25" fill="#5a6498" />
<rect x="471.85" y="451.25" width="1.60" height="1.25" fill="#3a4a90" />
<rect x="466.94" y="452.50" width="2.00" height="1.25" fill="#2a3470" />
<rect x="469.24" y="452.50" width="2.00" height="1.25" fill="#8088b0" />
<rect x="473.14" y="452.50" width="0.75" height="1.25" fill="#5a6498" />
<rect x="466.66" y="453.90" width="1.60" height="1.25" fill="#26306a" />
<rect x="468.56" y="453.90" width="2.00" height="1.25" fill="#5a6498" />
<rect x="472.86" y="453.90" width="0.70" height="1.25" fill="#2a3470" />
<rect x="466.69" y="455.15" width="2.00" height="1.25" fill="#a0a8c8" />
<rect x="468.69" y="455.15" width="1.20" height="1.25" fill="#8088b0" />
<rect x="471.69" y="455.15" width="1.60" height="1.25" fill="#a0a8c8" />
<rect x="473.59" y="455.15" width="0.40" height="1.25" fill="#2a3470" />
<text x="353.00" y="385.30" font-size="6.1" font-style="italic" fill="#262626" stroke="#262626" stroke-width="0.22">APC</text>
<text x="439.60" y="363.40" font-size="6.0" font-style="italic" fill="#262626" stroke="#262626" stroke-width="0.22">TP53</text>
<text x="476.40" y="398.30" font-size="6.1" font-style="italic" fill="#262626" stroke="#262626" stroke-width="0.22">SMAD4</text>
<text x="476.40" y="406.00" font-size="6.1" font-style="italic" fill="#262626" stroke="#262626" stroke-width="0.22">TGIF1</text>
</svg></body></html>
